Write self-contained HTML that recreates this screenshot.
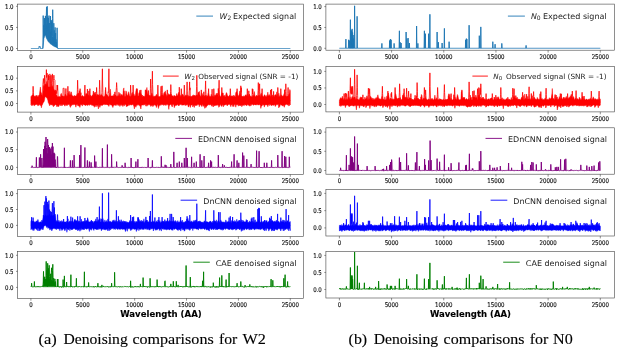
<!DOCTYPE html>
<html><head><meta charset="utf-8"><title>Denoising comparisons</title>
<style>
html,body{margin:0;padding:0;background:#fff;}
body{width:618px;height:348px;overflow:hidden;}
svg{display:block;}
.tk{font-family:"DejaVu Sans","Liberation Sans",sans-serif;font-size:6.4px;fill:#111;stroke:#111;stroke-width:0.15px;}
.lg{font-family:"DejaVu Sans","Liberation Sans",sans-serif;font-size:7.9px;fill:#1a1a1a;}
.xl{font-family:"DejaVu Sans","Liberation Sans",sans-serif;font-size:8.6px;font-weight:bold;fill:#000;stroke:#000;stroke-width:0.12px;}
.cap{font-family:"Liberation Serif","DejaVu Serif",serif;font-size:15px;fill:#000;stroke:#000;stroke-width:0.12px;}
</style></head><body>
<svg width="618" height="348" viewBox="0 0 618 348">
<rect width="618" height="348" fill="#fff"/>
<clipPath id="cL1"><rect x="17.60" y="4.10" width="286.00" height="46.20"/></clipPath>
<polygon clip-path="url(#cL1)" fill="#1f77b4" stroke="#1f77b4" stroke-width="0.5" points="42.8,48.5 43.0,44.0 43.2,39.5 43.5,34.9 43.7,32.0 43.9,29.6 44.1,27.5 44.3,25.8 44.6,24.1 44.8,23.7 45.0,23.6 45.2,23.5 45.4,23.4 45.7,23.4 45.9,23.5 46.1,23.8 46.3,24.3 46.5,24.8 46.8,25.2 47.0,25.6 47.2,26.0 47.4,26.4 47.6,26.8 47.9,27.2 48.1,27.5 48.3,27.9 48.5,28.3 48.7,28.6 49.0,29.0 49.2,29.4 49.4,29.8 49.6,30.1 49.8,30.5 50.1,30.9 50.3,31.3 50.5,31.7 50.7,32.1 50.9,32.6 51.2,33.0 51.4,33.4 51.6,33.8 51.8,34.2 52.0,34.7 52.3,35.3 52.5,35.9 52.7,36.5 52.9,37.1 53.1,37.7 53.4,38.3 53.6,38.9 53.8,39.5 54.0,40.1 54.2,40.7 54.5,41.2 54.7,41.8 54.9,42.3 55.1,42.9 55.3,43.5 55.6,44.0 55.8,44.6 56.0,45.1 56.2,45.5 56.4,45.9 56.7,46.2 56.9,46.6 57.1,47.0 57.3,47.3 57.5,47.7 57.8,48.2 57.8,48.4 57.5,48.1 57.3,48.0 57.1,47.9 56.9,47.7 56.7,47.6 56.4,47.5 56.2,47.4 56.0,47.2 55.8,47.1 55.6,47.0 55.3,47.0 55.1,46.9 54.9,46.8 54.7,46.7 54.5,46.6 54.2,46.5 54.0,46.4 53.8,46.3 53.6,46.1 53.4,46.0 53.1,45.8 52.9,45.7 52.7,45.6 52.5,45.4 52.3,45.3 52.0,45.1 51.8,45.0 51.6,44.8 51.4,44.6 51.2,44.4 50.9,44.2 50.7,44.0 50.5,43.9 50.3,43.7 50.1,43.5 49.8,43.3 49.6,43.0 49.4,42.8 49.2,42.6 49.0,42.3 48.7,42.1 48.5,41.9 48.3,41.6 48.1,41.4 47.9,41.1 47.6,40.6 47.4,40.2 47.2,39.8 47.0,39.3 46.8,38.9 46.5,38.5 46.3,37.9 46.1,37.4 45.9,36.8 45.7,36.2 45.4,35.8 45.2,35.4 45.0,35.1 44.8,34.8 44.6,34.8 44.3,36.0 44.1,37.3 43.9,38.9 43.7,40.8 43.5,42.8 43.2,44.8 43.0,46.6 42.8,48.5"/>
<polyline clip-path="url(#cL1)" fill="none" stroke="#1f77b4" stroke-width="0.95" stroke-linejoin="round" points="30.9,48.5 31.1,48.5 31.4,48.5 31.6,48.5 31.9,48.5 32.1,48.5 32.4,48.5 32.6,48.5 32.9,48.5 33.1,48.5 33.4,48.5 33.6,48.5 33.9,48.5 34.1,48.5 34.4,48.5 34.6,48.5 34.9,48.5 35.1,48.5 35.4,48.5 35.6,48.5 35.9,48.5 36.1,48.5 36.4,48.5 36.6,48.5 36.9,48.5 37.1,48.5 37.4,48.5 37.6,48.5 37.9,48.5 38.1,48.5 38.4,48.5 38.6,48.5 38.9,48.5 39.1,46.3 39.4,46.7 39.6,46.7 39.9,46.2 40.1,46.7 40.4,48.5 40.6,48.5 40.9,48.5 41.1,48.5 41.4,48.5 41.6,48.5 41.9,48.5 42.1,48.5 42.4,48.5 42.6,48.5 42.8,48.5 43.0,45.8 43.2,15.6 43.5,38.7 43.7,25.3 43.9,37.6 44.1,26.3 44.3,36.0 44.6,18.1 44.8,32.2 45.0,19.8 45.2,34.0 45.4,15.9 45.7,31.8 45.9,17.7 46.1,34.0 46.3,16.3 46.5,7.1 46.8,12.3 47.0,28.0 47.2,6.3 47.4,34.5 47.6,16.7 47.9,32.7 48.1,18.9 48.3,30.4 48.5,18.0 48.7,28.9 49.0,15.6 49.2,39.8 49.4,23.0 49.6,31.7 49.8,29.6 50.1,39.6 50.3,28.4 50.5,16.0 50.7,25.5 50.9,39.4 51.2,20.1 51.4,42.4 51.6,21.8 51.8,40.0 52.0,21.7 52.3,35.7 52.5,18.6 52.7,9.7 52.9,17.8 53.1,43.2 53.4,37.8 53.6,41.2 53.8,23.2 54.0,40.5 54.2,30.3 54.5,44.2 54.7,33.7 54.9,42.4 55.1,27.4 55.3,43.7 55.6,33.1 55.8,45.0 56.0,39.4 56.2,46.9 56.4,42.3 56.7,47.0 56.9,45.4 57.1,27.8 57.3,46.8 57.5,47.8 57.8,48.1 57.9,48.5 58.1,48.5 58.4,48.5 58.6,48.5 58.9,48.5 59.1,48.5 59.4,48.5 59.6,48.5 59.9,48.5 60.1,48.5 60.4,48.5 60.6,48.5 60.9,48.5 61.1,48.5 61.4,48.5 61.6,48.5 61.9,48.5 62.1,48.5 62.4,48.5 62.6,48.5 62.9,48.5 63.1,48.5 63.4,48.5 63.6,48.5 63.9,48.5 64.1,48.5 64.4,48.5 64.6,48.5 64.9,48.5 65.1,48.5 65.4,48.5 65.6,48.5 65.9,48.5 66.1,48.5 66.4,48.5 66.6,48.5 66.9,48.5 67.1,48.5 67.4,48.5 67.6,48.5 67.9,48.5 68.1,48.5 68.4,48.5 68.6,48.5 68.9,48.5 69.1,48.5 69.4,48.5 69.6,48.5 69.9,48.5 70.1,48.5 70.4,48.5 70.6,48.5 70.9,48.5 71.1,48.5 71.4,48.5 71.6,48.5 71.9,48.5 72.1,48.5 72.4,48.5 72.6,48.5 72.9,48.5 73.1,48.5 73.4,48.5 73.6,48.5 73.9,48.5 74.1,48.5 74.4,48.5 74.6,48.5 74.9,48.5 75.1,48.5 75.4,48.5 75.6,48.5 75.9,48.5 76.1,48.5 76.4,48.5 76.6,48.5 76.9,48.5 77.1,48.5 77.4,48.5 77.6,48.5 77.9,48.5 78.1,48.5 78.4,48.5 78.6,48.5 78.9,48.5 79.1,48.5 79.4,48.5 79.6,48.5 79.9,48.5 80.1,48.5 80.4,48.5 80.6,48.5 80.9,48.5 81.1,48.5 81.4,48.5 81.6,48.5 81.9,48.5 82.1,48.5 82.4,48.5 82.6,48.5 82.9,48.5 83.1,48.5 83.4,48.5 83.6,48.5 83.9,48.5 84.1,48.5 84.4,48.5 84.6,48.5 84.9,48.5 85.1,48.5 85.4,48.5 85.6,48.5 85.9,48.5 86.1,48.5 86.4,48.5 86.6,48.5 86.9,48.5 87.1,48.5 87.4,48.5 87.6,48.5 87.9,48.5 88.1,48.5 88.4,48.5 88.6,48.5 88.9,48.5 89.1,48.5 89.4,48.5 89.6,48.5 89.9,48.5 90.1,48.5 90.4,48.5 90.6,48.5 90.9,48.5 91.1,48.5 91.4,48.5 91.6,48.5 91.9,48.5 92.1,48.5 92.4,48.5 92.6,48.5 92.9,48.5 93.1,48.5 93.4,48.5 93.6,48.5 93.9,48.5 94.1,48.5 94.4,48.5 94.6,48.5 94.9,48.5 95.1,48.5 95.4,48.5 95.6,48.5 95.9,48.5 96.1,48.5 96.4,48.5 96.6,48.5 96.9,48.5 97.1,48.5 97.4,48.5 97.6,48.5 97.9,48.5 98.1,48.5 98.4,48.5 98.6,48.5 98.9,48.5 99.1,48.5 99.4,48.5 99.6,48.5 99.9,48.5 100.1,48.5 100.4,48.5 100.6,48.5 100.9,48.5 101.1,48.5 101.4,48.5 101.6,48.5 101.9,48.5 102.1,48.5 102.4,48.5 102.6,48.5 102.9,48.5 103.1,48.5 103.4,48.5 103.6,48.5 103.9,48.5 104.1,48.5 104.4,48.5 104.6,48.5 104.9,48.5 105.1,48.5 105.4,48.5 105.6,48.5 105.9,48.5 106.1,48.5 106.4,48.5 106.6,48.5 106.9,48.5 107.1,48.5 107.4,48.5 107.6,48.5 107.9,48.5 108.1,48.5 108.4,48.5 108.6,48.5 108.9,48.5 109.1,48.5 109.4,48.5 109.6,48.5 109.9,48.5 110.1,48.5 110.4,48.5 110.6,48.5 110.9,48.5 111.1,48.5 111.4,48.5 111.6,48.5 111.9,48.5 112.1,48.5 112.4,48.5 112.6,48.5 112.9,48.5 113.1,48.5 113.4,48.5 113.6,48.5 113.9,48.5 114.1,48.5 114.4,48.5 114.6,48.5 114.9,48.5 115.1,48.5 115.4,48.5 115.6,48.5 115.9,48.5 116.1,48.5 116.4,48.5 116.6,48.5 116.9,48.5 117.1,48.5 117.4,48.5 117.6,48.5 117.9,48.5 118.1,48.5 118.4,48.5 118.6,48.5 118.9,48.5 119.1,48.5 119.4,48.5 119.6,48.5 119.9,48.5 120.1,48.5 120.4,48.5 120.6,48.5 120.9,48.5 121.1,48.5 121.4,48.5 121.6,48.5 121.9,48.5 122.1,48.5 122.4,48.5 122.6,48.5 122.9,48.5 123.1,48.5 123.4,48.5 123.6,48.5 123.9,48.5 124.1,48.5 124.4,48.5 124.6,48.5 124.9,48.5 125.1,48.5 125.4,48.5 125.6,48.5 125.9,48.5 126.1,48.5 126.4,48.5 126.6,48.5 126.9,48.5 127.1,48.5 127.4,48.5 127.6,48.5 127.9,48.5 128.1,48.5 128.4,48.5 128.6,48.5 128.9,48.5 129.1,48.5 129.4,48.5 129.6,48.5 129.9,48.5 130.1,48.5 130.4,48.5 130.6,48.5 130.9,48.5 131.1,48.5 131.4,48.5 131.6,48.5 131.9,48.5 132.1,48.5 132.4,48.5 132.6,48.5 132.9,48.5 133.1,48.5 133.4,48.5 133.6,48.5 133.9,48.5 134.1,48.5 134.4,48.5 134.6,48.5 134.9,48.5 135.1,48.5 135.4,48.5 135.6,48.5 135.9,48.5 136.1,48.5 136.4,48.5 136.6,48.5 136.9,48.5 137.1,48.5 137.4,48.5 137.6,48.5 137.9,48.5 138.1,48.5 138.4,48.5 138.6,48.5 138.9,48.5 139.1,48.5 139.4,48.5 139.6,48.5 139.9,48.5 140.1,48.5 140.4,48.5 140.6,48.5 140.9,48.5 141.1,48.5 141.4,48.5 141.6,48.5 141.9,48.5 142.1,48.5 142.4,48.5 142.6,48.5 142.9,48.5 143.1,48.5 143.4,48.5 143.6,48.5 143.9,48.5 144.1,48.5 144.4,48.5 144.6,48.5 144.9,48.5 145.1,48.5 145.4,48.5 145.6,48.5 145.9,48.5 146.1,48.5 146.4,48.5 146.6,48.5 146.9,48.5 147.1,48.5 147.4,48.5 147.6,48.5 147.9,48.5 148.1,48.5 148.4,48.5 148.6,48.5 148.9,48.5 149.1,48.5 149.4,48.5 149.6,48.5 149.9,48.5 150.1,48.5 150.4,48.5 150.6,48.5 150.9,48.5 151.1,48.5 151.4,48.5 151.6,48.5 151.9,48.5 152.1,48.5 152.4,48.5 152.6,48.5 152.9,48.5 153.1,48.5 153.4,48.5 153.6,48.5 153.9,48.5 154.1,48.5 154.4,48.5 154.6,48.5 154.9,48.5 155.1,48.5 155.4,48.5 155.6,48.5 155.9,48.5 156.1,48.5 156.4,48.5 156.6,48.5 156.9,48.5 157.1,48.5 157.4,48.5 157.6,48.5 157.9,48.5 158.1,48.5 158.4,48.5 158.6,48.5 158.9,48.5 159.1,48.5 159.4,48.5 159.6,48.5 159.9,48.5 160.1,48.5 160.4,48.5 160.6,48.5 160.8,48.5 161.1,48.5 161.3,48.5 161.6,48.5 161.8,48.5 162.1,48.5 162.3,48.5 162.6,48.5 162.8,48.5 163.1,48.5 163.3,48.5 163.6,48.5 163.8,48.5 164.1,48.5 164.3,48.5 164.6,48.5 164.8,48.5 165.1,48.5 165.3,48.5 165.6,48.5 165.8,48.5 166.1,48.5 166.3,48.5 166.6,48.5 166.8,48.5 167.1,48.5 167.3,48.5 167.6,48.5 167.8,48.5 168.1,48.5 168.3,48.5 168.6,48.5 168.8,48.5 169.1,48.5 169.3,48.5 169.6,48.5 169.8,48.5 170.1,48.5 170.3,48.5 170.6,48.5 170.8,48.5 171.1,48.5 171.3,48.5 171.6,48.5 171.8,48.5 172.1,48.5 172.3,48.5 172.6,48.5 172.8,48.5 173.1,48.5 173.3,48.5 173.6,48.5 173.8,48.5 174.1,48.5 174.3,48.5 174.6,48.5 174.8,48.5 175.1,48.5 175.3,48.5 175.6,48.5 175.8,48.5 176.1,48.5 176.3,48.5 176.6,48.5 176.8,48.5 177.1,48.5 177.3,48.5 177.6,48.5 177.8,48.5 178.1,48.5 178.3,48.5 178.6,48.5 178.8,48.5 179.1,48.5 179.3,48.5 179.6,48.5 179.8,48.5 180.1,48.5 180.3,48.5 180.6,48.5 180.8,48.5 181.1,48.5 181.3,48.5 181.6,48.5 181.8,48.5 182.1,48.5 182.3,48.5 182.6,48.5 182.8,48.5 183.1,48.5 183.3,48.5 183.6,48.5 183.8,48.5 184.1,48.5 184.3,48.5 184.6,48.5 184.8,48.5 185.1,48.5 185.3,48.5 185.6,48.5 185.8,48.5 186.1,48.5 186.3,48.5 186.6,48.5 186.8,48.5 187.1,48.5 187.3,48.5 187.6,48.5 187.8,48.5 188.1,48.5 188.3,48.5 188.6,48.5 188.8,48.5 189.1,48.5 189.3,48.5 189.6,48.5 189.8,48.5 190.1,48.5 190.3,48.5 190.6,48.5 190.8,48.5 191.1,48.5 191.3,48.5 191.6,48.5 191.8,48.5 192.1,48.5 192.3,48.5 192.6,48.5 192.8,48.5 193.1,48.5 193.3,48.5 193.6,48.5 193.8,48.5 194.1,48.5 194.3,48.5 194.6,48.5 194.8,48.5 195.1,48.5 195.3,48.5 195.6,48.5 195.8,48.5 196.1,48.5 196.3,48.5 196.6,48.5 196.8,48.5 197.1,48.5 197.3,48.5 197.6,48.5 197.8,48.5 198.1,48.5 198.3,48.5 198.6,48.5 198.8,48.5 199.1,48.5 199.3,48.5 199.6,48.5 199.8,48.5 200.1,48.5 200.3,48.5 200.6,48.5 200.8,48.5 201.1,48.5 201.3,48.5 201.6,48.5 201.8,48.5 202.1,48.5 202.3,48.5 202.6,48.5 202.8,48.5 203.1,48.5 203.3,48.5 203.6,48.5 203.8,48.5 204.1,48.5 204.3,48.5 204.6,48.5 204.8,48.5 205.1,48.5 205.3,48.5 205.6,48.5 205.8,48.5 206.1,48.5 206.3,48.5 206.6,48.5 206.8,48.5 207.1,48.5 207.3,48.5 207.6,48.5 207.8,48.5 208.1,48.5 208.3,48.5 208.6,48.5 208.8,48.5 209.1,48.5 209.3,48.5 209.6,48.5 209.8,48.5 210.1,48.5 210.3,48.5 210.6,48.5 210.8,48.5 211.1,48.5 211.3,48.5 211.6,48.5 211.8,48.5 212.1,48.5 212.3,48.5 212.6,48.5 212.8,48.5 213.1,48.5 213.3,48.5 213.6,48.5 213.8,48.5 214.1,48.5 214.3,48.5 214.6,48.5 214.8,48.5 215.1,48.5 215.3,48.5 215.6,48.5 215.8,48.5 216.1,48.5 216.3,48.5 216.6,48.5 216.8,48.5 217.1,48.5 217.3,48.5 217.6,48.5 217.8,48.5 218.1,48.5 218.3,48.5 218.6,48.5 218.8,48.5 219.1,48.5 219.3,48.5 219.6,48.5 219.8,48.5 220.1,48.5 220.3,48.5 220.6,48.5 220.8,48.5 221.1,48.5 221.3,48.5 221.6,48.5 221.8,48.5 222.1,48.5 222.3,48.5 222.6,48.5 222.8,48.5 223.1,48.5 223.3,48.5 223.6,48.5 223.8,48.5 224.1,48.5 224.3,48.5 224.6,48.5 224.8,48.5 225.1,48.5 225.3,48.5 225.6,48.5 225.8,48.5 226.1,48.5 226.3,48.5 226.6,48.5 226.8,48.5 227.1,48.5 227.3,48.5 227.6,48.5 227.8,48.5 228.1,48.5 228.3,48.5 228.6,48.5 228.8,48.5 229.1,48.5 229.3,48.5 229.6,48.5 229.8,48.5 230.1,48.5 230.3,48.5 230.6,48.5 230.8,48.5 231.1,48.5 231.3,48.5 231.6,48.5 231.8,48.5 232.1,48.5 232.3,48.5 232.6,48.5 232.8,48.5 233.1,48.5 233.3,48.5 233.6,48.5 233.8,48.5 234.1,48.5 234.3,48.5 234.6,48.5 234.8,48.5 235.1,48.5 235.3,48.5 235.6,48.5 235.8,48.5 236.1,48.5 236.3,48.5 236.6,48.5 236.8,48.5 237.1,48.5 237.3,48.5 237.6,48.5 237.8,48.5 238.1,48.5 238.3,48.5 238.6,48.5 238.8,48.5 239.1,48.5 239.3,48.5 239.6,48.5 239.8,48.5 240.1,48.5 240.3,48.5 240.6,48.5 240.8,48.5 241.1,48.5 241.3,48.5 241.6,48.5 241.8,48.5 242.1,48.5 242.3,48.5 242.6,48.5 242.8,48.5 243.1,48.5 243.3,48.5 243.6,48.5 243.8,48.5 244.1,48.5 244.3,48.5 244.6,48.5 244.8,48.5 245.1,48.5 245.3,48.5 245.6,48.5 245.8,48.5 246.1,48.5 246.3,48.5 246.6,48.5 246.8,48.5 247.1,48.5 247.3,48.5 247.6,48.5 247.8,48.5 248.1,48.5 248.3,48.5 248.6,48.5 248.8,48.5 249.1,48.5 249.3,48.5 249.6,48.5 249.8,48.5 250.1,48.5 250.3,48.5 250.6,48.5 250.8,48.5 251.1,48.5 251.3,48.5 251.6,48.5 251.8,48.5 252.1,48.5 252.3,48.5 252.6,48.5 252.8,48.5 253.1,48.5 253.3,48.5 253.6,48.5 253.8,48.5 254.1,48.5 254.3,48.5 254.6,48.5 254.8,48.5 255.1,48.5 255.3,48.5 255.6,48.5 255.8,48.5 256.1,48.5 256.3,48.5 256.6,48.5 256.8,48.5 257.1,48.5 257.3,48.5 257.6,48.5 257.8,48.5 258.1,48.5 258.3,48.5 258.6,48.5 258.8,48.5 259.1,48.5 259.3,48.5 259.6,48.5 259.8,48.5 260.1,48.5 260.3,48.5 260.6,48.5 260.8,48.5 261.1,48.5 261.3,48.5 261.6,48.5 261.8,48.5 262.1,48.5 262.3,48.5 262.6,48.5 262.8,48.5 263.1,48.5 263.3,48.5 263.6,48.5 263.8,48.5 264.1,48.5 264.3,48.5 264.6,48.5 264.8,48.5 265.1,48.5 265.3,48.5 265.6,48.5 265.8,48.5 266.1,48.5 266.3,48.5 266.6,48.5 266.8,48.5 267.1,48.5 267.3,48.5 267.6,48.5 267.8,48.5 268.1,48.5 268.3,48.5 268.6,48.5 268.8,48.5 269.1,48.5 269.3,48.5 269.6,48.5 269.8,48.5 270.1,48.5 270.3,48.5 270.6,48.5 270.8,48.5 271.1,48.5 271.3,48.5 271.6,48.5 271.8,48.5 272.1,48.5 272.3,48.5 272.6,48.5 272.8,48.5 273.1,48.5 273.3,48.5 273.6,48.5 273.8,48.5 274.1,48.5 274.3,48.5 274.6,48.5 274.8,48.5 275.1,48.5 275.3,48.5 275.6,48.5 275.8,48.5 276.1,48.5 276.3,48.5 276.6,48.5 276.8,48.5 277.1,48.5 277.3,48.5 277.6,48.5 277.8,48.5 278.1,48.5 278.3,48.5 278.6,48.5 278.8,48.5 279.1,48.5 279.3,48.5 279.6,48.5 279.8,48.5 280.1,48.5 280.3,48.5 280.6,48.5 280.8,48.5 281.1,48.5 281.3,48.5 281.6,48.5 281.8,48.5 282.1,48.5 282.3,48.5 282.6,48.5 282.8,48.5 283.1,48.5 283.3,48.5 283.6,48.5 283.8,48.5 284.1,48.5 284.3,48.5 284.6,48.5 284.8,48.5 285.1,48.5 285.3,48.5 285.6,48.5 285.8,48.5 286.1,48.5 286.3,48.5 286.6,48.5 286.8,48.5 287.1,48.5 287.3,48.5 287.6,48.5 287.8,48.5 288.1,48.5 288.3,48.5 288.6,48.5 288.8,48.5 289.1,48.5 289.3,48.5 289.6,48.5 289.8,48.5 290.1,48.5 290.3,48.5"/>
<rect x="17.60" y="4.10" width="286.00" height="46.20" fill="none" stroke="#444444" stroke-width="0.60"/>
<line x1="16.00" y1="48.50" x2="17.60" y2="48.50" stroke="#444444" stroke-width="0.60"/>
<text x="13.60" y="50.72" text-anchor="end" class="tk" textLength="8.67" lengthAdjust="spacingAndGlyphs">0.0</text>
<line x1="16.00" y1="27.40" x2="17.60" y2="27.40" stroke="#444444" stroke-width="0.60"/>
<text x="13.60" y="29.62" text-anchor="end" class="tk" textLength="8.67" lengthAdjust="spacingAndGlyphs">0.5</text>
<line x1="16.00" y1="6.30" x2="17.60" y2="6.30" stroke="#444444" stroke-width="0.60"/>
<text x="13.60" y="8.52" text-anchor="end" class="tk" textLength="8.67" lengthAdjust="spacingAndGlyphs">1.0</text>
<line x1="30.90" y1="50.30" x2="30.90" y2="52.70" stroke="#444444" stroke-width="0.60"/>
<text x="30.90" y="59.00" text-anchor="middle" class="tk" textLength="3.47" lengthAdjust="spacingAndGlyphs">0</text>
<line x1="82.78" y1="50.30" x2="82.78" y2="52.70" stroke="#444444" stroke-width="0.60"/>
<text x="82.78" y="59.00" text-anchor="middle" class="tk" textLength="13.86" lengthAdjust="spacingAndGlyphs">5000</text>
<line x1="134.66" y1="50.30" x2="134.66" y2="52.70" stroke="#444444" stroke-width="0.60"/>
<text x="134.66" y="59.00" text-anchor="middle" class="tk" textLength="17.33" lengthAdjust="spacingAndGlyphs">10000</text>
<line x1="186.54" y1="50.30" x2="186.54" y2="52.70" stroke="#444444" stroke-width="0.60"/>
<text x="186.54" y="59.00" text-anchor="middle" class="tk" textLength="17.33" lengthAdjust="spacingAndGlyphs">15000</text>
<line x1="238.42" y1="50.30" x2="238.42" y2="52.70" stroke="#444444" stroke-width="0.60"/>
<text x="238.42" y="59.00" text-anchor="middle" class="tk" textLength="17.33" lengthAdjust="spacingAndGlyphs">20000</text>
<line x1="290.30" y1="50.30" x2="290.30" y2="52.70" stroke="#444444" stroke-width="0.60"/>
<text x="290.30" y="59.00" text-anchor="middle" class="tk" textLength="17.33" lengthAdjust="spacingAndGlyphs">25000</text>
<line x1="196.30" y1="16.10" x2="213.00" y2="16.10" stroke="#1f77b4" stroke-width="0.9"/>
<text x="219.60" y="19.10" class="lg" style="font-size:7.90px"><tspan font-style="italic">W</tspan><tspan font-size="6.00" dy="1.2">2</tspan></text>
<text x="233.03" y="19.10" class="lg" style="font-size:7.90px" textLength="63.21" lengthAdjust="spacingAndGlyphs">Expected signal</text>
<clipPath id="cL2"><rect x="17.60" y="66.30" width="286.00" height="45.80"/></clipPath>
<polygon clip-path="url(#cL2)" fill="#ff0000" stroke="#ff0000" stroke-width="0.5" points="30.9,96.5 31.4,96.2 31.9,95.6 32.4,95.0 32.9,95.1 33.4,95.1 33.9,95.8 34.4,96.1 34.9,96.5 35.4,96.3 35.9,95.6 36.4,96.2 36.9,95.0 37.4,96.5 37.9,96.7 38.4,95.9 38.9,95.1 39.4,94.7 39.9,90.8 40.4,87.1 40.9,92.0 41.4,93.0 41.9,95.0 42.4,96.7 42.9,92.9 43.4,86.4 43.9,85.4 44.4,85.7 44.9,86.2 45.4,85.5 45.9,85.6 46.4,83.1 46.9,81.3 47.4,84.2 47.9,86.5 48.4,86.9 48.9,87.1 49.4,87.0 49.9,87.0 50.4,86.7 50.9,87.0 51.4,86.7 51.9,87.8 52.4,86.5 52.9,85.5 53.4,88.4 53.9,89.3 54.4,90.1 54.9,90.7 55.4,90.5 55.9,91.9 56.4,95.1 56.9,95.2 57.4,96.7 57.9,96.7 58.4,96.7 58.9,96.5 59.4,96.4 59.9,96.8 60.4,96.7 60.9,93.7 61.4,93.4 61.9,95.7 62.4,96.1 62.9,95.9 63.4,96.5 63.9,96.3 64.4,96.5 64.9,95.7 65.4,94.0 65.9,94.9 66.4,95.8 66.9,96.5 67.4,95.7 67.9,95.4 68.4,92.8 68.9,91.2 69.4,91.5 69.9,95.1 70.4,94.3 70.9,91.7 71.4,92.1 71.9,95.1 72.4,95.9 72.9,95.8 73.4,96.0 73.9,96.8 74.4,95.3 74.9,96.3 75.4,96.0 75.9,96.0 76.4,96.1 76.9,94.5 77.4,93.9 77.9,92.9 78.4,93.1 78.9,93.6 79.4,96.2 79.9,96.2 80.4,96.1 80.9,96.6 81.4,96.6 81.9,96.0 82.4,95.4 82.9,96.1 83.4,96.6 83.9,96.6 84.4,96.3 84.9,96.5 85.4,96.0 85.9,93.6 86.4,93.7 86.9,93.8 87.4,94.3 87.9,96.1 88.4,94.8 88.9,95.9 89.4,96.4 89.9,95.8 90.4,95.3 90.9,96.6 91.4,95.8 91.9,96.4 92.4,95.2 92.9,94.8 93.4,95.8 93.9,92.9 94.4,93.3 94.9,94.5 95.4,93.7 95.9,94.8 96.4,96.2 96.9,95.4 97.4,94.4 97.9,94.8 98.4,95.2 98.9,94.6 99.4,94.6 99.9,96.2 100.4,95.3 100.9,94.6 101.4,94.9 101.9,94.7 102.4,96.1 102.9,96.1 103.4,96.9 103.9,96.8 104.4,96.2 104.9,96.0 105.4,90.0 105.9,95.0 106.4,94.2 106.9,94.5 107.4,95.8 107.9,95.6 108.4,96.8 108.9,96.9 109.4,95.8 109.9,95.2 110.4,89.2 110.9,95.9 111.4,96.0 111.9,96.0 112.4,95.8 112.9,96.1 113.4,96.0 113.9,94.1 114.4,94.3 114.9,96.3 115.4,95.0 115.9,95.1 116.4,96.8 116.9,96.1 117.4,96.2 117.9,96.2 118.4,94.9 118.9,92.1 119.4,93.7 119.9,96.0 120.4,96.3 120.9,95.6 121.4,94.7 121.9,94.3 122.4,94.9 122.9,96.2 123.4,89.3 123.9,87.9 124.4,95.3 124.9,96.9 125.4,95.8 125.9,90.8 126.4,91.8 126.9,94.4 127.4,95.2 127.9,95.5 128.4,91.7 128.9,92.8 129.4,95.8 129.9,96.2 130.4,96.4 130.9,95.9 131.4,95.2 131.9,93.1 132.4,92.4 132.9,95.4 133.4,95.8 133.9,93.8 134.4,95.5 134.9,96.3 135.4,95.0 135.9,91.0 136.4,88.7 136.9,88.8 137.4,95.4 137.9,96.1 138.4,95.9 138.9,92.7 139.4,92.3 139.9,90.1 140.4,92.6 140.9,93.5 141.4,94.2 141.9,95.8 142.4,95.0 142.9,96.7 143.4,96.1 143.9,96.0 144.4,96.5 144.9,96.7 145.4,94.4 145.9,90.1 146.4,90.8 146.9,87.5 147.4,92.2 147.9,94.4 148.4,95.1 148.9,95.3 149.4,95.5 149.9,95.4 150.4,96.4 150.9,95.0 151.4,95.1 151.9,92.9 152.4,94.4 152.9,96.5 153.4,96.4 153.9,96.5 154.4,95.9 154.9,96.4 155.4,95.7 155.9,96.2 156.4,94.3 156.9,95.0 157.4,95.7 157.9,96.3 158.4,96.5 158.9,96.7 159.4,96.5 159.9,96.6 160.4,96.4 160.8,96.2 161.3,95.1 161.8,96.1 162.3,95.1 162.8,95.3 163.3,95.6 163.8,93.3 164.3,92.1 164.8,93.4 165.3,90.9 165.8,93.6 166.3,94.8 166.8,96.4 167.3,96.1 167.8,95.6 168.3,93.6 168.8,94.7 169.3,95.1 169.8,94.3 170.3,94.1 170.8,94.8 171.3,94.2 171.8,95.8 172.3,95.8 172.8,95.9 173.3,96.7 173.8,95.5 174.3,95.6 174.8,95.7 175.3,96.3 175.8,96.3 176.3,95.4 176.8,93.5 177.3,95.7 177.8,95.4 178.3,93.6 178.8,92.2 179.3,94.3 179.8,96.7 180.3,96.6 180.8,95.2 181.3,95.5 181.8,96.5 182.3,93.9 182.8,94.5 183.3,95.2 183.8,96.4 184.3,96.5 184.8,96.6 185.3,95.4 185.8,95.1 186.3,95.5 186.8,95.5 187.3,96.9 187.8,94.9 188.3,95.8 188.8,96.8 189.3,95.9 189.8,96.3 190.3,96.4 190.8,96.2 191.3,96.3 191.8,96.6 192.3,96.0 192.8,95.2 193.3,94.8 193.8,96.3 194.3,95.0 194.8,95.9 195.3,95.6 195.8,96.2 196.3,95.2 196.8,94.7 197.3,96.1 197.8,94.5 198.3,92.0 198.8,92.8 199.3,91.3 199.8,94.4 200.3,96.5 200.8,96.3 201.3,96.8 201.8,93.1 202.3,94.1 202.8,96.1 203.3,95.0 203.8,96.9 204.3,95.9 204.8,96.2 205.3,95.1 205.8,96.3 206.3,95.3 206.8,96.9 207.3,96.0 207.8,95.5 208.3,93.2 208.8,94.8 209.3,96.3 209.8,96.5 210.3,96.6 210.8,95.9 211.3,94.2 211.8,96.6 212.3,95.8 212.8,96.7 213.3,96.4 213.8,96.6 214.3,96.6 214.8,95.1 215.3,94.8 215.8,96.3 216.3,93.3 216.8,94.5 217.3,93.1 217.8,95.0 218.3,95.2 218.8,96.4 219.3,94.6 219.8,96.1 220.3,96.4 220.8,96.8 221.3,95.3 221.8,92.7 222.3,94.1 222.8,92.8 223.3,96.3 223.8,95.9 224.3,95.2 224.8,96.3 225.3,96.9 225.8,94.6 226.3,92.6 226.8,93.0 227.3,95.1 227.8,95.9 228.3,96.3 228.8,96.6 229.3,95.5 229.8,95.3 230.3,96.5 230.8,96.1 231.3,95.9 231.8,96.3 232.3,95.7 232.8,96.3 233.3,96.6 233.8,95.0 234.3,96.1 234.8,96.3 235.3,96.9 235.8,92.5 236.3,92.3 236.8,91.5 237.3,94.1 237.8,96.1 238.3,95.5 238.8,96.6 239.3,93.6 239.8,90.9 240.3,91.9 240.8,95.0 241.3,96.8 241.8,96.1 242.3,96.6 242.8,96.2 243.3,96.8 243.8,95.7 244.3,96.3 244.8,96.5 245.3,95.1 245.8,94.8 246.3,96.3 246.8,95.2 247.3,94.1 247.8,96.0 248.3,96.9 248.8,95.1 249.3,94.0 249.8,95.1 250.3,96.4 250.8,96.1 251.3,96.8 251.8,96.8 252.3,96.4 252.8,95.4 253.3,96.0 253.8,94.1 254.3,91.5 254.8,94.9 255.3,96.4 255.8,96.4 256.3,95.7 256.8,95.1 257.3,96.3 257.8,96.0 258.3,95.6 258.8,95.4 259.3,95.1 259.8,96.1 260.3,96.8 260.8,94.1 261.3,93.2 261.8,95.1 262.3,96.5 262.8,96.1 263.3,96.7 263.8,96.2 264.3,94.8 264.8,94.9 265.3,95.7 265.8,96.6 266.3,96.7 266.8,95.3 267.3,95.4 267.8,92.1 268.3,95.2 268.8,95.8 269.3,94.6 269.8,95.8 270.3,96.2 270.8,96.8 271.3,96.0 271.8,96.1 272.3,94.8 272.8,96.6 273.3,96.8 273.8,95.9 274.3,96.8 274.8,94.9 275.3,94.7 275.8,94.8 276.3,95.7 276.8,91.8 277.3,94.8 277.8,96.6 278.3,96.8 278.8,93.1 279.3,95.5 279.8,96.4 280.3,96.7 280.8,95.4 281.3,94.8 281.8,96.3 282.3,96.2 282.8,95.8 283.3,96.2 283.8,94.6 284.3,93.4 284.8,96.2 285.3,95.9 285.8,95.7 286.3,96.4 286.8,96.6 287.3,96.0 287.8,96.5 288.3,95.8 288.8,95.5 289.3,92.4 289.8,89.5 290.3,90.8 290.3,104.9 289.8,104.3 289.3,105.7 288.8,106.0 288.3,104.5 287.8,104.9 287.3,104.8 286.8,104.6 286.3,104.3 285.8,104.7 285.3,104.8 284.8,105.4 284.3,107.3 283.8,106.2 283.3,105.3 282.8,105.7 282.3,105.9 281.8,105.0 281.3,105.0 280.8,104.8 280.3,104.5 279.8,106.7 279.3,106.5 278.8,107.9 278.3,104.6 277.8,104.6 277.3,104.7 276.8,104.7 276.3,104.5 275.8,105.7 275.3,106.5 274.8,104.4 274.3,104.9 273.8,105.5 273.3,105.0 272.8,104.9 272.3,105.0 271.8,105.7 271.3,105.5 270.8,104.8 270.3,104.4 269.8,105.7 269.3,104.3 268.8,104.7 268.3,104.9 267.8,106.7 267.3,104.9 266.8,104.9 266.3,104.8 265.8,104.9 265.3,104.7 264.8,105.6 264.3,107.1 263.8,104.4 263.3,105.2 262.8,104.4 262.3,105.4 261.8,105.9 261.3,106.5 260.8,108.4 260.3,105.0 259.8,105.0 259.3,104.3 258.8,105.1 258.3,105.0 257.8,104.5 257.3,104.8 256.8,104.8 256.3,104.8 255.8,104.9 255.3,104.9 254.8,104.4 254.3,104.7 253.8,105.2 253.3,105.0 252.8,104.6 252.3,104.6 251.8,104.6 251.3,104.9 250.8,105.9 250.3,104.3 249.8,106.3 249.3,105.0 248.8,105.5 248.3,105.0 247.8,104.5 247.3,105.1 246.8,105.8 246.3,105.4 245.8,104.7 245.3,105.2 244.8,104.6 244.3,105.6 243.8,105.2 243.3,105.3 242.8,105.3 242.3,105.7 241.8,106.8 241.3,105.1 240.8,105.7 240.3,105.4 239.8,105.3 239.3,105.8 238.8,104.6 238.3,106.2 237.8,104.3 237.3,105.0 236.8,105.0 236.3,104.6 235.8,107.2 235.3,104.7 234.8,104.4 234.3,104.7 233.8,106.7 233.3,104.9 232.8,106.6 232.3,104.5 231.8,105.0 231.3,104.8 230.8,106.7 230.3,105.0 229.8,104.6 229.3,104.6 228.8,104.4 228.3,104.4 227.8,105.1 227.3,105.9 226.8,105.3 226.3,104.5 225.8,104.5 225.3,104.9 224.8,105.3 224.3,105.0 223.8,105.0 223.3,106.9 222.8,105.1 222.3,104.8 221.8,106.3 221.3,106.3 220.8,105.0 220.3,104.6 219.8,105.4 219.3,106.7 218.8,107.3 218.3,105.1 217.8,105.4 217.3,104.8 216.8,105.0 216.3,105.2 215.8,105.8 215.3,104.8 214.8,105.7 214.3,105.8 213.8,105.0 213.3,107.0 212.8,106.2 212.3,104.5 211.8,106.3 211.3,105.0 210.8,104.6 210.3,104.9 209.8,105.1 209.3,104.7 208.8,104.5 208.3,105.1 207.8,105.2 207.3,105.5 206.8,105.9 206.3,107.1 205.8,107.7 205.3,105.8 204.8,108.4 204.3,105.5 203.8,105.8 203.3,106.4 202.8,104.3 202.3,105.4 201.8,106.6 201.3,105.7 200.8,105.1 200.3,104.7 199.8,104.7 199.3,106.8 198.8,104.3 198.3,104.7 197.8,104.3 197.3,105.3 196.8,105.3 196.3,105.4 195.8,105.5 195.3,105.6 194.8,104.7 194.3,107.5 193.8,105.4 193.3,105.8 192.8,107.0 192.3,104.8 191.8,105.0 191.3,105.1 190.8,105.5 190.3,107.5 189.8,105.4 189.3,104.6 188.8,106.9 188.3,106.9 187.8,105.3 187.3,104.5 186.8,104.9 186.3,104.8 185.8,105.7 185.3,104.9 184.8,104.3 184.3,105.2 183.8,105.0 183.3,104.9 182.8,105.1 182.3,105.1 181.8,105.3 181.3,104.5 180.8,104.6 180.3,104.4 179.8,104.8 179.3,105.0 178.8,106.0 178.3,105.0 177.8,105.2 177.3,104.3 176.8,105.0 176.3,105.6 175.8,105.1 175.3,105.8 174.8,106.3 174.3,107.7 173.8,105.1 173.3,104.5 172.8,104.6 172.3,106.9 171.8,106.3 171.3,104.7 170.8,104.5 170.3,104.5 169.8,105.3 169.3,105.2 168.8,109.4 168.3,104.9 167.8,105.1 167.3,104.3 166.8,104.6 166.3,105.0 165.8,105.5 165.3,104.8 164.8,105.0 164.3,104.4 163.8,105.5 163.3,104.7 162.8,104.6 162.3,105.1 161.8,104.4 161.3,104.5 160.8,105.5 160.4,104.4 159.9,105.1 159.4,105.4 158.9,106.7 158.4,108.5 157.9,105.0 157.4,104.5 156.9,106.3 156.4,107.5 155.9,105.6 155.4,105.2 154.9,105.5 154.4,104.4 153.9,105.3 153.4,105.4 152.9,106.7 152.4,105.1 151.9,105.7 151.4,105.3 150.9,106.5 150.4,105.6 149.9,105.3 149.4,104.4 148.9,104.5 148.4,104.7 147.9,105.4 147.4,104.8 146.9,106.3 146.4,104.3 145.9,106.2 145.4,104.6 144.9,104.6 144.4,105.0 143.9,104.5 143.4,105.2 142.9,105.0 142.4,104.9 141.9,105.2 141.4,105.1 140.9,109.0 140.4,107.3 139.9,105.3 139.4,105.7 138.9,104.9 138.4,104.5 137.9,105.5 137.4,104.5 136.9,105.1 136.4,105.8 135.9,107.3 135.4,106.1 134.9,105.7 134.4,108.9 133.9,106.5 133.4,105.3 132.9,104.3 132.4,104.7 131.9,105.1 131.4,105.1 130.9,104.4 130.4,105.0 129.9,104.8 129.4,105.0 128.9,105.6 128.4,104.6 127.9,105.9 127.4,106.1 126.9,106.2 126.4,106.8 125.9,104.7 125.4,104.5 124.9,104.4 124.4,105.7 123.9,105.6 123.4,104.5 122.9,106.6 122.4,104.8 121.9,105.5 121.4,104.5 120.9,105.5 120.4,104.5 119.9,106.5 119.4,105.1 118.9,104.4 118.4,105.6 117.9,104.8 117.4,104.3 116.9,105.6 116.4,104.3 115.9,104.7 115.4,105.4 114.9,105.5 114.4,104.7 113.9,105.2 113.4,105.7 112.9,107.5 112.4,106.6 111.9,105.4 111.4,104.9 110.9,105.1 110.4,104.7 109.9,104.4 109.4,104.6 108.9,106.4 108.4,105.3 107.9,105.0 107.4,105.0 106.9,104.4 106.4,104.4 105.9,104.9 105.4,104.5 104.9,104.3 104.4,104.8 103.9,104.4 103.4,104.5 102.9,104.9 102.4,105.3 101.9,105.8 101.4,104.9 100.9,105.0 100.4,105.7 99.9,107.4 99.4,106.2 98.9,104.5 98.4,109.0 97.9,105.2 97.4,105.5 96.9,106.8 96.4,105.2 95.9,104.7 95.4,106.4 94.9,106.5 94.4,107.3 93.9,104.7 93.4,106.2 92.9,105.1 92.4,105.2 91.9,105.6 91.4,104.7 90.9,104.7 90.4,104.5 89.9,104.6 89.4,105.4 88.9,104.5 88.4,105.1 87.9,104.9 87.4,105.6 86.9,105.2 86.4,104.7 85.9,105.5 85.4,105.4 84.9,104.9 84.4,105.0 83.9,104.8 83.4,104.5 82.9,104.3 82.4,106.1 81.9,104.9 81.4,104.7 80.9,104.5 80.4,105.3 79.9,107.4 79.4,105.7 78.9,106.2 78.4,105.2 77.9,105.9 77.4,104.4 76.9,104.8 76.4,104.4 75.9,107.2 75.4,105.3 74.9,104.6 74.4,104.4 73.9,104.6 73.4,104.7 72.9,104.5 72.4,105.0 71.9,104.7 71.4,105.8 70.9,105.6 70.4,107.4 69.9,106.2 69.4,104.5 68.9,104.4 68.4,104.5 67.9,104.5 67.4,105.3 66.9,105.8 66.4,104.7 65.9,105.3 65.4,104.6 64.9,106.2 64.4,105.0 63.9,104.7 63.4,104.5 62.9,104.6 62.4,105.4 61.9,105.7 61.4,104.3 60.9,106.0 60.4,104.4 59.9,104.7 59.4,104.7 58.9,106.5 58.4,106.5 57.9,105.4 57.4,106.3 56.9,106.9 56.4,105.1 55.9,105.0 55.4,104.6 54.9,105.3 54.4,105.4 53.9,106.1 53.4,106.8 52.9,104.4 52.4,105.4 51.9,104.4 51.4,104.9 50.9,105.1 50.4,103.9 49.9,105.5 49.4,105.5 48.9,103.0 48.4,103.2 47.9,100.6 47.4,98.7 46.9,98.3 46.4,97.4 45.9,96.8 45.4,96.9 44.9,97.4 44.4,100.5 43.9,102.1 43.4,102.3 42.9,103.5 42.4,104.7 41.9,105.4 41.4,107.8 40.9,105.0 40.4,105.6 39.9,104.3 39.4,105.1 38.9,104.7 38.4,105.6 37.9,105.8 37.4,105.0 36.9,104.3 36.4,104.5 35.9,104.5 35.4,105.0 34.9,104.9 34.4,105.7 33.9,105.6 33.4,104.5 32.9,104.7 32.4,105.2 31.9,105.9 31.4,104.6 30.9,104.9"/>
<polyline clip-path="url(#cL2)" fill="none" stroke="#ff0000" stroke-width="0.80" stroke-linejoin="round" points="30.9,100.5 31.1,100.5 31.4,100.5 31.6,100.5 31.9,100.5 32.1,100.5 32.4,100.5 32.6,96.9 32.9,92.7 33.1,86.3 33.4,92.7 33.6,96.9 33.9,100.5 34.1,100.5 34.4,100.5 34.6,100.5 34.9,100.5 35.1,100.5 35.4,100.5 35.6,100.5 35.9,100.5 36.1,100.5 36.4,100.5 36.6,100.5 36.9,100.5 37.1,100.5 37.4,100.5 37.6,100.5 37.9,100.5 38.1,100.5 38.4,100.5 38.6,100.5 38.9,100.5 39.1,100.5 39.4,100.5 39.6,100.5 39.9,100.5 40.1,100.5 40.4,100.5 40.6,100.5 40.9,100.5 41.1,100.5 41.4,100.5 41.6,100.5 41.9,100.5 42.1,100.5 42.4,100.5 42.6,100.5 42.9,84.3 43.1,82.0 43.4,78.5 43.6,82.0 43.9,84.3 44.1,88.8 44.4,83.4 44.6,75.2 44.9,83.4 45.1,88.8 45.4,84.2 45.6,93.4 45.9,82.7 46.1,77.5 46.4,69.6 46.6,77.5 46.9,75.3 47.1,73.1 47.4,82.2 47.6,88.3 47.9,83.6 48.1,80.0 48.4,74.7 48.6,80.0 48.9,75.8 49.1,93.4 49.4,75.4 49.6,74.8 49.9,73.9 50.1,74.8 50.4,75.4 50.6,88.8 50.9,83.4 51.1,75.2 51.4,83.4 51.6,88.8 51.9,82.4 52.1,79.0 52.4,73.9 52.6,79.0 52.9,82.4 53.1,93.4 53.4,80.8 53.6,78.6 53.9,75.2 54.1,78.6 54.4,79.2 54.6,79.9 54.9,80.4 55.1,93.4 55.4,90.3 55.6,90.4 55.9,90.3 56.1,90.4 56.4,90.5 56.6,93.7 56.9,90.2 57.1,85.0 57.4,90.2 57.6,85.1 57.9,92.0 58.1,96.6 58.4,100.5 58.6,100.5 58.9,100.5 59.1,100.5 59.4,100.5 59.6,100.5 59.9,100.5 60.1,100.5 60.4,100.5 60.6,100.5 60.9,100.5 61.1,100.5 61.4,100.5 61.6,100.5 61.9,100.5 62.1,100.5 62.4,100.5 62.6,100.5 62.9,100.5 63.1,88.2 63.4,88.3 63.6,88.2 63.9,88.3 64.1,88.2 64.4,100.5 64.6,100.5 64.9,100.5 65.1,100.5 65.4,100.5 65.6,100.5 65.9,88.5 66.1,100.5 66.4,100.5 66.6,100.5 66.9,100.5 67.1,100.5 67.4,96.9 67.6,92.7 67.9,86.3 68.1,92.7 68.4,96.9 68.6,100.5 68.9,100.5 69.1,100.5 69.4,100.5 69.6,100.5 69.9,100.5 70.1,100.5 70.4,100.5 70.6,100.5 70.9,100.5 71.1,100.5 71.4,100.5 71.6,100.5 71.9,100.5 72.1,100.5 72.4,100.5 72.6,100.5 72.9,100.5 73.1,100.5 73.4,100.5 73.6,100.5 73.9,100.5 74.1,100.5 74.4,100.5 74.6,100.5 74.9,100.5 75.1,100.5 75.4,100.5 75.6,100.5 75.9,100.5 76.1,100.5 76.4,100.5 76.6,100.5 76.9,100.5 77.1,95.4 77.4,89.3 77.6,80.2 77.9,89.3 78.1,95.4 78.4,100.5 78.6,100.5 78.9,100.5 79.1,100.5 79.4,90.7 79.6,97.5 79.9,94.0 80.1,88.7 80.4,94.0 80.6,97.5 80.9,92.7 81.1,100.5 81.4,100.5 81.6,100.5 81.9,100.5 82.1,100.5 82.4,100.5 82.6,100.5 82.9,100.5 83.1,100.5 83.4,100.5 83.6,100.5 83.9,100.5 84.1,100.5 84.4,96.6 84.6,92.0 84.9,85.1 85.1,92.0 85.4,96.6 85.6,100.5 85.9,100.5 86.1,100.5 86.4,100.5 86.6,100.5 86.9,100.5 87.1,100.5 87.4,89.0 87.6,100.5 87.9,100.5 88.1,100.5 88.4,100.5 88.6,100.5 88.9,90.9 89.1,100.5 89.4,97.5 89.6,94.0 89.9,88.7 90.1,94.0 90.4,97.5 90.6,100.5 90.9,100.5 91.1,100.5 91.4,100.5 91.6,100.5 91.9,100.5 92.1,100.5 92.4,100.5 92.6,100.5 92.9,98.1 93.1,95.3 93.4,91.1 93.6,95.3 93.9,98.1 94.1,100.5 94.4,100.5 94.6,100.5 94.9,100.5 95.1,92.0 95.4,100.5 95.6,100.5 95.9,100.5 96.1,97.2 96.4,93.3 96.6,87.5 96.9,93.3 97.1,97.2 97.4,100.5 97.6,100.5 97.9,100.5 98.1,100.5 98.4,100.5 98.6,100.5 98.9,100.5 99.1,95.4 99.4,89.3 99.6,80.2 99.9,89.3 100.1,95.4 100.4,100.5 100.6,100.5 100.9,100.5 101.1,100.5 101.4,100.5 101.6,100.5 101.9,92.5 102.1,83.0 102.4,68.8 102.6,83.0 102.9,92.5 103.1,100.5 103.4,100.5 103.6,100.5 103.9,100.5 104.1,100.5 104.4,100.5 104.6,100.5 104.9,100.5 105.1,97.2 105.4,93.3 105.6,87.5 105.9,93.3 106.1,97.2 106.4,100.5 106.6,100.5 106.9,100.5 107.1,100.5 107.4,100.5 107.6,100.5 107.9,100.5 108.1,91.8 108.4,92.5 108.6,83.0 108.9,68.8 109.1,83.0 109.4,92.5 109.6,100.5 109.9,100.5 110.1,100.5 110.4,100.5 110.6,100.5 110.9,100.5 111.1,100.5 111.4,100.5 111.6,100.5 111.9,100.5 112.1,100.5 112.4,100.5 112.6,100.5 112.9,100.5 113.1,100.5 113.4,100.5 113.6,100.5 113.9,100.5 114.1,100.5 114.4,100.5 114.6,100.5 114.9,91.9 115.1,100.5 115.4,100.5 115.6,100.5 115.9,100.5 116.1,90.9 116.4,87.6 116.6,82.6 116.9,87.6 117.1,90.9 117.4,100.5 117.6,100.5 117.9,100.5 118.1,100.5 118.4,100.5 118.6,100.5 118.9,100.5 119.1,100.5 119.4,100.5 119.6,100.5 119.9,100.5 120.1,93.5 120.4,100.5 120.6,100.5 120.9,100.5 121.1,100.5 121.4,100.5 121.6,100.5 121.9,100.5 122.1,100.5 122.4,100.5 122.6,100.5 122.9,100.5 123.1,100.5 123.4,98.1 123.6,95.3 123.9,91.1 124.1,95.3 124.4,98.1 124.6,100.5 124.9,100.5 125.1,100.5 125.4,100.5 125.6,100.5 125.9,100.5 126.1,100.5 126.4,100.5 126.6,100.5 126.9,100.5 127.1,100.5 127.4,100.5 127.6,100.5 127.9,100.5 128.1,100.5 128.4,100.5 128.6,100.5 128.9,100.5 129.1,100.5 129.4,100.5 129.6,100.5 129.9,100.5 130.1,96.6 130.4,92.0 130.6,85.1 130.9,92.0 131.1,96.6 131.4,100.5 131.6,100.5 131.9,100.5 132.1,100.5 132.4,100.5 132.6,96.6 132.9,92.0 133.1,85.1 133.4,92.0 133.6,96.6 133.9,100.5 134.1,100.5 134.4,100.5 134.6,100.5 134.9,100.5 135.1,100.5 135.4,100.5 135.6,100.5 135.9,100.5 136.1,100.5 136.4,100.5 136.6,97.5 136.9,94.0 137.1,88.7 137.4,94.0 137.6,97.5 137.9,100.5 138.1,100.5 138.4,100.5 138.6,100.5 138.9,100.5 139.1,100.5 139.4,100.5 139.6,100.5 139.9,100.5 140.1,100.5 140.4,97.8 140.6,94.7 140.9,89.9 141.1,94.7 141.4,97.8 141.6,100.5 141.9,100.5 142.1,100.5 142.4,100.5 142.6,100.5 142.9,100.5 143.1,100.5 143.4,100.5 143.6,100.5 143.9,100.5 144.1,100.5 144.4,100.5 144.6,100.5 144.9,100.5 145.1,100.5 145.4,89.8 145.6,100.5 145.9,100.5 146.1,100.5 146.4,100.5 146.6,100.5 146.9,100.5 147.1,100.5 147.4,100.5 147.6,100.5 147.9,100.5 148.1,100.5 148.4,90.5 148.6,100.5 148.9,100.5 149.1,100.5 149.4,100.5 149.6,100.5 149.9,100.5 150.1,95.1 150.4,88.7 150.6,79.0 150.9,88.7 151.1,95.1 151.4,100.5 151.6,100.5 151.9,93.2 152.1,84.4 152.4,71.2 152.6,84.4 152.9,93.2 153.1,100.5 153.4,100.5 153.6,100.5 153.9,100.5 154.1,100.5 154.4,100.5 154.6,100.5 154.9,100.5 155.1,100.5 155.4,100.5 155.6,100.5 155.9,100.5 156.1,100.5 156.4,100.5 156.6,100.5 156.9,100.5 157.1,100.5 157.4,96.6 157.6,92.0 157.9,85.1 158.1,92.0 158.4,96.6 158.6,100.5 158.9,100.5 159.1,100.5 159.4,100.5 159.6,100.5 159.9,100.5 160.1,100.5 160.4,100.5 160.6,96.9 160.8,90.5 161.1,86.3 161.3,92.7 161.6,96.8 161.8,92.4 162.1,85.8 162.3,92.4 162.6,96.8 162.8,100.5 163.1,100.5 163.3,100.5 163.6,100.5 163.8,100.5 164.1,100.5 164.3,100.5 164.6,100.5 164.8,100.5 165.1,100.5 165.3,100.5 165.6,100.5 165.8,100.5 166.1,100.5 166.3,100.5 166.6,100.5 166.8,97.8 167.1,94.7 167.3,89.9 167.6,94.7 167.8,97.8 168.1,100.5 168.3,100.5 168.6,100.5 168.8,100.5 169.1,100.5 169.3,100.5 169.6,100.5 169.8,100.5 170.1,100.5 170.3,96.5 170.6,91.7 170.8,84.6 171.1,91.7 171.3,96.5 171.6,100.5 171.8,100.5 172.1,100.5 172.3,100.5 172.6,100.5 172.8,100.5 173.1,100.5 173.3,100.5 173.6,100.5 173.8,100.5 174.1,100.5 174.3,100.5 174.6,100.5 174.8,100.5 175.1,100.5 175.3,100.5 175.6,100.5 175.8,100.5 176.1,100.5 176.3,100.5 176.6,100.5 176.8,100.5 177.1,100.5 177.3,100.5 177.6,100.5 177.8,100.5 178.1,100.5 178.3,100.5 178.6,100.5 178.8,100.5 179.1,100.5 179.3,87.2 179.6,100.5 179.8,100.5 180.1,100.5 180.3,100.5 180.6,100.5 180.8,97.5 181.1,94.0 181.3,88.7 181.6,94.0 181.8,97.5 182.1,100.5 182.3,100.5 182.6,100.5 182.8,100.5 183.1,100.5 183.3,100.5 183.6,100.5 183.8,96.6 184.1,92.0 184.3,85.1 184.6,92.0 184.8,96.6 185.1,100.5 185.3,100.5 185.6,100.5 185.8,100.5 186.1,100.5 186.3,100.5 186.6,95.8 186.8,90.3 187.1,81.9 187.3,90.3 187.6,91.4 187.8,100.5 188.1,100.5 188.3,100.5 188.6,100.5 188.8,100.5 189.1,95.8 189.3,90.3 189.6,81.9 189.8,90.3 190.1,87.8 190.3,100.5 190.6,100.5 190.8,100.5 191.1,100.5 191.3,100.5 191.6,100.5 191.8,100.5 192.1,100.5 192.3,100.5 192.6,100.5 192.8,100.5 193.1,100.5 193.3,100.5 193.6,100.5 193.8,100.5 194.1,100.5 194.3,100.5 194.6,100.5 194.8,100.5 195.1,100.5 195.3,100.5 195.6,100.5 195.8,100.5 196.1,100.5 196.3,94.2 196.6,86.6 196.8,75.3 197.1,86.6 197.3,94.2 197.6,100.5 197.8,100.5 198.1,100.5 198.3,100.5 198.6,100.5 198.8,100.5 199.1,100.5 199.3,100.5 199.6,100.5 199.8,100.5 200.1,100.5 200.3,100.5 200.6,100.5 200.8,97.8 201.1,94.7 201.3,89.9 201.6,94.7 201.8,97.8 202.1,100.5 202.3,100.5 202.6,100.5 202.8,100.5 203.1,100.5 203.3,100.5 203.6,100.5 203.8,91.8 204.1,100.5 204.3,100.5 204.6,100.5 204.8,100.5 205.1,95.6 205.3,89.7 205.6,80.9 205.8,89.7 206.1,95.6 206.3,100.5 206.6,100.5 206.8,100.5 207.1,100.5 207.3,100.5 207.6,100.5 207.8,100.5 208.1,97.5 208.3,94.0 208.6,88.7 208.8,94.0 209.1,97.5 209.3,100.5 209.6,100.5 209.8,100.5 210.1,100.5 210.3,100.5 210.6,100.5 210.8,100.5 211.1,100.5 211.3,100.5 211.6,100.5 211.8,100.5 212.1,89.2 212.3,100.5 212.6,100.5 212.8,100.5 213.1,100.5 213.3,97.5 213.6,94.0 213.8,88.7 214.1,94.0 214.3,97.5 214.6,100.5 214.8,100.5 215.1,100.5 215.3,100.5 215.6,100.5 215.8,100.5 216.1,100.5 216.3,100.5 216.6,100.5 216.8,100.5 217.1,100.5 217.3,100.5 217.6,100.5 217.8,100.5 218.1,100.5 218.3,88.5 218.6,95.4 218.8,89.3 219.1,80.2 219.3,89.3 219.6,95.4 219.8,100.5 220.1,100.5 220.3,100.5 220.6,100.5 220.8,100.5 221.1,100.5 221.3,97.2 221.6,93.3 221.8,87.5 222.1,93.3 222.3,97.2 222.6,100.5 222.8,93.0 223.1,100.5 223.3,100.5 223.6,100.5 223.8,100.5 224.1,100.5 224.3,100.5 224.6,100.5 224.8,100.5 225.1,100.5 225.3,100.5 225.6,100.5 225.8,100.5 226.1,100.5 226.3,100.5 226.6,100.5 226.8,100.5 227.1,100.5 227.3,100.5 227.6,100.5 227.8,100.5 228.1,100.5 228.3,100.5 228.6,100.5 228.8,100.5 229.1,100.5 229.3,100.5 229.6,100.5 229.8,97.5 230.1,94.0 230.3,88.7 230.6,94.0 230.8,97.5 231.1,100.5 231.3,100.5 231.6,100.5 231.8,100.5 232.1,100.5 232.3,100.5 232.6,100.5 232.8,100.5 233.1,100.5 233.3,100.5 233.6,100.5 233.8,100.5 234.1,100.5 234.3,100.5 234.6,100.5 234.8,100.5 235.1,100.5 235.3,100.5 235.6,100.5 235.8,100.5 236.1,100.5 236.3,100.5 236.6,97.5 236.8,94.0 237.1,88.7 237.3,94.0 237.6,97.5 237.8,100.5 238.1,100.5 238.3,100.5 238.6,100.5 238.8,100.5 239.1,100.5 239.3,100.5 239.6,100.5 239.8,100.5 240.1,100.5 240.3,96.8 240.6,92.4 240.8,85.8 241.1,92.4 241.3,87.7 241.6,100.5 241.8,100.5 242.1,100.5 242.3,100.5 242.6,100.5 242.8,100.5 243.1,100.5 243.3,100.5 243.6,100.5 243.8,100.5 244.1,100.5 244.3,100.5 244.6,100.5 244.8,100.5 245.1,100.5 245.3,100.5 245.6,100.5 245.8,100.5 246.1,100.5 246.3,100.5 246.6,100.5 246.8,97.5 247.1,94.0 247.3,88.7 247.6,94.0 247.8,97.5 248.1,100.5 248.3,100.5 248.6,100.5 248.8,90.8 249.1,100.5 249.3,100.5 249.6,100.5 249.8,100.5 250.1,100.5 250.3,100.5 250.6,100.5 250.8,100.5 251.1,100.5 251.3,100.5 251.6,100.5 251.8,97.5 252.1,94.0 252.3,88.7 252.6,94.0 252.8,89.1 253.1,100.5 253.3,100.5 253.6,100.5 253.8,100.5 254.1,100.5 254.3,100.5 254.6,100.5 254.8,100.5 255.1,100.5 255.3,100.5 255.6,100.5 255.8,100.5 256.1,100.5 256.3,100.5 256.6,100.5 256.8,100.5 257.1,100.5 257.3,100.5 257.6,100.5 257.8,96.0 258.1,90.7 258.3,82.6 258.6,90.7 258.8,96.0 259.1,96.3 259.3,91.3 259.6,83.8 259.8,91.3 260.1,96.3 260.3,100.5 260.6,100.5 260.8,100.5 261.1,100.5 261.3,100.5 261.6,97.5 261.8,94.0 262.1,88.7 262.3,94.0 262.6,97.5 262.8,100.5 263.1,100.5 263.3,100.5 263.6,100.5 263.8,100.5 264.1,100.5 264.3,100.5 264.6,100.5 264.8,100.5 265.1,100.5 265.3,100.5 265.6,100.5 265.8,100.5 266.1,100.5 266.3,100.5 266.6,100.5 266.8,100.5 267.1,100.5 267.3,100.5 267.6,100.5 267.8,100.5 268.1,100.5 268.3,100.5 268.6,100.5 268.8,100.5 269.1,100.5 269.3,100.5 269.6,100.5 269.8,100.5 270.1,97.8 270.3,94.7 270.6,89.9 270.8,94.7 271.1,97.8 271.3,100.5 271.6,89.1 271.8,100.5 272.1,100.5 272.3,100.5 272.6,100.5 272.8,100.5 273.1,100.5 273.3,100.5 273.6,91.4 273.8,100.5 274.1,100.5 274.3,100.5 274.6,100.5 274.8,100.5 275.1,100.5 275.3,100.5 275.6,100.5 275.8,100.5 276.1,100.5 276.3,100.5 276.6,100.5 276.8,100.5 277.1,100.5 277.3,97.2 277.6,93.3 277.8,87.5 278.1,93.3 278.3,97.2 278.6,100.5 278.8,100.5 279.1,100.5 279.3,100.5 279.6,100.5 279.8,100.5 280.1,100.5 280.3,97.5 280.6,94.0 280.8,88.7 281.1,94.0 281.3,97.5 281.6,100.5 281.8,100.5 282.1,100.5 282.3,100.5 282.6,100.5 282.8,100.5 283.1,100.5 283.3,100.5 283.6,100.5 283.8,100.5 284.1,100.5 284.3,100.5 284.6,89.7 284.8,100.5 285.1,100.5 285.3,96.3 285.6,91.3 285.8,83.8 286.1,91.3 286.3,96.3 286.6,100.5 286.8,100.5 287.1,100.5 287.3,100.5 287.6,97.2 287.8,93.3 288.1,87.5 288.3,93.3 288.6,97.2 288.8,100.5 289.1,100.5 289.3,100.5 289.6,100.5 289.8,100.5 290.1,100.5 290.3,100.5"/>
<rect x="17.60" y="66.30" width="286.00" height="45.80" fill="none" stroke="#444444" stroke-width="0.60"/>
<line x1="16.00" y1="103.50" x2="17.60" y2="103.50" stroke="#444444" stroke-width="0.60"/>
<text x="13.60" y="105.72" text-anchor="end" class="tk" textLength="8.67" lengthAdjust="spacingAndGlyphs">0.0</text>
<line x1="16.00" y1="90.85" x2="17.60" y2="90.85" stroke="#444444" stroke-width="0.60"/>
<text x="13.60" y="93.07" text-anchor="end" class="tk" textLength="8.67" lengthAdjust="spacingAndGlyphs">0.5</text>
<line x1="16.00" y1="78.20" x2="17.60" y2="78.20" stroke="#444444" stroke-width="0.60"/>
<text x="13.60" y="80.42" text-anchor="end" class="tk" textLength="8.67" lengthAdjust="spacingAndGlyphs">1.0</text>
<line x1="30.90" y1="112.10" x2="30.90" y2="114.50" stroke="#444444" stroke-width="0.60"/>
<text x="30.90" y="120.80" text-anchor="middle" class="tk" textLength="3.47" lengthAdjust="spacingAndGlyphs">0</text>
<line x1="82.78" y1="112.10" x2="82.78" y2="114.50" stroke="#444444" stroke-width="0.60"/>
<text x="82.78" y="120.80" text-anchor="middle" class="tk" textLength="13.86" lengthAdjust="spacingAndGlyphs">5000</text>
<line x1="134.66" y1="112.10" x2="134.66" y2="114.50" stroke="#444444" stroke-width="0.60"/>
<text x="134.66" y="120.80" text-anchor="middle" class="tk" textLength="17.33" lengthAdjust="spacingAndGlyphs">10000</text>
<line x1="186.54" y1="112.10" x2="186.54" y2="114.50" stroke="#444444" stroke-width="0.60"/>
<text x="186.54" y="120.80" text-anchor="middle" class="tk" textLength="17.33" lengthAdjust="spacingAndGlyphs">15000</text>
<line x1="238.42" y1="112.10" x2="238.42" y2="114.50" stroke="#444444" stroke-width="0.60"/>
<text x="238.42" y="120.80" text-anchor="middle" class="tk" textLength="17.33" lengthAdjust="spacingAndGlyphs">20000</text>
<line x1="290.30" y1="112.10" x2="290.30" y2="114.50" stroke="#444444" stroke-width="0.60"/>
<text x="290.30" y="120.80" text-anchor="middle" class="tk" textLength="17.33" lengthAdjust="spacingAndGlyphs">25000</text>
<line x1="162.90" y1="76.10" x2="178.70" y2="76.10" stroke="#ff0000" stroke-width="0.9"/>
<text x="184.30" y="78.75" class="lg" style="font-size:7.20px"><tspan font-style="italic">W</tspan><tspan font-size="5.47" dy="1.2">2</tspan></text>
<text x="198.16" y="78.75" class="lg" style="font-size:7.20px" textLength="100.27" lengthAdjust="spacingAndGlyphs">Observed signal (SNR = -1)</text>
<clipPath id="cL3"><rect x="17.60" y="127.90" width="286.00" height="46.50"/></clipPath>
<polygon clip-path="url(#cL3)" fill="#800080" stroke="#800080" stroke-width="0.5" points="42.9,167.4 43.2,163.3 43.5,159.1 43.7,157.8 44.0,157.0 44.3,156.1 44.6,155.2 44.9,154.4 45.1,153.9 45.4,153.8 45.7,153.7 46.0,153.6 46.3,153.5 46.5,153.4 46.8,153.3 47.1,153.3 47.4,153.6 47.7,153.8 47.9,154.1 48.2,154.3 48.5,154.6 48.8,154.8 49.1,155.1 49.3,155.4 49.6,155.7 49.9,156.1 50.2,156.4 50.5,156.7 50.7,156.8 51.0,156.8 51.3,156.8 51.6,156.8 51.9,156.8 52.1,157.0 52.4,157.4 52.7,157.8 53.0,158.2 53.3,158.6 53.5,159.0 53.8,159.4 54.1,160.0 54.4,161.3 54.7,162.5 54.9,163.7 55.2,164.9 55.5,166.1 55.8,167.3 55.8,167.4 55.5,167.4 55.2,167.4 54.9,167.4 54.7,167.4 54.4,167.4 54.1,167.4 53.8,167.4 53.5,167.4 53.3,167.4 53.0,167.4 52.7,167.4 52.4,167.4 52.1,167.4 51.9,167.4 51.6,167.4 51.3,167.4 51.0,167.4 50.7,167.4 50.5,167.4 50.2,167.4 49.9,167.4 49.6,167.4 49.3,167.4 49.1,167.4 48.8,167.4 48.5,167.4 48.2,167.4 47.9,167.4 47.7,167.4 47.4,167.4 47.1,167.4 46.8,167.4 46.5,167.4 46.3,167.4 46.0,167.4 45.7,167.4 45.4,167.4 45.1,167.4 44.9,167.4 44.6,167.4 44.3,167.4 44.0,167.4 43.7,167.4 43.5,167.4 43.2,167.4 42.9,167.4"/>
<polyline clip-path="url(#cL3)" fill="none" stroke="#800080" stroke-width="0.95" stroke-linejoin="round" points="30.9,167.5 31.1,167.2 31.4,167.3 31.6,167.4 31.9,167.4 32.1,165.7 32.4,167.3 32.6,167.3 32.9,167.3 33.1,167.3 33.4,167.4 33.6,167.5 33.9,167.7 34.1,167.6 34.4,167.5 34.6,167.3 34.9,167.4 35.1,167.4 35.4,167.0 35.6,167.4 35.9,167.7 36.1,167.2 36.4,157.3 36.6,167.4 36.9,167.2 37.1,167.4 37.4,167.4 37.6,167.7 37.9,167.6 38.1,167.2 38.4,167.3 38.6,167.5 38.9,167.4 39.1,167.3 39.4,157.5 39.6,167.4 39.9,167.4 40.1,167.4 40.4,167.2 40.6,154.3 40.9,167.4 41.1,167.5 41.4,167.5 41.6,167.4 41.9,158.0 42.1,167.4 42.4,167.3 42.6,167.5 42.9,167.4 42.9,167.4 43.2,164.4 43.5,149.0 43.7,159.6 44.0,149.9 44.3,160.7 44.6,145.9 44.9,162.3 45.1,141.8 45.4,156.2 45.7,144.9 46.0,137.0 46.3,147.3 46.5,158.7 46.8,148.0 47.1,155.5 47.4,140.0 47.7,139.1 47.9,145.0 48.2,157.5 48.5,145.0 48.8,161.7 49.1,148.3 49.3,166.1 49.6,147.1 49.9,166.7 50.2,151.1 50.5,159.4 50.7,148.6 51.0,167.2 51.3,154.4 51.6,159.3 51.9,146.7 52.1,163.0 52.4,143.0 52.7,166.9 53.0,146.6 53.3,164.3 53.5,153.1 53.8,164.0 54.1,152.8 54.4,165.4 54.7,153.8 54.9,165.6 55.2,159.6 55.5,166.5 55.8,167.3 55.9,167.3 56.1,167.5 56.4,167.0 56.6,167.6 56.9,167.1 57.1,167.4 57.4,156.4 57.6,156.8 57.9,167.5 58.1,167.4 58.4,167.2 58.6,167.6 58.9,167.4 59.1,167.4 59.4,167.4 59.6,167.4 59.9,167.3 60.1,167.2 60.4,167.4 60.6,167.2 60.9,167.2 61.1,167.6 61.4,167.3 61.6,167.2 61.9,167.4 62.1,167.5 62.4,167.4 62.6,167.4 62.9,167.4 63.1,167.3 63.4,167.5 63.6,167.3 63.9,167.3 64.1,167.7 64.4,147.8 64.6,167.6 64.9,167.1 65.1,167.8 65.4,167.5 65.6,167.2 65.9,167.4 66.1,167.2 66.4,167.5 66.6,167.3 66.9,167.2 67.1,167.5 67.4,167.5 67.6,167.4 67.9,167.0 68.1,167.3 68.4,167.1 68.6,167.5 68.9,167.4 69.1,167.5 69.4,167.5 69.6,167.2 69.9,167.3 70.1,167.3 70.4,160.4 70.6,167.6 70.9,167.4 71.1,167.5 71.4,167.2 71.6,167.5 71.9,167.6 72.1,167.7 72.4,160.4 72.6,167.3 72.9,167.4 73.1,168.0 73.4,167.5 73.6,167.6 73.9,167.6 74.1,155.1 74.4,167.0 74.6,167.4 74.9,167.6 75.1,167.5 75.4,167.1 75.6,167.2 75.9,167.3 76.1,167.6 76.4,167.4 76.6,167.5 76.9,167.4 77.1,167.4 77.4,167.2 77.6,167.6 77.9,167.2 78.1,167.4 78.4,167.3 78.6,167.5 78.9,167.2 79.1,167.3 79.4,167.6 79.6,155.1 79.9,167.7 80.1,167.2 80.4,167.6 80.6,167.1 80.9,145.1 81.1,167.6 81.4,167.3 81.6,167.4 81.9,167.5 82.1,167.4 82.4,167.5 82.6,167.6 82.9,167.5 83.1,167.5 83.4,167.5 83.6,167.2 83.9,167.0 84.1,167.6 84.4,167.4 84.6,167.5 84.9,147.5 85.1,167.2 85.4,167.4 85.6,167.3 85.9,167.7 86.1,167.6 86.4,167.1 86.6,167.5 86.9,167.2 87.1,167.5 87.4,160.4 87.6,167.2 87.9,166.9 88.1,167.8 88.4,167.3 88.6,167.2 88.9,167.4 89.1,167.0 89.4,161.6 89.6,167.4 89.9,167.3 90.1,167.7 90.4,167.3 90.6,167.6 90.9,167.6 91.1,162.4 91.4,167.7 91.6,167.4 91.9,166.9 92.1,167.2 92.4,167.3 92.6,167.3 92.9,167.4 93.1,167.4 93.4,167.1 93.6,167.3 93.9,167.3 94.1,167.2 94.4,167.5 94.6,155.6 94.9,167.3 95.1,167.5 95.4,167.3 95.6,167.6 95.9,161.6 96.1,167.3 96.4,167.3 96.6,167.3 96.9,167.5 97.1,167.2 97.4,167.2 97.6,167.3 97.9,167.2 98.1,167.5 98.4,167.5 98.6,167.2 98.9,167.5 99.1,167.2 99.4,167.1 99.6,167.4 99.9,167.6 100.1,167.6 100.4,167.4 100.6,167.3 100.9,167.4 101.1,167.1 101.4,167.3 101.6,167.6 101.9,167.2 102.1,167.4 102.4,148.3 102.6,167.4 102.9,167.7 103.1,167.3 103.4,167.3 103.6,167.2 103.9,167.3 104.1,167.3 104.4,167.4 104.6,167.3 104.9,167.7 105.1,167.5 105.4,167.4 105.6,167.3 105.9,167.6 106.1,167.6 106.4,167.2 106.6,167.4 106.9,167.4 107.1,167.3 107.4,144.6 107.6,167.5 107.9,167.6 108.1,167.6 108.4,167.5 108.6,167.4 108.9,167.5 109.1,167.6 109.4,167.8 109.6,167.4 109.9,167.3 110.1,167.4 110.4,167.4 110.6,167.4 110.9,167.2 111.1,167.3 111.4,167.5 111.6,154.3 111.9,167.5 112.1,167.5 112.4,167.5 112.6,167.2 112.9,167.4 113.1,167.8 113.4,167.4 113.6,167.3 113.9,167.5 114.1,167.7 114.4,167.2 114.6,167.1 114.9,167.3 115.1,167.5 115.4,167.4 115.6,167.3 115.9,167.2 116.1,167.4 116.4,167.2 116.6,161.6 116.9,167.3 117.1,167.1 117.4,167.2 117.6,167.2 117.9,167.4 118.1,167.6 118.4,167.3 118.6,167.6 118.9,167.4 119.1,167.2 119.4,167.3 119.6,167.6 119.9,167.3 120.1,167.5 120.4,167.5 120.6,167.3 120.9,167.5 121.1,167.4 121.4,167.5 121.6,167.3 121.9,167.5 122.1,165.3 122.4,167.3 122.6,167.2 122.9,167.0 123.1,167.1 123.4,167.7 123.6,167.2 123.9,167.4 124.1,167.2 124.4,167.5 124.6,167.0 124.9,167.4 125.1,162.8 125.4,167.4 125.6,167.5 125.9,167.3 126.1,167.3 126.4,167.4 126.6,167.5 126.9,167.5 127.1,167.7 127.4,167.5 127.6,167.7 127.9,167.4 128.1,167.3 128.4,167.5 128.6,167.2 128.9,167.4 129.1,167.3 129.4,167.8 129.6,167.5 129.9,167.6 130.1,167.3 130.4,167.3 130.6,167.5 130.9,167.5 131.1,158.0 131.4,167.3 131.6,167.6 131.9,167.3 132.1,167.6 132.4,167.0 132.6,167.6 132.9,167.3 133.1,167.4 133.4,167.6 133.6,167.2 133.9,167.7 134.1,167.5 134.4,167.6 134.6,167.4 134.9,167.5 135.1,167.2 135.4,167.8 135.6,167.4 135.9,161.6 136.1,167.4 136.4,167.5 136.6,167.3 136.9,167.7 137.1,167.3 137.4,167.4 137.6,167.3 137.9,159.2 138.1,167.4 138.4,167.4 138.6,167.6 138.9,167.3 139.1,167.4 139.4,167.7 139.6,167.6 139.9,167.1 140.1,167.7 140.4,167.5 140.6,167.5 140.9,167.6 141.1,167.6 141.4,167.4 141.6,167.3 141.9,167.9 142.1,167.2 142.4,167.2 142.6,167.1 142.9,167.4 143.1,167.6 143.4,167.6 143.6,167.4 143.9,167.5 144.1,167.3 144.4,167.4 144.6,167.3 144.9,167.1 145.1,167.4 145.4,167.4 145.6,167.6 145.9,167.2 146.1,167.7 146.4,167.5 146.6,167.6 146.9,167.4 147.1,167.4 147.4,167.4 147.6,167.1 147.9,167.2 148.1,158.0 148.4,167.4 148.6,167.3 148.9,167.4 149.1,167.5 149.4,167.6 149.6,167.5 149.9,167.6 150.1,167.7 150.4,167.9 150.6,167.3 150.9,167.5 151.1,167.9 151.4,167.3 151.6,167.3 151.9,167.2 152.1,167.5 152.4,160.4 152.6,167.2 152.9,167.5 153.1,167.3 153.4,167.4 153.6,167.4 153.9,167.6 154.1,167.6 154.4,167.5 154.6,167.5 154.9,167.3 155.1,167.3 155.4,167.6 155.6,167.1 155.9,167.4 156.1,167.4 156.4,167.4 156.6,167.2 156.9,167.3 157.1,167.4 157.4,167.3 157.6,167.5 157.9,167.2 158.1,167.5 158.4,167.4 158.6,167.4 158.9,167.6 159.1,167.3 159.4,167.0 159.6,167.5 159.9,167.3 160.1,167.5 160.4,167.6 160.6,167.4 160.8,167.3 161.1,167.3 161.3,156.3 161.6,167.4 161.8,167.4 162.1,167.3 162.3,167.5 162.6,167.4 162.8,166.8 163.1,166.9 163.3,167.4 163.6,167.7 163.8,167.2 164.1,167.4 164.3,167.4 164.6,167.7 164.8,167.2 165.1,164.8 165.3,166.9 165.6,167.5 165.8,167.1 166.1,165.3 166.3,167.7 166.6,167.5 166.8,167.1 167.1,167.4 167.3,167.4 167.6,167.3 167.8,167.2 168.1,167.4 168.3,167.5 168.6,167.2 168.8,167.3 169.1,167.8 169.3,167.5 169.6,167.3 169.8,167.7 170.1,167.4 170.3,167.6 170.6,167.2 170.8,164.1 171.1,167.7 171.3,167.2 171.6,167.3 171.8,167.5 172.1,167.4 172.3,167.2 172.6,167.5 172.8,167.4 173.1,167.4 173.3,167.5 173.6,167.2 173.8,151.9 174.1,167.3 174.3,167.3 174.6,167.9 174.8,167.6 175.1,167.5 175.3,167.5 175.6,167.2 175.8,167.5 176.1,167.5 176.3,167.3 176.6,167.5 176.8,167.2 177.1,162.8 177.3,167.2 177.6,167.6 177.8,167.4 178.1,167.5 178.3,167.4 178.6,167.5 178.8,167.3 179.1,167.1 179.3,161.6 179.6,167.4 179.8,167.6 180.1,167.5 180.3,167.5 180.6,167.4 180.8,167.7 181.1,167.5 181.3,167.4 181.6,167.2 181.8,162.8 182.1,167.4 182.3,167.4 182.6,167.3 182.8,167.2 183.1,167.0 183.3,167.1 183.6,167.3 183.8,167.4 184.1,167.5 184.3,158.0 184.6,167.4 184.8,167.3 185.1,167.5 185.3,167.2 185.6,167.3 185.8,167.4 186.1,147.8 186.3,167.2 186.6,167.4 186.8,167.3 187.1,167.5 187.3,158.0 187.6,167.1 187.8,167.6 188.1,167.4 188.3,167.5 188.6,167.3 188.8,167.2 189.1,167.2 189.3,167.3 189.6,167.4 189.8,167.4 190.1,167.5 190.3,167.5 190.6,167.6 190.8,167.6 191.1,167.6 191.3,167.3 191.6,156.8 191.8,167.8 192.1,167.6 192.3,167.6 192.6,167.5 192.8,167.6 193.1,167.5 193.3,167.4 193.6,167.4 193.8,167.0 194.1,162.8 194.3,167.2 194.6,167.6 194.8,167.7 195.1,167.4 195.3,167.5 195.6,167.3 195.8,167.6 196.1,167.2 196.3,161.6 196.6,167.4 196.8,167.6 197.1,167.3 197.3,167.1 197.6,167.2 197.8,167.6 198.1,167.3 198.3,167.7 198.6,167.3 198.8,167.2 199.1,167.7 199.3,167.6 199.6,167.4 199.8,167.3 200.1,154.3 200.3,167.8 200.6,167.4 200.8,167.4 201.1,167.6 201.3,167.3 201.6,167.5 201.8,160.4 202.1,167.6 202.3,167.1 202.6,167.5 202.8,167.2 203.1,167.1 203.3,167.5 203.6,167.4 203.8,167.2 204.1,156.0 204.3,167.4 204.6,167.4 204.8,167.4 205.1,167.5 205.3,167.6 205.6,167.2 205.8,167.6 206.1,167.1 206.3,167.2 206.6,167.4 206.8,167.2 207.1,167.6 207.3,167.3 207.6,167.1 207.8,167.2 208.1,167.5 208.3,167.3 208.6,162.8 208.8,167.6 209.1,167.2 209.3,167.5 209.6,167.2 209.8,167.6 210.1,167.4 210.3,167.7 210.6,160.4 210.8,167.4 211.1,167.5 211.3,167.3 211.6,161.6 211.8,167.3 212.1,167.5 212.3,167.4 212.6,167.8 212.8,167.5 213.1,167.3 213.3,167.4 213.6,167.4 213.8,167.1 214.1,167.2 214.3,167.5 214.6,167.5 214.8,167.4 215.1,167.6 215.3,167.2 215.6,167.2 215.8,167.3 216.1,167.3 216.3,167.5 216.6,167.6 216.8,167.7 217.1,167.3 217.3,167.4 217.6,167.7 217.8,167.3 218.1,167.3 218.3,155.1 218.6,167.2 218.8,167.4 219.1,167.1 219.3,167.5 219.6,167.4 219.8,167.1 220.1,167.3 220.3,167.2 220.6,167.7 220.8,167.6 221.1,167.6 221.3,167.6 221.6,167.2 221.8,167.2 222.1,167.3 222.3,167.4 222.6,164.1 222.8,167.5 223.1,167.4 223.3,167.6 223.6,167.4 223.8,167.1 224.1,167.4 224.3,165.3 224.6,166.9 224.8,167.3 225.1,167.3 225.3,167.2 225.6,167.6 225.8,167.4 226.1,167.8 226.3,167.5 226.6,167.2 226.8,167.1 227.1,167.3 227.3,167.8 227.6,167.4 227.8,167.0 228.1,167.5 228.3,167.5 228.6,167.5 228.8,167.4 229.1,167.1 229.3,167.5 229.6,167.6 229.8,167.1 230.1,167.2 230.3,167.5 230.6,167.3 230.8,167.3 231.1,167.5 231.3,167.5 231.6,161.6 231.8,167.2 232.1,167.4 232.3,167.2 232.6,167.3 232.8,167.4 233.1,167.2 233.3,167.4 233.6,167.5 233.8,167.4 234.1,154.3 234.3,167.5 234.6,167.3 234.8,167.4 235.1,167.3 235.3,167.5 235.6,167.3 235.8,167.3 236.1,167.4 236.3,167.3 236.6,167.2 236.8,167.3 237.1,160.4 237.3,167.8 237.6,167.6 237.8,167.3 238.1,167.5 238.3,167.6 238.6,167.5 238.8,162.8 239.1,167.5 239.3,167.5 239.6,167.5 239.8,167.5 240.1,167.4 240.3,167.4 240.6,167.5 240.8,167.5 241.1,167.5 241.3,167.2 241.6,167.2 241.8,167.4 242.1,167.2 242.3,167.6 242.6,152.6 242.8,167.2 243.1,167.4 243.3,167.4 243.6,167.5 243.8,155.6 244.1,167.3 244.3,167.7 244.6,167.4 244.8,167.5 245.1,167.2 245.3,167.3 245.6,167.4 245.8,167.3 246.1,167.5 246.3,167.5 246.6,167.0 246.8,159.2 247.1,167.5 247.3,167.2 247.6,167.4 247.8,167.2 248.1,167.6 248.3,167.2 248.6,167.3 248.8,167.3 249.1,167.1 249.3,167.7 249.6,167.6 249.8,167.6 250.1,167.5 250.3,167.5 250.6,167.3 250.8,167.1 251.1,164.1 251.3,167.4 251.6,167.1 251.8,167.4 252.1,167.4 252.3,167.3 252.6,167.2 252.8,167.3 253.1,167.6 253.3,167.5 253.6,167.3 253.8,167.2 254.1,167.6 254.3,167.1 254.6,167.4 254.8,167.5 255.1,167.6 255.3,167.2 255.6,167.5 255.8,167.3 256.1,167.3 256.3,167.2 256.6,150.7 256.8,167.7 257.1,167.4 257.3,167.6 257.6,167.6 257.8,167.7 258.1,167.2 258.3,167.5 258.6,167.3 258.8,167.2 259.1,151.2 259.3,167.1 259.6,167.2 259.8,167.5 260.1,167.8 260.3,167.4 260.6,167.5 260.8,167.1 261.1,167.7 261.3,167.2 261.6,167.5 261.8,167.5 262.1,167.1 262.3,167.7 262.6,167.6 262.8,167.5 263.1,167.5 263.3,167.4 263.6,167.4 263.8,167.5 264.1,167.4 264.3,162.8 264.6,167.6 264.8,167.4 265.1,167.6 265.3,167.5 265.6,167.5 265.8,167.6 266.1,167.3 266.3,167.7 266.6,167.3 266.8,162.8 267.1,167.5 267.3,167.3 267.6,167.5 267.8,167.2 268.1,167.3 268.3,167.5 268.6,167.5 268.8,167.4 269.1,167.4 269.3,167.4 269.6,167.9 269.8,167.4 270.1,167.3 270.3,167.3 270.6,167.7 270.8,167.4 271.1,167.2 271.3,167.4 271.6,160.4 271.8,167.3 272.1,167.5 272.3,167.3 272.6,167.7 272.8,167.4 273.1,167.0 273.3,167.5 273.6,167.3 273.8,167.6 274.1,167.5 274.3,167.5 274.6,167.7 274.8,167.4 275.1,167.2 275.3,167.4 275.6,167.4 275.8,167.3 276.1,167.5 276.3,167.5 276.6,167.5 276.8,167.6 277.1,167.8 277.3,167.3 277.6,167.1 277.8,155.1 278.1,167.3 278.3,167.3 278.6,167.2 278.8,167.6 279.1,167.7 279.3,167.5 279.6,167.7 279.8,167.3 280.1,167.5 280.3,167.5 280.6,167.5 280.8,167.5 281.1,167.4 281.3,167.5 281.6,167.3 281.8,167.3 282.1,151.2 282.3,167.6 282.6,167.8 282.8,167.3 283.1,167.1 283.3,167.6 283.6,167.4 283.8,167.6 284.1,167.3 284.3,167.5 284.6,156.0 284.8,167.4 285.1,167.3 285.3,167.5 285.6,167.6 285.8,156.8 286.1,167.7 286.3,167.6 286.6,167.4 286.8,167.5 287.1,167.7 287.3,167.5 287.6,167.3 287.8,167.7 288.1,167.3 288.3,167.4 288.6,167.6 288.8,167.5 289.1,167.3 289.3,156.8 289.6,167.3 289.8,167.5 290.1,167.3 290.3,167.2"/>
<rect x="17.60" y="127.90" width="286.00" height="46.50" fill="none" stroke="#444444" stroke-width="0.60"/>
<line x1="16.00" y1="167.40" x2="17.60" y2="167.40" stroke="#444444" stroke-width="0.60"/>
<text x="13.60" y="169.62" text-anchor="end" class="tk" textLength="8.67" lengthAdjust="spacingAndGlyphs">0.0</text>
<line x1="16.00" y1="149.70" x2="17.60" y2="149.70" stroke="#444444" stroke-width="0.60"/>
<text x="13.60" y="151.92" text-anchor="end" class="tk" textLength="8.67" lengthAdjust="spacingAndGlyphs">0.5</text>
<line x1="16.00" y1="132.00" x2="17.60" y2="132.00" stroke="#444444" stroke-width="0.60"/>
<text x="13.60" y="134.22" text-anchor="end" class="tk" textLength="8.67" lengthAdjust="spacingAndGlyphs">1.0</text>
<line x1="30.90" y1="174.40" x2="30.90" y2="176.80" stroke="#444444" stroke-width="0.60"/>
<text x="30.90" y="183.10" text-anchor="middle" class="tk" textLength="3.47" lengthAdjust="spacingAndGlyphs">0</text>
<line x1="82.78" y1="174.40" x2="82.78" y2="176.80" stroke="#444444" stroke-width="0.60"/>
<text x="82.78" y="183.10" text-anchor="middle" class="tk" textLength="13.86" lengthAdjust="spacingAndGlyphs">5000</text>
<line x1="134.66" y1="174.40" x2="134.66" y2="176.80" stroke="#444444" stroke-width="0.60"/>
<text x="134.66" y="183.10" text-anchor="middle" class="tk" textLength="17.33" lengthAdjust="spacingAndGlyphs">10000</text>
<line x1="186.54" y1="174.40" x2="186.54" y2="176.80" stroke="#444444" stroke-width="0.60"/>
<text x="186.54" y="183.10" text-anchor="middle" class="tk" textLength="17.33" lengthAdjust="spacingAndGlyphs">15000</text>
<line x1="238.42" y1="174.40" x2="238.42" y2="176.80" stroke="#444444" stroke-width="0.60"/>
<text x="238.42" y="183.10" text-anchor="middle" class="tk" textLength="17.33" lengthAdjust="spacingAndGlyphs">20000</text>
<line x1="290.30" y1="174.40" x2="290.30" y2="176.80" stroke="#444444" stroke-width="0.60"/>
<text x="290.30" y="183.10" text-anchor="middle" class="tk" textLength="17.33" lengthAdjust="spacingAndGlyphs">25000</text>
<line x1="175.30" y1="138.40" x2="192.00" y2="138.40" stroke="#800080" stroke-width="0.9"/>
<text x="197.93" y="141.90" class="lg" style="font-size:7.90px" textLength="98.71" lengthAdjust="spacingAndGlyphs">EDnCNN denoised signal</text>
<clipPath id="cL4"><rect x="17.60" y="189.70" width="286.00" height="46.70"/></clipPath>
<polygon clip-path="url(#cL4)" fill="#0000ff" stroke="#0000ff" stroke-width="0.5" points="30.9,221.5 31.4,220.2 31.9,220.7 32.4,221.5 32.9,221.0 33.4,221.5 33.9,221.2 34.4,222.0 34.9,222.2 35.4,222.1 35.9,221.5 36.4,220.8 36.9,221.6 37.4,221.1 37.9,222.4 38.4,222.5 38.9,221.7 39.4,222.5 39.9,222.2 40.4,221.7 40.9,222.0 41.4,222.2 41.9,220.0 42.4,221.8 42.9,219.2 43.4,217.6 43.9,216.7 44.4,216.3 44.9,216.2 45.4,215.0 45.9,215.0 46.4,216.8 46.9,216.1 47.4,215.7 47.9,215.2 48.4,215.8 48.9,215.6 49.4,214.1 49.9,216.5 50.4,215.8 50.9,216.9 51.4,215.5 51.9,214.9 52.4,216.8 52.9,215.6 53.4,215.0 53.9,215.5 54.4,217.2 54.9,215.8 55.4,219.1 55.9,222.0 56.4,220.5 56.9,221.8 57.4,221.6 57.9,221.6 58.4,221.9 58.9,220.2 59.4,222.4 59.9,221.4 60.4,221.9 60.9,220.8 61.4,222.5 61.9,220.5 62.4,221.5 62.9,222.0 63.4,222.4 63.9,221.7 64.4,222.0 64.9,222.0 65.4,222.0 65.9,222.0 66.4,221.3 66.9,222.4 67.4,222.1 67.9,222.1 68.4,222.0 68.9,222.4 69.4,220.8 69.9,222.1 70.4,221.9 70.9,221.0 71.4,222.5 71.9,220.8 72.4,221.8 72.9,221.3 73.4,222.4 73.9,221.5 74.4,220.1 74.9,221.2 75.4,221.1 75.9,220.3 76.4,221.2 76.9,220.5 77.4,222.5 77.9,222.4 78.4,220.7 78.9,221.7 79.4,221.0 79.9,222.5 80.4,222.5 80.9,222.1 81.4,219.1 81.9,222.2 82.4,221.6 82.9,221.8 83.4,221.0 83.9,221.8 84.4,221.4 84.9,221.5 85.4,222.3 85.9,221.0 86.4,221.5 86.9,220.9 87.4,222.3 87.9,219.3 88.4,222.1 88.9,221.5 89.4,221.9 89.9,221.9 90.4,221.5 90.9,221.4 91.4,222.1 91.9,221.2 92.4,221.7 92.9,221.0 93.4,222.5 93.9,222.4 94.4,221.0 94.9,221.2 95.4,221.0 95.9,218.8 96.4,222.2 96.9,221.2 97.4,222.3 97.9,220.6 98.4,219.6 98.9,221.6 99.4,218.9 99.9,222.2 100.4,221.7 100.9,218.5 101.4,221.5 101.9,222.4 102.4,222.1 102.9,218.6 103.4,221.2 103.9,222.2 104.4,222.2 104.9,219.9 105.4,222.3 105.9,221.6 106.4,220.5 106.9,222.3 107.4,222.1 107.9,218.9 108.4,221.0 108.9,222.5 109.4,221.2 109.9,221.7 110.4,221.3 110.9,221.8 111.4,222.3 111.9,222.0 112.4,220.5 112.9,222.0 113.4,220.4 113.9,219.8 114.4,221.9 114.9,220.3 115.4,220.7 115.9,222.1 116.4,222.1 116.9,221.4 117.4,222.4 117.9,221.1 118.4,222.3 118.9,222.2 119.4,221.0 119.9,219.7 120.4,221.6 120.9,222.1 121.4,219.7 121.9,222.4 122.4,221.5 122.9,221.4 123.4,220.7 123.9,222.4 124.4,221.1 124.9,221.8 125.4,222.3 125.9,221.1 126.4,222.4 126.9,222.0 127.4,222.2 127.9,222.3 128.4,222.5 128.9,222.4 129.4,221.6 129.9,220.4 130.4,222.2 130.9,221.4 131.4,221.1 131.9,222.3 132.4,221.6 132.9,220.3 133.4,222.5 133.9,222.0 134.4,221.3 134.9,222.5 135.4,222.5 135.9,221.1 136.4,221.5 136.9,221.9 137.4,221.8 137.9,222.4 138.4,222.1 138.9,220.8 139.4,222.2 139.9,220.4 140.4,221.4 140.9,221.1 141.4,220.3 141.9,222.2 142.4,221.3 142.9,220.7 143.4,222.4 143.9,218.8 144.4,222.4 144.9,221.9 145.4,221.0 145.9,221.2 146.4,221.4 146.9,220.1 147.4,222.3 147.9,221.6 148.4,221.8 148.9,222.2 149.4,222.3 149.9,221.9 150.4,222.3 150.9,221.8 151.4,222.1 151.9,222.0 152.4,221.5 152.9,220.6 153.4,222.1 153.9,221.4 154.4,221.6 154.9,222.2 155.4,222.2 155.9,222.4 156.4,220.8 156.9,221.9 157.4,221.9 157.9,222.0 158.4,221.8 158.9,222.2 159.4,221.5 159.9,220.5 160.4,221.9 160.8,222.4 161.3,222.0 161.8,221.8 162.3,221.3 162.8,221.1 163.3,222.1 163.8,221.0 164.3,222.5 164.8,221.8 165.3,222.3 165.8,221.0 166.3,221.4 166.8,220.7 167.3,222.3 167.8,220.8 168.3,221.3 168.8,221.7 169.3,220.2 169.8,222.0 170.3,220.9 170.8,221.8 171.3,221.3 171.8,221.6 172.3,221.4 172.8,221.2 173.3,222.3 173.8,220.6 174.3,221.2 174.8,222.1 175.3,220.4 175.8,221.4 176.3,221.4 176.8,222.5 177.3,222.2 177.8,220.6 178.3,221.9 178.8,222.3 179.3,221.9 179.8,222.2 180.3,220.5 180.8,221.6 181.3,221.9 181.8,221.1 182.3,220.0 182.8,222.5 183.3,222.1 183.8,222.4 184.3,222.3 184.8,222.0 185.3,221.3 185.8,221.5 186.3,221.7 186.8,219.0 187.3,220.2 187.8,221.3 188.3,220.9 188.8,220.7 189.3,221.6 189.8,221.9 190.3,221.5 190.8,222.1 191.3,221.7 191.8,220.8 192.3,222.1 192.8,222.3 193.3,221.8 193.8,220.4 194.3,221.8 194.8,220.6 195.3,220.0 195.8,221.4 196.3,219.6 196.8,221.3 197.3,221.6 197.8,222.4 198.3,221.1 198.8,221.6 199.3,221.4 199.8,220.8 200.3,221.8 200.8,221.6 201.3,222.2 201.8,222.1 202.3,222.3 202.8,222.2 203.3,222.4 203.8,221.8 204.3,220.8 204.8,221.6 205.3,222.3 205.8,222.1 206.3,221.4 206.8,222.0 207.3,222.0 207.8,221.8 208.3,222.5 208.8,222.2 209.3,221.6 209.8,221.9 210.3,221.1 210.8,221.3 211.3,222.1 211.8,222.5 212.3,222.4 212.8,221.1 213.3,222.2 213.8,221.6 214.3,220.5 214.8,221.6 215.3,221.0 215.8,222.0 216.3,219.8 216.8,222.2 217.3,222.5 217.8,221.1 218.3,220.4 218.8,221.0 219.3,221.9 219.8,222.2 220.3,222.5 220.8,219.9 221.3,222.0 221.8,221.5 222.3,222.2 222.8,222.1 223.3,222.0 223.8,222.2 224.3,222.2 224.8,222.3 225.3,222.3 225.8,219.9 226.3,221.2 226.8,222.4 227.3,222.0 227.8,221.6 228.3,221.8 228.8,221.4 229.3,221.8 229.8,222.4 230.3,222.3 230.8,222.3 231.3,222.4 231.8,220.4 232.3,222.5 232.8,220.8 233.3,221.2 233.8,222.0 234.3,221.7 234.8,220.4 235.3,221.2 235.8,222.0 236.3,222.4 236.8,219.2 237.3,221.8 237.8,221.6 238.3,221.7 238.8,220.6 239.3,222.4 239.8,221.1 240.3,221.6 240.8,222.4 241.3,219.7 241.8,222.2 242.3,221.9 242.8,220.1 243.3,220.8 243.8,221.6 244.3,221.7 244.8,221.9 245.3,222.1 245.8,221.4 246.3,219.5 246.8,221.0 247.3,220.0 247.8,222.2 248.3,222.4 248.8,222.1 249.3,222.2 249.8,220.8 250.3,222.0 250.8,222.0 251.3,221.5 251.8,221.9 252.3,222.4 252.8,221.1 253.3,222.3 253.8,222.5 254.3,222.5 254.8,220.3 255.3,219.8 255.8,222.4 256.3,222.0 256.8,221.8 257.3,222.3 257.8,221.9 258.3,219.4 258.8,221.2 259.3,221.0 259.8,222.4 260.3,221.8 260.8,222.5 261.3,221.8 261.8,222.2 262.3,221.6 262.8,222.4 263.3,221.5 263.8,221.2 264.3,220.7 264.8,221.7 265.3,222.5 265.8,220.5 266.3,221.1 266.8,220.4 267.3,222.2 267.8,222.3 268.3,221.8 268.8,221.2 269.3,220.9 269.8,222.4 270.3,221.8 270.8,221.7 271.3,221.3 271.8,221.2 272.3,220.4 272.8,220.8 273.3,221.7 273.8,221.9 274.3,220.9 274.8,222.1 275.3,221.4 275.8,222.0 276.3,220.1 276.8,221.6 277.3,222.0 277.8,221.7 278.3,221.9 278.8,221.1 279.3,222.4 279.8,222.5 280.3,222.5 280.8,221.1 281.3,221.4 281.8,221.8 282.3,221.6 282.8,219.9 283.3,220.0 283.8,222.0 284.3,220.3 284.8,222.5 285.3,221.7 285.8,221.5 286.3,222.5 286.8,222.0 287.3,221.1 287.8,222.0 288.3,222.4 288.8,222.4 289.3,222.2 289.8,221.8 290.3,221.6 290.3,230.7 289.8,228.4 289.3,228.5 288.8,230.9 288.3,228.7 287.8,228.6 287.3,229.5 286.8,228.7 286.3,228.7 285.8,228.9 285.3,229.7 284.8,228.5 284.3,230.6 283.8,228.4 283.3,231.0 282.8,229.2 282.3,228.7 281.8,228.7 281.3,228.9 280.8,231.0 280.3,229.5 279.8,228.5 279.3,229.1 278.8,228.8 278.3,228.5 277.8,229.5 277.3,229.9 276.8,229.6 276.3,229.8 275.8,228.7 275.3,229.4 274.8,229.7 274.3,231.0 273.8,228.5 273.3,230.9 272.8,229.9 272.3,230.0 271.8,231.1 271.3,230.0 270.8,228.3 270.3,229.0 269.8,229.2 269.3,229.7 268.8,231.1 268.3,229.5 267.8,228.3 267.3,228.5 266.8,228.6 266.3,230.5 265.8,230.5 265.3,228.3 264.8,229.4 264.3,230.9 263.8,229.4 263.3,229.9 262.8,228.7 262.3,228.3 261.8,229.3 261.3,228.7 260.8,229.6 260.3,229.6 259.8,228.8 259.3,229.4 258.8,229.0 258.3,229.2 257.8,228.7 257.3,229.1 256.8,229.3 256.3,228.6 255.8,229.2 255.3,228.4 254.8,229.9 254.3,229.6 253.8,229.3 253.3,228.8 252.8,228.4 252.3,228.9 251.8,229.8 251.3,229.3 250.8,229.7 250.3,229.1 249.8,228.8 249.3,230.1 248.8,229.4 248.3,228.5 247.8,228.8 247.3,228.9 246.8,229.5 246.3,229.4 245.8,228.4 245.3,228.4 244.8,229.4 244.3,230.1 243.8,229.8 243.3,228.8 242.8,230.7 242.3,228.8 241.8,229.8 241.3,231.4 240.8,229.2 240.3,228.4 239.8,229.9 239.3,229.3 238.8,229.0 238.3,228.7 237.8,228.7 237.3,229.1 236.8,228.7 236.3,230.0 235.8,230.2 235.3,228.6 234.8,229.1 234.3,228.9 233.8,229.1 233.3,229.5 232.8,229.5 232.3,229.8 231.8,229.6 231.3,229.4 230.8,228.4 230.3,229.2 229.8,229.1 229.3,229.9 228.8,229.2 228.3,229.3 227.8,229.2 227.3,228.4 226.8,228.5 226.3,228.6 225.8,228.7 225.3,229.5 224.8,229.0 224.3,228.3 223.8,229.4 223.3,229.7 222.8,230.3 222.3,229.0 221.8,229.4 221.3,229.8 220.8,229.8 220.3,228.9 219.8,228.8 219.3,229.1 218.8,229.0 218.3,228.9 217.8,229.0 217.3,230.0 216.8,229.5 216.3,229.1 215.8,230.0 215.3,228.3 214.8,229.1 214.3,228.3 213.8,229.9 213.3,228.7 212.8,229.3 212.3,228.4 211.8,229.1 211.3,229.9 210.8,228.8 210.3,228.4 209.8,228.7 209.3,231.1 208.8,229.9 208.3,230.3 207.8,229.6 207.3,229.7 206.8,229.7 206.3,230.0 205.8,228.8 205.3,228.6 204.8,229.4 204.3,229.3 203.8,228.7 203.3,228.4 202.8,228.8 202.3,228.8 201.8,228.8 201.3,229.1 200.8,229.2 200.3,228.8 199.8,228.3 199.3,228.4 198.8,228.5 198.3,230.1 197.8,229.0 197.3,229.0 196.8,228.9 196.3,229.2 195.8,229.0 195.3,228.3 194.8,228.5 194.3,228.8 193.8,228.6 193.3,228.4 192.8,230.6 192.3,228.3 191.8,228.4 191.3,228.5 190.8,228.5 190.3,229.7 189.8,230.4 189.3,229.8 188.8,228.5 188.3,229.4 187.8,229.2 187.3,228.4 186.8,229.5 186.3,228.5 185.8,228.7 185.3,228.9 184.8,230.7 184.3,231.2 183.8,229.0 183.3,229.8 182.8,230.1 182.3,228.8 181.8,228.6 181.3,229.0 180.8,231.1 180.3,229.1 179.8,230.1 179.3,229.5 178.8,229.0 178.3,230.4 177.8,230.2 177.3,229.9 176.8,229.2 176.3,229.2 175.8,228.7 175.3,228.4 174.8,229.4 174.3,229.1 173.8,229.3 173.3,228.5 172.8,230.4 172.3,229.4 171.8,230.2 171.3,229.4 170.8,229.1 170.3,229.0 169.8,229.7 169.3,230.0 168.8,229.0 168.3,229.4 167.8,229.0 167.3,229.7 166.8,229.8 166.3,229.7 165.8,229.3 165.3,229.6 164.8,228.9 164.3,229.6 163.8,228.5 163.3,229.5 162.8,229.1 162.3,229.1 161.8,228.3 161.3,231.1 160.8,229.4 160.4,229.3 159.9,229.5 159.4,230.5 158.9,228.4 158.4,228.9 157.9,229.0 157.4,229.5 156.9,230.2 156.4,229.6 155.9,229.4 155.4,230.3 154.9,229.1 154.4,228.3 153.9,229.1 153.4,231.0 152.9,229.0 152.4,228.4 151.9,228.6 151.4,229.2 150.9,228.6 150.4,229.3 149.9,230.1 149.4,229.8 148.9,230.0 148.4,228.7 147.9,228.8 147.4,229.5 146.9,229.7 146.4,228.6 145.9,228.8 145.4,229.3 144.9,228.3 144.4,228.7 143.9,229.7 143.4,229.3 142.9,228.7 142.4,229.6 141.9,229.0 141.4,228.6 140.9,229.7 140.4,229.1 139.9,229.2 139.4,229.1 138.9,230.7 138.4,228.4 137.9,228.4 137.4,229.7 136.9,229.6 136.4,231.5 135.9,229.6 135.4,229.0 134.9,229.1 134.4,229.5 133.9,228.7 133.4,228.9 132.9,228.5 132.4,229.2 131.9,228.9 131.4,230.1 130.9,230.6 130.4,230.2 129.9,228.3 129.4,228.8 128.9,228.7 128.4,228.8 127.9,228.3 127.4,231.3 126.9,228.7 126.4,228.4 125.9,231.1 125.4,231.5 124.9,228.7 124.4,229.4 123.9,229.1 123.4,229.3 122.9,228.8 122.4,229.6 121.9,228.7 121.4,228.9 120.9,228.7 120.4,229.5 119.9,229.1 119.4,229.2 118.9,229.5 118.4,228.6 117.9,229.0 117.4,229.6 116.9,228.9 116.4,228.5 115.9,228.3 115.4,229.6 114.9,228.8 114.4,228.9 113.9,229.4 113.4,228.3 112.9,228.5 112.4,228.6 111.9,228.6 111.4,228.9 110.9,228.6 110.4,230.1 109.9,228.9 109.4,230.7 108.9,228.3 108.4,230.1 107.9,231.0 107.4,229.6 106.9,229.8 106.4,229.1 105.9,229.5 105.4,229.8 104.9,230.0 104.4,228.9 103.9,229.8 103.4,228.7 102.9,229.0 102.4,229.3 101.9,229.4 101.4,230.8 100.9,229.2 100.4,228.5 99.9,229.2 99.4,228.6 98.9,229.4 98.4,228.3 97.9,229.8 97.4,228.9 96.9,229.7 96.4,229.4 95.9,229.3 95.4,228.9 94.9,228.9 94.4,228.4 93.9,230.4 93.4,229.8 92.9,228.6 92.4,228.3 91.9,228.8 91.4,230.3 90.9,228.9 90.4,229.5 89.9,228.6 89.4,231.5 88.9,229.5 88.4,228.6 87.9,228.3 87.4,228.9 86.9,229.2 86.4,229.3 85.9,228.5 85.4,229.0 84.9,228.3 84.4,229.7 83.9,228.9 83.4,229.8 82.9,229.2 82.4,229.4 81.9,228.6 81.4,229.5 80.9,230.4 80.4,228.6 79.9,231.3 79.4,228.4 78.9,230.1 78.4,229.4 77.9,230.9 77.4,229.8 76.9,228.9 76.4,229.7 75.9,229.0 75.4,229.8 74.9,229.0 74.4,228.4 73.9,228.3 73.4,229.0 72.9,229.3 72.4,229.6 71.9,229.9 71.4,229.4 70.9,229.3 70.4,228.8 69.9,230.7 69.4,228.6 68.9,228.7 68.4,230.0 67.9,229.1 67.4,229.0 66.9,232.3 66.4,228.3 65.9,228.6 65.4,229.7 64.9,230.8 64.4,230.0 63.9,228.7 63.4,228.4 62.9,229.6 62.4,229.8 61.9,230.5 61.4,229.6 60.9,228.4 60.4,228.4 59.9,230.8 59.4,228.5 58.9,229.2 58.4,228.7 57.9,228.4 57.4,228.9 56.9,228.6 56.4,229.7 55.9,229.1 55.4,229.1 54.9,228.3 54.4,228.8 53.9,228.5 53.4,228.3 52.9,229.2 52.4,228.8 51.9,230.9 51.4,229.7 50.9,228.8 50.4,229.3 49.9,230.1 49.4,228.2 48.9,228.3 48.4,227.5 47.9,228.4 47.4,226.4 46.9,227.3 46.4,227.3 45.9,224.9 45.4,225.1 44.9,224.1 44.4,225.9 43.9,226.5 43.4,228.5 42.9,230.0 42.4,228.7 41.9,228.8 41.4,228.8 40.9,229.8 40.4,229.3 39.9,230.9 39.4,229.2 38.9,231.0 38.4,228.4 37.9,228.3 37.4,230.7 36.9,229.2 36.4,229.6 35.9,228.8 35.4,228.5 34.9,228.5 34.4,229.0 33.9,230.7 33.4,228.7 32.9,230.4 32.4,228.5 31.9,229.4 31.4,228.6 30.9,229.6"/>
<polyline clip-path="url(#cL4)" fill="none" stroke="#0000ff" stroke-width="0.80" stroke-linejoin="round" points="30.9,225.4 31.1,225.4 31.4,225.4 31.6,217.2 31.9,225.4 32.1,225.4 32.4,225.4 32.6,225.4 32.9,225.4 33.1,217.6 33.4,225.4 33.6,225.4 33.9,225.4 34.1,225.4 34.4,225.4 34.6,225.4 34.9,225.4 35.1,225.4 35.4,225.4 35.6,225.4 35.9,225.4 36.1,225.4 36.4,225.4 36.6,225.4 36.9,225.4 37.1,225.4 37.4,225.4 37.6,225.4 37.9,219.6 38.1,225.4 38.4,225.4 38.6,225.4 38.9,225.4 39.1,225.4 39.4,225.4 39.6,225.4 39.9,225.4 40.1,225.4 40.4,225.4 40.6,225.4 40.9,225.4 41.1,225.4 41.4,225.4 41.6,225.4 41.9,225.4 42.1,225.4 42.4,225.4 42.6,225.4 42.9,225.4 43.1,225.4 43.4,215.2 43.6,225.4 43.9,206.0 44.1,205.1 44.4,225.4 44.6,225.4 44.9,201.6 45.1,225.4 45.4,225.4 45.6,205.5 45.9,196.1 46.1,225.4 46.4,198.4 46.6,203.8 46.9,225.4 47.1,225.4 47.4,202.1 47.6,201.9 47.9,225.4 48.1,204.3 48.4,225.4 48.6,225.4 48.9,200.6 49.1,225.4 49.4,225.4 49.6,209.6 49.9,225.4 50.1,225.4 50.4,211.3 50.6,225.4 50.9,225.4 51.1,225.4 51.4,211.9 51.6,225.4 51.9,225.4 52.1,212.9 52.4,203.1 52.6,225.4 52.9,216.4 53.1,225.4 53.4,217.9 53.6,208.1 53.9,201.2 54.1,225.4 54.4,207.5 54.6,225.4 54.9,225.4 55.1,214.2 55.4,225.4 55.6,225.4 55.9,225.4 56.1,225.4 56.4,225.4 56.6,225.4 56.9,225.4 57.1,225.4 57.4,214.6 57.6,214.6 57.9,225.4 58.1,225.4 58.4,225.4 58.6,225.4 58.9,225.4 59.1,225.4 59.4,225.4 59.6,225.4 59.9,225.4 60.1,225.4 60.4,225.4 60.6,225.4 60.9,225.4 61.1,225.4 61.4,225.4 61.6,225.4 61.9,225.4 62.1,225.4 62.4,225.4 62.6,225.4 62.9,225.4 63.1,225.4 63.4,225.4 63.6,219.0 63.9,225.4 64.1,225.4 64.4,225.4 64.6,225.4 64.9,225.4 65.1,225.4 65.4,225.4 65.6,225.4 65.9,225.4 66.1,225.4 66.4,225.4 66.6,225.4 66.9,225.4 67.1,225.4 67.4,216.1 67.6,225.4 67.9,218.8 68.1,225.4 68.4,225.4 68.6,225.4 68.9,225.4 69.1,225.4 69.4,225.4 69.6,225.4 69.9,225.4 70.1,225.4 70.4,225.4 70.6,225.4 70.9,216.7 71.1,225.4 71.4,225.4 71.6,225.4 71.9,225.4 72.1,225.4 72.4,225.4 72.6,217.6 72.9,225.4 73.1,225.4 73.4,225.4 73.6,225.4 73.9,225.4 74.1,225.4 74.4,225.4 74.6,225.4 74.9,219.2 75.1,225.4 75.4,225.4 75.6,225.4 75.9,225.4 76.1,225.4 76.4,225.4 76.6,225.4 76.9,225.4 77.1,225.4 77.4,225.4 77.6,216.3 77.9,225.4 78.1,225.4 78.4,225.4 78.6,225.4 78.9,225.4 79.1,225.4 79.4,225.4 79.6,225.4 79.9,225.4 80.1,216.3 80.4,225.4 80.6,225.4 80.9,225.4 81.1,225.4 81.4,225.4 81.6,225.4 81.9,225.4 82.1,225.4 82.4,225.4 82.6,225.4 82.9,225.4 83.1,225.4 83.4,225.4 83.6,225.4 83.9,225.4 84.1,225.4 84.4,225.4 84.6,225.4 84.9,218.0 85.1,225.4 85.4,225.4 85.6,225.4 85.9,225.4 86.1,220.2 86.4,225.4 86.6,225.4 86.9,225.4 87.1,225.4 87.4,225.4 87.6,217.8 87.9,225.4 88.1,225.4 88.4,225.4 88.6,225.4 88.9,225.4 89.1,225.4 89.4,225.4 89.6,225.4 89.9,225.4 90.1,225.4 90.4,225.4 90.6,225.4 90.9,225.4 91.1,225.4 91.4,220.1 91.6,225.4 91.9,225.4 92.1,225.4 92.4,225.4 92.6,225.4 92.9,225.4 93.1,225.4 93.4,225.4 93.6,225.4 93.9,225.4 94.1,225.4 94.4,225.4 94.6,225.4 94.9,225.4 95.1,225.4 95.4,225.4 95.6,225.4 95.9,225.4 96.1,225.4 96.4,225.4 96.6,225.4 96.9,225.4 97.1,217.1 97.4,225.4 97.6,225.4 97.9,225.4 98.1,225.4 98.4,225.4 98.6,225.4 98.9,225.4 99.1,225.4 99.4,206.6 99.6,225.4 99.9,225.4 100.1,225.4 100.4,225.4 100.6,225.4 100.9,225.4 101.1,225.4 101.4,225.4 101.6,225.4 101.9,219.0 102.1,225.4 102.4,193.3 102.6,225.4 102.9,225.4 103.1,225.4 103.4,225.4 103.6,225.4 103.9,225.4 104.1,225.4 104.4,225.4 104.6,225.4 104.9,225.4 105.1,225.4 105.4,225.4 105.6,225.4 105.9,225.4 106.1,225.4 106.4,225.4 106.6,225.4 106.9,225.4 107.1,225.4 107.4,225.4 107.6,225.4 107.9,225.4 108.1,225.4 108.4,225.4 108.6,192.6 108.9,225.4 109.1,225.4 109.4,225.4 109.6,225.4 109.9,225.4 110.1,225.4 110.4,225.4 110.6,225.4 110.9,225.4 111.1,225.4 111.4,225.4 111.6,225.4 111.9,225.4 112.1,225.4 112.4,225.4 112.6,225.4 112.9,225.4 113.1,225.4 113.4,225.4 113.6,225.4 113.9,225.4 114.1,225.4 114.4,225.4 114.6,225.4 114.9,225.4 115.1,225.4 115.4,225.4 115.6,225.4 115.9,225.4 116.1,225.4 116.4,210.3 116.6,225.4 116.9,225.4 117.1,225.4 117.4,225.4 117.6,225.4 117.9,225.4 118.1,225.4 118.4,216.3 118.6,225.4 118.9,225.4 119.1,225.4 119.4,225.4 119.6,225.4 119.9,225.4 120.1,225.4 120.4,225.4 120.6,225.4 120.9,225.4 121.1,225.4 121.4,225.4 121.6,225.4 121.9,225.4 122.1,225.4 122.4,225.4 122.6,225.4 122.9,225.4 123.1,225.4 123.4,225.4 123.6,225.4 123.9,225.4 124.1,225.4 124.4,225.4 124.6,225.4 124.9,225.4 125.1,225.4 125.4,225.4 125.6,225.4 125.9,225.4 126.1,225.4 126.4,225.4 126.6,225.4 126.9,225.4 127.1,225.4 127.4,225.4 127.6,225.4 127.9,225.4 128.1,225.4 128.4,225.4 128.6,225.4 128.9,225.4 129.1,225.4 129.4,225.4 129.6,225.4 129.9,225.4 130.1,225.4 130.4,225.4 130.6,215.1 130.9,225.4 131.1,225.4 131.4,225.4 131.6,225.4 131.9,225.4 132.1,225.4 132.4,217.1 132.6,225.4 132.9,225.4 133.1,225.4 133.4,225.4 133.6,216.7 133.9,225.4 134.1,225.4 134.4,225.4 134.6,225.4 134.9,225.4 135.1,225.4 135.4,225.4 135.6,225.4 135.9,225.4 136.1,225.4 136.4,225.4 136.6,225.4 136.9,225.4 137.1,225.4 137.4,225.4 137.6,225.4 137.9,217.3 138.1,225.4 138.4,217.6 138.6,225.4 138.9,219.3 139.1,225.4 139.4,225.4 139.6,225.4 139.9,225.4 140.1,225.4 140.4,225.4 140.6,225.4 140.9,225.4 141.1,225.4 141.4,225.4 141.6,225.4 141.9,225.4 142.1,225.4 142.4,225.4 142.6,225.4 142.9,225.4 143.1,225.4 143.4,225.4 143.6,225.4 143.9,225.4 144.1,225.4 144.4,225.4 144.6,225.4 144.9,225.4 145.1,225.4 145.4,225.4 145.6,225.4 145.9,216.9 146.1,225.4 146.4,225.4 146.6,225.4 146.9,220.0 147.1,225.4 147.4,225.4 147.6,225.4 147.9,225.4 148.1,225.4 148.4,225.4 148.6,225.4 148.9,225.4 149.1,225.4 149.4,225.4 149.6,216.0 149.9,225.4 150.1,225.4 150.4,211.0 150.6,225.4 150.9,225.4 151.1,225.4 151.4,225.4 151.6,225.4 151.9,225.4 152.1,225.4 152.4,194.5 152.6,225.4 152.9,225.4 153.1,225.4 153.4,225.4 153.6,225.4 153.9,225.4 154.1,225.4 154.4,225.4 154.6,225.4 154.9,217.5 155.1,225.4 155.4,225.4 155.6,225.4 155.9,225.4 156.1,225.4 156.4,225.4 156.6,225.4 156.9,225.4 157.1,225.4 157.4,225.4 157.6,225.4 157.9,225.4 158.1,219.9 158.4,225.4 158.6,225.4 158.9,217.1 159.1,225.4 159.4,225.4 159.6,225.4 159.9,225.4 160.1,225.4 160.4,225.4 160.6,225.4 160.8,225.4 161.1,225.4 161.3,225.4 161.6,225.4 161.8,225.4 162.1,217.1 162.3,225.4 162.6,225.4 162.8,225.4 163.1,225.4 163.3,225.4 163.6,225.4 163.8,225.4 164.1,225.4 164.3,225.4 164.6,225.4 164.8,219.6 165.1,225.4 165.3,225.4 165.6,225.4 165.8,225.4 166.1,225.4 166.3,225.4 166.6,225.4 166.8,225.4 167.1,225.4 167.3,225.4 167.6,218.1 167.8,225.4 168.1,225.4 168.3,225.4 168.6,225.4 168.8,225.4 169.1,225.4 169.3,225.4 169.6,225.4 169.8,225.4 170.1,213.9 170.3,225.4 170.6,225.4 170.8,225.4 171.1,225.4 171.3,225.4 171.6,213.9 171.8,216.5 172.1,225.4 172.3,225.4 172.6,225.4 172.8,225.4 173.1,217.0 173.3,217.7 173.6,225.4 173.8,225.4 174.1,225.4 174.3,225.4 174.6,225.4 174.8,225.4 175.1,225.4 175.3,225.4 175.6,225.4 175.8,225.4 176.1,225.4 176.3,225.4 176.6,225.4 176.8,225.4 177.1,225.4 177.3,225.4 177.6,225.4 177.8,225.4 178.1,225.4 178.3,225.4 178.6,225.4 178.8,225.4 179.1,225.4 179.3,225.4 179.6,225.4 179.8,225.4 180.1,225.4 180.3,225.4 180.6,217.1 180.8,225.4 181.1,225.4 181.3,225.4 181.6,225.4 181.8,225.4 182.1,225.4 182.3,225.4 182.6,225.4 182.8,225.4 183.1,225.4 183.3,225.4 183.6,225.4 183.8,225.4 184.1,225.4 184.3,225.4 184.6,225.4 184.8,225.4 185.1,225.4 185.3,225.4 185.6,225.4 185.8,225.4 186.1,225.4 186.3,225.4 186.6,225.4 186.8,225.4 187.1,216.3 187.3,225.4 187.6,225.4 187.8,218.5 188.1,225.4 188.3,225.4 188.6,225.4 188.8,225.4 189.1,225.4 189.3,225.4 189.6,225.4 189.8,215.1 190.1,225.4 190.3,225.4 190.6,225.4 190.8,225.4 191.1,225.4 191.3,225.4 191.6,225.4 191.8,225.4 192.1,225.4 192.3,225.4 192.6,225.4 192.8,225.4 193.1,225.4 193.3,225.4 193.6,225.4 193.8,225.4 194.1,225.4 194.3,225.4 194.6,225.4 194.8,225.4 195.1,225.4 195.3,225.4 195.6,225.4 195.8,225.4 196.1,225.4 196.3,225.4 196.6,225.4 196.8,203.7 197.1,225.4 197.3,225.4 197.6,225.4 197.8,225.4 198.1,225.4 198.3,225.4 198.6,225.4 198.8,225.4 199.1,225.4 199.3,225.4 199.6,225.4 199.8,225.4 200.1,225.4 200.3,225.4 200.6,225.4 200.8,225.4 201.1,225.4 201.3,225.4 201.6,225.4 201.8,225.4 202.1,225.4 202.3,225.4 202.6,225.4 202.8,225.4 203.1,225.4 203.3,225.4 203.6,225.4 203.8,225.4 204.1,225.4 204.3,225.4 204.6,225.4 204.8,225.4 205.1,225.4 205.3,220.1 205.6,210.3 205.8,225.4 206.1,225.4 206.3,225.4 206.6,225.4 206.8,225.4 207.1,225.4 207.3,225.4 207.6,225.4 207.8,225.4 208.1,225.4 208.3,225.4 208.6,225.4 208.8,225.4 209.1,225.4 209.3,225.4 209.6,225.4 209.8,225.4 210.1,225.4 210.3,225.4 210.6,225.4 210.8,225.4 211.1,225.4 211.3,225.4 211.6,225.4 211.8,225.4 212.1,225.4 212.3,225.4 212.6,225.4 212.8,225.4 213.1,225.4 213.3,225.4 213.6,225.4 213.8,210.3 214.1,225.4 214.3,225.4 214.6,225.4 214.8,225.4 215.1,225.4 215.3,225.4 215.6,225.4 215.8,225.4 216.1,225.4 216.3,225.4 216.6,225.4 216.8,225.4 217.1,225.4 217.3,225.4 217.6,225.4 217.8,225.4 218.1,225.4 218.3,225.4 218.6,212.2 218.8,225.4 219.1,225.4 219.3,225.4 219.6,225.4 219.8,225.4 220.1,212.2 220.3,225.4 220.6,225.4 220.8,225.4 221.1,225.4 221.3,225.4 221.6,225.4 221.8,225.4 222.1,225.4 222.3,225.4 222.6,225.4 222.8,225.4 223.1,225.4 223.3,225.4 223.6,225.4 223.8,225.4 224.1,225.4 224.3,225.4 224.6,225.4 224.8,225.4 225.1,225.4 225.3,225.4 225.6,225.4 225.8,225.4 226.1,225.4 226.3,225.4 226.6,225.4 226.8,225.4 227.1,225.4 227.3,225.4 227.6,225.4 227.8,225.4 228.1,225.4 228.3,225.4 228.6,225.4 228.8,225.4 229.1,217.6 229.3,225.4 229.6,225.4 229.8,225.4 230.1,225.4 230.3,216.3 230.6,225.4 230.8,225.4 231.1,225.4 231.3,225.4 231.6,225.4 231.8,225.4 232.1,225.4 232.3,225.4 232.6,217.0 232.8,225.4 233.1,225.4 233.3,225.4 233.6,225.4 233.8,225.4 234.1,225.4 234.3,225.4 234.6,225.4 234.8,225.4 235.1,225.4 235.3,225.4 235.6,225.4 235.8,225.4 236.1,225.4 236.3,225.4 236.6,225.4 236.8,225.4 237.1,225.4 237.3,225.4 237.6,225.4 237.8,225.4 238.1,225.4 238.3,225.4 238.6,225.4 238.8,225.4 239.1,225.4 239.3,220.1 239.6,225.4 239.8,225.4 240.1,225.4 240.3,225.4 240.6,225.4 240.8,212.7 241.1,225.4 241.3,225.4 241.6,225.4 241.8,225.4 242.1,225.4 242.3,225.4 242.6,225.4 242.8,225.4 243.1,225.4 243.3,225.4 243.6,225.4 243.8,225.4 244.1,225.4 244.3,225.4 244.6,225.4 244.8,225.4 245.1,225.4 245.3,225.4 245.6,225.4 245.8,225.4 246.1,225.4 246.3,225.4 246.6,225.4 246.8,225.4 247.1,225.4 247.3,225.4 247.6,225.4 247.8,225.4 248.1,225.4 248.3,225.4 248.6,225.4 248.8,225.4 249.1,225.4 249.3,225.4 249.6,225.4 249.8,225.4 250.1,225.4 250.3,225.4 250.6,225.4 250.8,225.4 251.1,225.4 251.3,218.6 251.6,225.4 251.8,225.4 252.1,217.6 252.3,225.4 252.6,225.4 252.8,225.4 253.1,225.4 253.3,225.4 253.6,225.4 253.8,217.2 254.1,225.4 254.3,225.4 254.6,225.4 254.8,225.4 255.1,225.4 255.3,225.4 255.6,225.4 255.8,225.4 256.1,225.4 256.3,225.4 256.6,225.4 256.8,225.4 257.1,225.4 257.3,225.4 257.6,225.4 257.8,209.1 258.1,225.4 258.3,225.4 258.6,225.4 258.8,207.9 259.1,225.4 259.3,208.3 259.6,225.4 259.8,225.4 260.1,225.4 260.3,225.4 260.6,225.4 260.8,225.4 261.1,225.4 261.3,216.3 261.6,225.4 261.8,225.4 262.1,225.4 262.3,225.4 262.6,225.4 262.8,225.4 263.1,225.4 263.3,225.4 263.6,225.4 263.8,225.4 264.1,225.4 264.3,225.4 264.6,220.1 264.8,225.4 265.1,225.4 265.3,225.4 265.6,225.4 265.8,225.4 266.1,225.4 266.3,225.4 266.6,225.4 266.8,225.4 267.1,225.4 267.3,225.4 267.6,225.4 267.8,225.4 268.1,225.4 268.3,225.4 268.6,225.4 268.8,225.4 269.1,225.4 269.3,225.4 269.6,217.8 269.8,225.4 270.1,225.4 270.3,218.8 270.6,225.4 270.8,225.4 271.1,225.4 271.3,216.1 271.6,225.4 271.8,225.4 272.1,225.4 272.3,225.4 272.6,225.4 272.8,225.4 273.1,225.4 273.3,225.4 273.6,225.4 273.8,225.4 274.1,225.4 274.3,225.4 274.6,225.4 274.8,225.4 275.1,225.4 275.3,225.4 275.6,225.4 275.8,225.4 276.1,225.4 276.3,225.4 276.6,225.4 276.8,225.4 277.1,225.4 277.3,225.4 277.6,213.9 277.8,225.4 278.1,225.4 278.3,225.4 278.6,225.4 278.8,225.4 279.1,225.4 279.3,225.4 279.6,225.4 279.8,225.4 280.1,225.4 280.3,225.4 280.6,225.4 280.8,217.6 281.1,225.4 281.3,225.4 281.6,225.4 281.8,225.4 282.1,225.4 282.3,225.4 282.6,225.4 282.8,225.4 283.1,225.4 283.3,225.4 283.6,225.4 283.8,225.4 284.1,225.4 284.3,225.4 284.6,225.4 284.8,225.4 285.1,225.4 285.3,225.4 285.6,225.4 285.8,225.4 286.1,209.1 286.3,225.4 286.6,225.4 286.8,225.4 287.1,225.4 287.3,220.6 287.6,225.4 287.8,225.4 288.1,225.4 288.3,225.4 288.6,215.1 288.8,225.4 289.1,225.4 289.3,225.4 289.6,225.4 289.8,225.4 290.1,225.4 290.3,225.4"/>
<rect x="17.60" y="189.70" width="286.00" height="46.70" fill="none" stroke="#444444" stroke-width="0.60"/>
<line x1="16.00" y1="225.40" x2="17.60" y2="225.40" stroke="#444444" stroke-width="0.60"/>
<text x="13.60" y="227.62" text-anchor="end" class="tk" textLength="8.67" lengthAdjust="spacingAndGlyphs">0.0</text>
<line x1="16.00" y1="209.50" x2="17.60" y2="209.50" stroke="#444444" stroke-width="0.60"/>
<text x="13.60" y="211.72" text-anchor="end" class="tk" textLength="8.67" lengthAdjust="spacingAndGlyphs">0.5</text>
<line x1="16.00" y1="193.60" x2="17.60" y2="193.60" stroke="#444444" stroke-width="0.60"/>
<text x="13.60" y="195.82" text-anchor="end" class="tk" textLength="8.67" lengthAdjust="spacingAndGlyphs">1.0</text>
<line x1="30.90" y1="236.40" x2="30.90" y2="238.80" stroke="#444444" stroke-width="0.60"/>
<text x="30.90" y="245.10" text-anchor="middle" class="tk" textLength="3.47" lengthAdjust="spacingAndGlyphs">0</text>
<line x1="82.78" y1="236.40" x2="82.78" y2="238.80" stroke="#444444" stroke-width="0.60"/>
<text x="82.78" y="245.10" text-anchor="middle" class="tk" textLength="13.86" lengthAdjust="spacingAndGlyphs">5000</text>
<line x1="134.66" y1="236.40" x2="134.66" y2="238.80" stroke="#444444" stroke-width="0.60"/>
<text x="134.66" y="245.10" text-anchor="middle" class="tk" textLength="17.33" lengthAdjust="spacingAndGlyphs">10000</text>
<line x1="186.54" y1="236.40" x2="186.54" y2="238.80" stroke="#444444" stroke-width="0.60"/>
<text x="186.54" y="245.10" text-anchor="middle" class="tk" textLength="17.33" lengthAdjust="spacingAndGlyphs">15000</text>
<line x1="238.42" y1="236.40" x2="238.42" y2="238.80" stroke="#444444" stroke-width="0.60"/>
<text x="238.42" y="245.10" text-anchor="middle" class="tk" textLength="17.33" lengthAdjust="spacingAndGlyphs">20000</text>
<line x1="290.30" y1="236.40" x2="290.30" y2="238.80" stroke="#444444" stroke-width="0.60"/>
<text x="290.30" y="245.10" text-anchor="middle" class="tk" textLength="17.33" lengthAdjust="spacingAndGlyphs">25000</text>
<line x1="180.60" y1="200.20" x2="197.10" y2="200.20" stroke="#0000ff" stroke-width="0.9"/>
<text x="203.33" y="203.60" class="lg" style="font-size:7.90px" textLength="93.31" lengthAdjust="spacingAndGlyphs">DnCNN denoised signal</text>
<clipPath id="cL5"><rect x="17.60" y="251.40" width="286.00" height="46.90"/></clipPath>
<polygon clip-path="url(#cL5)" fill="#008000" stroke="#008000" stroke-width="0.5" points="42.9,286.8 43.2,284.4 43.5,281.9 43.8,281.5 44.1,281.0 44.4,280.6 44.7,280.1 45.0,279.7 45.3,279.6 45.6,279.5 45.9,279.4 46.2,279.3 46.5,279.2 46.8,279.1 47.1,279.0 47.4,278.9 47.7,278.8 48.0,278.7 48.3,278.8 48.6,278.9 48.9,279.0 49.2,279.1 49.5,279.2 49.8,279.3 50.1,279.4 50.4,279.5 50.7,279.6 51.0,279.7 51.3,279.9 51.6,280.1 51.9,280.4 52.2,280.6 52.5,280.8 52.8,281.0 53.1,281.3 53.4,281.5 53.7,281.7 54.0,281.9 54.3,282.7 54.6,283.5 54.9,284.4 55.2,285.2 55.5,286.0 55.5,286.8 55.2,286.8 54.9,286.8 54.6,286.8 54.3,286.8 54.0,286.8 53.7,286.8 53.4,286.8 53.1,286.8 52.8,286.8 52.5,286.8 52.2,286.8 51.9,286.8 51.6,286.8 51.3,286.8 51.0,286.8 50.7,286.8 50.4,286.8 50.1,286.8 49.8,286.8 49.5,286.8 49.2,286.8 48.9,286.8 48.6,286.8 48.3,286.8 48.0,286.8 47.7,286.8 47.4,286.8 47.1,286.8 46.8,286.8 46.5,286.8 46.2,286.8 45.9,286.8 45.6,286.8 45.3,286.8 45.0,286.8 44.7,286.8 44.4,286.8 44.1,286.8 43.8,286.8 43.5,286.8 43.2,286.8 42.9,286.8"/>
<polyline clip-path="url(#cL5)" fill="none" stroke="#008000" stroke-width="0.95" stroke-linejoin="round" points="30.9,287.0 31.1,286.4 31.4,286.5 31.6,283.2 31.9,286.4 32.1,286.5 32.4,286.7 32.6,286.9 32.9,286.8 33.1,287.1 33.4,286.8 33.6,286.7 33.9,287.1 34.1,286.8 34.4,281.5 34.6,286.6 34.9,286.6 35.1,286.9 35.4,286.9 35.6,286.8 35.9,286.6 36.1,286.9 36.4,286.8 36.6,287.1 36.9,286.5 37.1,286.6 37.4,287.0 37.6,286.6 37.9,287.1 38.1,286.5 38.4,286.7 38.6,286.9 38.9,286.3 39.1,286.8 39.4,286.8 39.6,286.8 39.9,287.1 40.1,286.8 40.4,286.6 40.6,286.9 40.9,286.8 41.1,286.8 41.4,286.6 41.6,286.6 41.9,287.0 42.1,286.8 42.4,286.5 42.6,286.6 42.9,286.7 42.9,285.4 43.2,284.4 43.5,271.4 43.8,283.2 44.1,278.3 44.4,282.9 44.7,276.8 45.0,279.7 45.3,279.4 45.6,280.9 45.9,278.5 46.2,261.4 46.5,275.7 46.8,283.8 47.1,270.3 47.4,286.7 47.7,263.3 48.0,285.7 48.3,268.3 48.6,282.2 48.9,273.1 49.2,265.3 49.5,276.7 49.8,280.0 50.1,276.6 50.4,283.5 50.7,273.8 51.0,284.1 51.3,272.4 51.6,267.8 51.9,273.9 52.2,284.9 52.5,270.5 52.8,264.3 53.1,280.6 53.4,284.7 53.7,278.2 54.0,282.4 54.3,282.6 54.6,285.3 54.9,278.9 55.2,286.4 55.5,281.6 55.6,286.5 55.9,286.7 56.1,286.7 56.4,286.6 56.6,286.8 56.9,286.8 57.1,286.8 57.4,279.1 57.6,286.8 57.9,279.1 58.1,286.9 58.4,286.9 58.6,286.7 58.9,286.3 59.1,287.0 59.4,287.3 59.6,286.8 59.9,286.9 60.1,286.6 60.4,286.7 60.6,287.0 60.9,286.5 61.1,287.2 61.4,287.2 61.6,287.3 61.9,286.6 62.1,287.2 62.4,286.6 62.6,286.7 62.9,286.8 63.1,279.6 63.4,286.7 63.6,287.3 63.9,286.9 64.1,286.8 64.4,275.9 64.6,286.7 64.9,286.6 65.1,286.9 65.4,286.6 65.6,286.6 65.9,286.7 66.1,287.2 66.4,286.7 66.6,282.0 66.9,286.6 67.1,287.0 67.4,286.6 67.6,286.3 67.9,286.6 68.1,286.9 68.4,286.9 68.6,286.5 68.9,286.7 69.1,287.1 69.4,286.4 69.6,286.4 69.9,286.7 70.1,286.7 70.4,286.9 70.6,286.8 70.9,274.7 71.1,286.9 71.4,286.5 71.6,286.9 71.9,286.2 72.1,286.7 72.4,286.9 72.6,286.9 72.9,286.8 73.1,286.8 73.4,287.1 73.6,286.7 73.9,286.8 74.1,286.5 74.4,286.5 74.6,287.2 74.9,287.0 75.1,286.3 75.4,286.4 75.6,286.7 75.9,287.0 76.1,286.7 76.4,278.3 76.6,286.6 76.9,286.5 77.1,286.3 77.4,286.8 77.6,286.8 77.9,287.2 78.1,286.9 78.4,286.5 78.6,286.6 78.9,286.6 79.1,286.5 79.4,287.0 79.6,286.6 79.9,286.9 80.1,286.7 80.4,287.0 80.6,286.8 80.9,287.2 81.1,286.8 81.4,286.6 81.6,286.6 81.9,286.6 82.1,286.9 82.4,286.8 82.6,286.6 82.9,286.8 83.1,286.6 83.4,286.4 83.6,287.1 83.9,287.0 84.1,287.0 84.4,271.8 84.6,286.8 84.9,286.8 85.1,286.6 85.4,286.8 85.6,286.8 85.9,286.5 86.1,286.8 86.4,286.6 86.6,286.7 86.9,287.3 87.1,287.1 87.4,286.7 87.6,287.0 87.9,286.5 88.1,286.6 88.4,287.0 88.6,282.5 88.9,286.8 89.1,286.5 89.4,286.8 89.6,286.9 89.9,286.8 90.1,286.7 90.4,286.7 90.6,286.6 90.9,286.5 91.1,286.8 91.4,286.7 91.6,286.6 91.9,287.1 92.1,287.0 92.4,286.7 92.6,286.8 92.9,287.0 93.1,287.1 93.4,286.9 93.6,286.4 93.9,287.1 94.1,286.7 94.4,287.2 94.6,286.9 94.9,286.8 95.1,286.4 95.4,286.8 95.6,286.3 95.9,287.0 96.1,287.0 96.4,286.9 96.6,286.8 96.9,286.7 97.1,286.6 97.4,286.6 97.6,287.1 97.9,283.2 98.1,286.9 98.4,286.6 98.6,286.4 98.9,287.2 99.1,287.1 99.4,286.9 99.6,286.7 99.9,287.1 100.1,286.8 100.4,287.2 100.6,286.5 100.9,286.6 101.1,287.3 101.4,287.1 101.6,287.1 101.9,284.9 102.1,286.6 102.4,286.8 102.6,286.8 102.9,286.6 103.1,286.7 103.4,287.0 103.6,286.2 103.9,286.4 104.1,286.5 104.4,286.8 104.6,287.0 104.9,286.8 105.1,286.5 105.4,287.0 105.6,286.9 105.9,286.8 106.1,287.0 106.4,286.8 106.6,286.9 106.9,286.4 107.1,286.7 107.4,286.7 107.6,286.4 107.9,287.0 108.1,286.8 108.4,286.9 108.6,286.8 108.9,286.8 109.1,287.3 109.4,287.0 109.6,286.6 109.9,286.7 110.1,286.8 110.4,286.6 110.6,287.2 110.9,286.6 111.1,287.0 111.4,286.8 111.6,283.2 111.9,286.5 112.1,286.8 112.4,286.8 112.6,287.0 112.9,286.6 113.1,286.8 113.4,286.8 113.6,286.7 113.9,286.7 114.1,286.4 114.4,286.6 114.6,272.3 114.9,286.6 115.1,286.8 115.4,286.6 115.6,286.7 115.9,287.0 116.1,287.1 116.4,286.6 116.6,286.8 116.9,286.8 117.1,287.0 117.4,287.0 117.6,286.9 117.9,286.9 118.1,286.6 118.4,287.0 118.6,286.7 118.9,286.6 119.1,287.0 119.4,286.7 119.6,287.2 119.9,287.2 120.1,286.7 120.4,286.7 120.6,286.6 120.9,286.7 121.1,287.0 121.4,286.8 121.6,287.2 121.9,286.8 122.1,286.6 122.4,286.9 122.6,286.8 122.9,286.6 123.1,286.5 123.4,286.8 123.6,287.0 123.9,286.9 124.1,286.8 124.4,286.7 124.6,286.4 124.9,286.6 125.1,286.8 125.4,286.6 125.6,286.3 125.9,286.9 126.1,286.9 126.4,286.9 126.6,286.7 126.9,286.4 127.1,286.8 127.4,286.6 127.6,286.7 127.9,286.8 128.1,286.8 128.4,286.8 128.6,286.9 128.9,287.1 129.1,286.9 129.4,286.6 129.6,287.0 129.9,286.6 130.1,287.1 130.4,286.9 130.6,280.8 130.9,287.5 131.1,286.6 131.4,287.1 131.6,286.8 131.9,286.7 132.1,286.8 132.4,286.8 132.6,286.5 132.9,287.3 133.1,286.9 133.4,286.9 133.6,287.2 133.9,286.8 134.1,286.6 134.4,286.6 134.6,286.6 134.9,287.0 135.1,286.9 135.4,286.2 135.6,286.8 135.9,286.7 136.1,287.1 136.4,286.9 136.6,286.9 136.9,286.4 137.1,286.7 137.4,286.7 137.6,286.9 137.9,286.9 138.1,286.2 138.4,286.9 138.6,286.8 138.9,286.7 139.1,286.6 139.4,286.7 139.6,287.1 139.9,287.1 140.1,286.9 140.4,283.9 140.6,286.6 140.9,286.7 141.1,286.8 141.4,286.6 141.6,286.8 141.9,286.5 142.1,287.0 142.4,286.8 142.6,286.9 142.9,286.8 143.1,277.6 143.4,286.9 143.6,287.0 143.9,286.5 144.1,286.8 144.4,286.5 144.6,286.9 144.9,286.1 145.1,286.7 145.4,286.6 145.6,286.7 145.9,286.8 146.1,286.6 146.4,286.6 146.6,286.5 146.9,286.6 147.1,286.8 147.4,287.5 147.6,286.6 147.9,286.9 148.1,287.0 148.4,286.6 148.6,286.9 148.9,286.6 149.1,286.7 149.4,287.3 149.6,286.9 149.9,286.7 150.1,278.3 150.4,287.2 150.6,287.0 150.9,286.3 151.1,286.6 151.4,286.7 151.6,286.7 151.9,286.5 152.1,286.9 152.4,286.7 152.6,286.5 152.9,287.0 153.1,286.9 153.4,286.8 153.6,286.6 153.9,286.6 154.1,286.5 154.4,286.8 154.6,287.2 154.9,286.5 155.1,287.0 155.4,287.0 155.6,286.6 155.9,286.7 156.1,287.0 156.4,286.7 156.6,286.8 156.9,286.9 157.1,279.6 157.4,287.0 157.6,286.2 157.9,286.9 158.1,286.6 158.4,286.8 158.6,286.8 158.9,286.9 159.1,286.1 159.4,286.9 159.6,287.0 159.9,286.5 160.1,286.6 160.4,286.5 160.6,286.8 160.8,286.8 161.1,286.8 161.3,287.1 161.6,286.9 161.8,286.8 162.1,286.7 162.3,286.4 162.6,286.9 162.8,287.1 163.1,286.6 163.3,286.4 163.6,286.5 163.8,286.7 164.1,286.8 164.3,286.9 164.6,286.5 164.8,281.3 165.1,280.8 165.3,286.8 165.6,286.7 165.8,286.7 166.1,286.5 166.3,286.9 166.6,286.9 166.8,286.5 167.1,286.9 167.3,287.0 167.6,286.8 167.8,286.6 168.1,287.2 168.3,287.2 168.6,287.0 168.8,286.8 169.1,286.8 169.3,286.8 169.6,286.4 169.8,286.8 170.1,287.0 170.3,286.7 170.6,286.6 170.8,283.9 171.1,286.6 171.3,286.9 171.6,286.8 171.8,286.3 172.1,286.8 172.3,286.7 172.6,286.6 172.8,287.1 173.1,286.6 173.3,281.3 173.6,286.8 173.8,287.0 174.1,286.7 174.3,286.7 174.6,286.5 174.8,286.8 175.1,286.8 175.3,286.6 175.6,287.2 175.8,286.8 176.1,286.8 176.3,281.3 176.6,286.8 176.8,287.0 177.1,286.6 177.3,286.9 177.6,286.8 177.8,286.8 178.1,284.9 178.3,287.0 178.6,287.0 178.8,286.8 179.1,286.6 179.3,286.5 179.6,286.7 179.8,286.5 180.1,286.8 180.3,287.0 180.6,286.2 180.8,286.8 181.1,286.5 181.3,286.3 181.6,286.9 181.8,286.7 182.1,286.3 182.3,287.0 182.6,286.9 182.8,287.2 183.1,286.6 183.3,286.6 183.6,286.6 183.8,286.9 184.1,287.1 184.3,286.4 184.6,286.7 184.8,286.9 185.1,286.4 185.3,286.9 185.6,286.8 185.8,286.9 186.1,265.5 186.3,286.9 186.6,286.5 186.8,286.8 187.1,286.5 187.3,286.9 187.6,286.4 187.8,286.7 188.1,286.5 188.3,287.0 188.6,287.0 188.8,287.0 189.1,287.1 189.3,286.8 189.6,287.2 189.8,286.5 190.1,286.9 190.3,277.1 190.6,287.1 190.8,287.0 191.1,287.4 191.3,286.8 191.6,286.7 191.8,286.6 192.1,286.8 192.3,286.3 192.6,286.8 192.8,286.5 193.1,286.6 193.3,286.9 193.6,286.2 193.8,286.2 194.1,287.1 194.3,286.4 194.6,287.0 194.8,287.0 195.1,286.9 195.3,287.1 195.6,286.9 195.8,286.4 196.1,286.8 196.3,286.3 196.6,286.3 196.8,286.6 197.1,286.5 197.3,287.0 197.6,286.6 197.8,287.1 198.1,286.7 198.3,287.0 198.6,286.9 198.8,286.7 199.1,287.0 199.3,286.9 199.6,287.0 199.8,286.7 200.1,286.4 200.3,287.0 200.6,286.7 200.8,286.8 201.1,286.1 201.3,287.1 201.6,286.7 201.8,286.6 202.1,286.9 202.3,286.4 202.6,280.8 202.8,286.8 203.1,287.1 203.3,286.8 203.6,271.8 203.8,286.7 204.1,286.7 204.3,286.8 204.6,287.0 204.8,286.3 205.1,286.3 205.3,286.2 205.6,286.7 205.8,286.8 206.1,287.1 206.3,286.7 206.6,286.9 206.8,286.6 207.1,287.2 207.3,287.1 207.6,286.8 207.8,286.6 208.1,286.8 208.3,286.4 208.6,286.6 208.8,286.7 209.1,286.5 209.3,286.8 209.6,286.8 209.8,287.1 210.1,287.4 210.3,286.8 210.6,286.7 210.8,287.3 211.1,286.8 211.3,287.1 211.6,286.8 211.8,286.9 212.1,287.1 212.3,286.6 212.6,287.1 212.8,287.1 213.1,287.0 213.3,282.7 213.6,286.5 213.8,286.8 214.1,286.4 214.3,286.9 214.6,287.1 214.8,287.1 215.1,287.3 215.3,286.7 215.6,286.6 215.8,287.4 216.1,286.9 216.3,286.7 216.6,287.3 216.8,286.2 217.1,287.0 217.3,287.1 217.6,286.9 217.8,287.2 218.1,286.6 218.3,286.8 218.6,287.3 218.8,286.6 219.1,286.6 219.3,286.8 219.6,277.6 219.8,286.7 220.1,286.6 220.3,286.6 220.6,286.5 220.8,287.0 221.1,286.4 221.3,286.9 221.6,286.7 221.8,275.4 222.1,286.8 222.3,286.1 222.6,286.7 222.8,287.0 223.1,287.0 223.3,287.0 223.6,286.3 223.8,286.8 224.1,286.6 224.3,286.9 224.6,286.8 224.8,286.8 225.1,286.7 225.3,286.9 225.6,287.2 225.8,287.3 226.1,279.6 226.3,287.0 226.6,286.4 226.8,287.2 227.1,287.1 227.3,286.5 227.6,287.0 227.8,286.7 228.1,286.9 228.3,286.5 228.6,286.5 228.8,287.0 229.1,273.0 229.3,286.7 229.6,286.9 229.8,286.7 230.1,286.7 230.3,286.9 230.6,286.6 230.8,286.4 231.1,286.9 231.3,286.9 231.6,286.9 231.8,286.6 232.1,286.3 232.3,286.8 232.6,286.7 232.8,287.0 233.1,286.7 233.3,286.8 233.6,286.5 233.8,286.7 234.1,286.5 234.3,286.6 234.6,287.0 234.8,287.0 235.1,286.9 235.3,286.5 235.6,286.8 235.8,286.9 236.1,287.0 236.3,286.4 236.6,286.8 236.8,287.0 237.1,283.2 237.3,286.4 237.6,286.7 237.8,286.9 238.1,286.4 238.3,286.9 238.6,287.2 238.8,286.9 239.1,286.8 239.3,286.6 239.6,286.9 239.8,286.6 240.1,286.4 240.3,286.5 240.6,286.8 240.8,281.5 241.1,286.7 241.3,286.9 241.6,286.7 241.8,286.9 242.1,286.5 242.3,286.4 242.6,286.2 242.8,286.8 243.1,287.1 243.3,286.9 243.6,286.9 243.8,287.2 244.1,286.7 244.3,286.8 244.6,287.3 244.8,286.6 245.1,285.1 245.3,286.5 245.6,286.4 245.8,287.0 246.1,287.0 246.3,286.7 246.6,286.8 246.8,287.0 247.1,286.8 247.3,286.5 247.6,286.3 247.8,286.6 248.1,286.6 248.3,287.0 248.6,286.5 248.8,286.9 249.1,287.0 249.3,286.5 249.6,286.6 249.8,284.4 250.1,286.7 250.3,287.0 250.6,286.9 250.8,286.5 251.1,286.8 251.3,286.8 251.6,287.0 251.8,286.2 252.1,286.8 252.3,286.7 252.6,286.9 252.8,286.8 253.1,287.2 253.3,286.7 253.6,286.6 253.8,286.8 254.1,286.7 254.3,286.8 254.6,287.1 254.8,286.9 255.1,286.7 255.3,287.1 255.6,286.6 255.8,286.4 256.1,286.6 256.3,287.4 256.6,286.6 256.8,286.9 257.1,286.6 257.3,286.4 257.6,286.6 257.8,287.2 258.1,286.8 258.3,286.8 258.6,286.8 258.8,286.6 259.1,286.4 259.3,286.5 259.6,286.8 259.8,286.4 260.1,286.6 260.3,286.9 260.6,286.9 260.8,286.5 261.1,286.5 261.3,286.9 261.6,287.0 261.8,286.3 262.1,286.6 262.3,287.3 262.6,286.8 262.8,286.6 263.1,287.1 263.3,286.6 263.6,287.7 263.8,286.8 264.1,286.7 264.3,286.9 264.6,287.0 264.8,286.4 265.1,287.0 265.3,286.8 265.6,286.4 265.8,286.7 266.1,287.0 266.3,286.5 266.6,286.5 266.8,287.3 267.1,286.6 267.3,287.0 267.6,286.6 267.8,286.6 268.1,286.7 268.3,286.5 268.6,286.8 268.8,287.1 269.1,286.8 269.3,287.0 269.6,286.7 269.8,286.3 270.1,286.9 270.3,286.4 270.6,286.8 270.8,286.7 271.1,279.1 271.3,286.9 271.6,286.8 271.8,286.8 272.1,286.9 272.3,286.6 272.6,286.7 272.8,280.3 273.1,286.9 273.3,286.8 273.6,286.5 273.8,286.7 274.1,286.9 274.3,286.8 274.6,286.4 274.8,286.5 275.1,286.6 275.3,286.8 275.6,287.1 275.8,286.7 276.1,286.7 276.3,286.4 276.6,286.9 276.8,286.7 277.1,286.3 277.3,286.9 277.6,286.3 277.8,286.7 278.1,286.9 278.3,286.4 278.6,286.8 278.8,286.6 279.1,286.7 279.3,286.9 279.6,286.7 279.8,286.2 280.1,287.2 280.3,287.3 280.6,286.7 280.8,286.3 281.1,286.6 281.3,286.2 281.6,286.9 281.8,286.8 282.1,286.4 282.3,286.4 282.6,286.8 282.8,286.6 283.1,286.4 283.3,286.8 283.6,287.0 283.8,278.3 284.1,286.6 284.3,286.6 284.6,286.4 284.8,286.4 285.1,274.7 285.3,286.4 285.6,287.0 285.8,286.7 286.1,287.5 286.3,287.0 286.6,286.7 286.8,286.5 287.1,286.9 287.3,287.0 287.6,281.5 287.8,286.6 288.1,286.7 288.3,287.1 288.6,286.3 288.8,286.4 289.1,286.9 289.3,286.8 289.6,286.9 289.8,286.9 290.1,286.6 290.3,286.6"/>
<rect x="17.60" y="251.40" width="286.00" height="46.90" fill="none" stroke="#444444" stroke-width="0.60"/>
<line x1="16.00" y1="287.40" x2="17.60" y2="287.40" stroke="#444444" stroke-width="0.60"/>
<text x="13.60" y="289.62" text-anchor="end" class="tk" textLength="8.67" lengthAdjust="spacingAndGlyphs">0.0</text>
<line x1="16.00" y1="271.35" x2="17.60" y2="271.35" stroke="#444444" stroke-width="0.60"/>
<text x="13.60" y="273.57" text-anchor="end" class="tk" textLength="8.67" lengthAdjust="spacingAndGlyphs">0.5</text>
<line x1="16.00" y1="255.30" x2="17.60" y2="255.30" stroke="#444444" stroke-width="0.60"/>
<text x="13.60" y="257.52" text-anchor="end" class="tk" textLength="8.67" lengthAdjust="spacingAndGlyphs">1.0</text>
<line x1="30.90" y1="298.30" x2="30.90" y2="300.70" stroke="#444444" stroke-width="0.60"/>
<text x="30.90" y="307.00" text-anchor="middle" class="tk" textLength="3.47" lengthAdjust="spacingAndGlyphs">0</text>
<line x1="82.78" y1="298.30" x2="82.78" y2="300.70" stroke="#444444" stroke-width="0.60"/>
<text x="82.78" y="307.00" text-anchor="middle" class="tk" textLength="13.86" lengthAdjust="spacingAndGlyphs">5000</text>
<line x1="134.66" y1="298.30" x2="134.66" y2="300.70" stroke="#444444" stroke-width="0.60"/>
<text x="134.66" y="307.00" text-anchor="middle" class="tk" textLength="17.33" lengthAdjust="spacingAndGlyphs">10000</text>
<line x1="186.54" y1="298.30" x2="186.54" y2="300.70" stroke="#444444" stroke-width="0.60"/>
<text x="186.54" y="307.00" text-anchor="middle" class="tk" textLength="17.33" lengthAdjust="spacingAndGlyphs">15000</text>
<line x1="238.42" y1="298.30" x2="238.42" y2="300.70" stroke="#444444" stroke-width="0.60"/>
<text x="238.42" y="307.00" text-anchor="middle" class="tk" textLength="17.33" lengthAdjust="spacingAndGlyphs">20000</text>
<line x1="290.30" y1="298.30" x2="290.30" y2="300.70" stroke="#444444" stroke-width="0.60"/>
<text x="290.30" y="307.00" text-anchor="middle" class="tk" textLength="17.33" lengthAdjust="spacingAndGlyphs">25000</text>
<line x1="193.30" y1="262.20" x2="209.80" y2="262.20" stroke="#008000" stroke-width="0.9"/>
<text x="215.76" y="265.90" class="lg" style="font-size:7.90px" textLength="80.88" lengthAdjust="spacingAndGlyphs">CAE denoised signal</text>
<clipPath id="cR1"><rect x="325.90" y="4.10" width="288.60" height="46.10"/></clipPath>
<polyline clip-path="url(#cR1)" fill="none" stroke="#1f77b4" stroke-width="0.95" stroke-linejoin="round" points="339.4,48.3 339.6,48.3 339.9,48.3 340.1,48.3 340.4,48.3 340.6,48.3 340.9,48.3 341.1,48.3 341.4,48.3 341.6,48.3 341.9,48.3 342.1,48.3 342.4,48.3 342.6,48.3 342.9,48.3 343.1,48.3 343.4,48.3 343.6,48.3 343.9,48.3 344.1,48.3 344.4,48.3 344.6,48.3 344.9,48.3 345.1,48.3 345.4,48.3 345.6,48.3 345.9,39.1 346.1,48.3 346.4,48.3 346.6,48.3 346.9,48.3 347.1,48.3 347.4,48.3 347.6,48.3 347.9,48.3 348.1,48.3 348.4,48.3 348.6,39.8 348.9,48.3 349.1,48.3 349.4,48.3 349.6,40.5 349.9,48.3 350.1,48.3 350.4,19.7 350.6,48.3 350.9,48.3 351.1,30.1 351.4,48.3 351.6,31.3 351.9,48.3 352.1,28.9 352.4,48.3 352.6,32.5 352.9,48.3 353.1,35.0 353.4,48.3 353.6,38.6 353.9,48.3 354.1,48.3 354.4,48.3 354.6,5.8 354.9,48.3 355.1,48.3 355.4,48.3 355.6,48.3 355.9,48.3 356.1,48.3 356.4,48.3 356.6,48.3 356.9,48.3 357.1,16.3 357.4,48.3 357.6,48.3 357.9,48.3 358.1,48.3 358.4,48.3 358.6,48.3 358.9,48.3 359.1,48.3 359.4,48.3 359.6,48.3 359.9,48.3 360.1,48.3 360.4,48.3 360.6,48.3 360.9,48.3 361.1,48.3 361.4,48.3 361.6,48.3 361.9,48.3 362.1,48.3 362.4,48.3 362.6,48.3 362.9,48.3 363.1,48.3 363.4,48.3 363.6,48.3 363.9,48.3 364.1,48.3 364.4,48.3 364.6,48.3 364.9,48.3 365.1,48.3 365.4,48.3 365.6,48.3 365.9,48.3 366.1,48.3 366.4,48.3 366.6,48.3 366.9,48.3 367.1,48.3 367.4,48.3 367.6,48.3 367.9,48.3 368.1,48.3 368.4,48.3 368.6,48.3 368.9,48.3 369.1,48.3 369.4,48.3 369.6,48.3 369.9,48.3 370.1,48.3 370.4,48.3 370.6,48.3 370.9,48.3 371.1,48.3 371.4,48.3 371.6,48.3 371.9,48.3 372.1,48.3 372.4,48.3 372.6,48.3 372.9,48.3 373.1,48.3 373.4,48.3 373.6,48.3 373.9,48.3 374.1,48.3 374.4,48.3 374.6,48.3 374.9,48.3 375.1,48.3 375.4,48.3 375.6,48.3 375.9,48.3 376.1,48.3 376.4,48.3 376.6,48.3 376.9,48.3 377.1,48.3 377.4,48.3 377.6,48.3 377.9,48.3 378.1,48.3 378.4,48.3 378.6,48.3 378.9,48.3 379.1,48.3 379.4,48.3 379.6,48.3 379.9,48.3 380.1,48.3 380.4,48.3 380.6,48.3 380.9,48.3 381.1,48.3 381.4,48.3 381.6,48.3 381.9,43.4 382.1,48.3 382.4,48.3 382.6,48.3 382.9,48.3 383.1,48.3 383.4,48.3 383.6,48.3 383.9,48.3 384.1,48.3 384.4,48.3 384.6,48.3 384.9,48.3 385.1,48.3 385.4,48.3 385.6,48.3 385.9,48.3 386.1,48.3 386.4,48.3 386.6,48.3 386.9,48.3 387.1,48.3 387.4,48.3 387.6,48.3 387.9,48.3 388.1,48.3 388.4,48.3 388.6,48.3 388.9,48.3 389.1,48.3 389.4,48.3 389.6,40.5 389.9,48.3 390.1,48.3 390.4,39.1 390.6,48.3 390.9,48.3 391.1,39.8 391.4,48.3 391.6,48.3 391.9,48.3 392.1,48.3 392.4,48.3 392.6,48.3 392.9,48.3 393.1,48.3 393.4,48.3 393.6,48.3 393.9,48.3 394.1,43.4 394.4,48.3 394.6,48.3 394.9,48.3 395.1,48.3 395.4,48.3 395.6,48.3 395.9,48.3 396.1,48.3 396.4,48.3 396.6,48.3 396.9,48.3 397.1,48.3 397.4,48.3 397.6,48.3 397.9,48.3 398.1,48.3 398.4,48.3 398.6,48.3 398.9,48.3 399.1,48.3 399.4,30.8 399.6,48.3 399.9,48.3 400.1,42.2 400.4,48.3 400.6,48.3 400.9,48.3 401.1,43.0 401.4,48.3 401.6,48.3 401.9,48.3 402.1,48.3 402.4,48.3 402.6,48.3 402.9,48.3 403.1,48.3 403.4,48.3 403.6,48.3 403.9,48.3 404.1,48.3 404.4,48.3 404.6,48.3 404.9,48.3 405.1,48.3 405.4,48.3 405.6,48.3 405.9,48.3 406.1,32.0 406.4,48.3 406.6,48.3 406.9,38.6 407.1,48.3 407.4,48.3 407.6,48.3 407.9,48.3 408.1,38.1 408.4,48.3 408.6,48.3 408.9,48.3 409.1,48.3 409.4,43.0 409.6,48.3 409.9,48.3 410.1,48.3 410.4,48.3 410.6,48.3 410.9,48.3 411.1,48.3 411.4,48.3 411.6,48.3 411.9,48.3 412.1,48.3 412.4,48.3 412.6,48.3 412.9,48.3 413.1,48.3 413.4,48.3 413.6,48.3 413.9,48.3 414.1,48.3 414.4,48.3 414.6,48.3 414.9,48.3 415.1,48.3 415.4,48.3 415.6,48.3 415.9,48.3 416.1,48.3 416.4,48.3 416.6,26.0 416.9,48.3 417.1,48.3 417.4,48.3 417.6,48.3 417.9,43.4 418.1,48.3 418.4,48.3 418.6,48.3 418.9,48.3 419.1,48.3 419.4,48.3 419.6,48.3 419.9,48.3 420.1,48.3 420.4,48.3 420.6,48.3 420.9,48.3 421.1,48.3 421.4,48.3 421.6,48.3 421.9,48.3 422.1,48.3 422.4,48.3 422.6,48.3 422.9,48.3 423.1,48.3 423.4,48.3 423.6,48.3 423.9,48.3 424.1,48.3 424.4,30.8 424.6,48.3 424.9,48.3 425.1,48.3 425.4,33.7 425.6,48.3 425.9,48.3 426.1,48.3 426.4,48.3 426.6,48.3 426.9,48.3 427.1,48.3 427.4,48.3 427.6,48.3 427.9,48.3 428.1,48.3 428.4,48.3 428.6,33.7 428.9,48.3 429.1,48.3 429.4,48.3 429.6,48.3 429.9,14.3 430.1,48.3 430.4,48.3 430.6,48.3 430.9,48.3 431.1,48.3 431.4,48.3 431.6,48.3 431.9,48.3 432.1,48.3 432.4,48.3 432.6,48.3 432.9,48.3 433.1,48.3 433.4,48.3 433.6,48.3 433.9,48.3 434.1,48.3 434.4,48.3 434.6,48.3 434.9,48.3 435.1,48.3 435.4,48.3 435.6,48.3 435.9,48.3 436.1,48.3 436.4,48.3 436.6,48.3 436.9,48.3 437.1,32.0 437.4,48.3 437.6,48.3 437.9,48.3 438.1,48.3 438.4,42.2 438.6,48.3 438.9,48.3 439.1,48.3 439.4,48.3 439.6,48.3 439.9,48.3 440.1,48.3 440.4,48.3 440.6,48.3 440.9,48.3 441.1,48.3 441.4,48.3 441.6,48.3 441.9,48.3 442.1,43.0 442.4,48.3 442.6,48.3 442.9,48.3 443.1,48.3 443.4,48.3 443.6,48.3 443.9,48.3 444.1,48.3 444.4,28.4 444.6,48.3 444.9,48.3 445.1,48.3 445.4,48.3 445.6,48.3 445.9,48.3 446.1,48.3 446.4,48.3 446.6,48.3 446.9,48.3 447.1,48.3 447.4,48.3 447.6,48.3 447.9,48.3 448.1,48.3 448.4,48.3 448.6,48.3 448.9,48.3 449.1,41.7 449.4,48.3 449.6,48.3 449.9,48.3 450.1,48.3 450.4,48.3 450.6,48.3 450.9,48.3 451.1,48.3 451.4,48.3 451.6,48.3 451.9,48.3 452.1,48.3 452.4,48.3 452.6,48.3 452.9,48.3 453.1,48.3 453.4,48.3 453.6,48.3 453.9,48.3 454.1,48.3 454.4,48.3 454.6,48.3 454.9,48.3 455.1,48.3 455.4,48.3 455.6,48.3 455.9,48.3 456.1,48.3 456.4,48.3 456.6,48.3 456.9,48.3 457.1,48.3 457.4,48.3 457.6,48.3 457.9,48.3 458.1,48.3 458.4,48.3 458.6,48.3 458.9,48.3 459.1,48.3 459.4,48.3 459.6,48.3 459.9,48.3 460.1,48.3 460.4,48.3 460.6,48.3 460.9,48.3 461.1,48.3 461.4,48.3 461.6,48.3 461.9,48.3 462.1,48.3 462.4,48.3 462.6,48.3 462.9,48.3 463.1,48.3 463.4,48.3 463.6,48.3 463.9,48.3 464.1,48.3 464.4,48.3 464.6,48.3 464.9,48.3 465.1,48.3 465.4,48.3 465.6,39.8 465.9,48.3 466.1,48.3 466.4,38.6 466.6,48.3 466.9,39.1 467.1,48.3 467.4,48.3 467.6,48.3 467.9,48.3 468.1,48.3 468.4,48.3 468.6,48.3 468.9,48.3 469.1,25.2 469.4,48.3 469.6,48.3 469.8,48.3 470.1,48.3 470.3,48.3 470.6,48.3 470.8,48.3 471.1,48.3 471.3,48.3 471.6,48.3 471.8,48.3 472.1,48.3 472.3,48.3 472.6,48.3 472.8,48.3 473.1,48.3 473.3,48.3 473.6,48.3 473.8,48.3 474.1,48.3 474.3,48.3 474.6,48.3 474.8,48.3 475.1,48.3 475.3,48.3 475.6,48.3 475.8,48.3 476.1,48.3 476.3,48.3 476.6,48.3 476.8,48.3 477.1,48.3 477.3,48.3 477.6,48.3 477.8,48.3 478.1,48.3 478.3,48.3 478.6,48.3 478.8,48.3 479.1,48.3 479.3,35.7 479.6,48.3 479.8,48.3 480.1,48.3 480.3,48.3 480.6,48.3 480.8,26.9 481.1,48.3 481.3,48.3 481.6,48.3 481.8,48.3 482.1,48.3 482.3,48.3 482.6,48.3 482.8,48.3 483.1,48.3 483.3,48.3 483.6,48.3 483.8,48.3 484.1,48.3 484.3,48.3 484.6,48.3 484.8,48.3 485.1,48.3 485.3,48.3 485.6,48.3 485.8,48.3 486.1,48.3 486.3,48.3 486.6,48.3 486.8,48.3 487.1,48.3 487.3,48.3 487.6,48.3 487.8,48.3 488.1,48.3 488.3,48.3 488.6,48.3 488.8,48.3 489.1,48.3 489.3,48.3 489.6,48.3 489.8,48.3 490.1,48.3 490.3,48.3 490.6,48.3 490.8,48.3 491.1,48.3 491.3,48.3 491.6,48.3 491.8,48.3 492.1,48.3 492.3,48.3 492.6,48.3 492.8,41.7 493.1,48.3 493.3,48.3 493.6,48.3 493.8,48.3 494.1,48.3 494.3,48.3 494.6,48.3 494.8,48.3 495.1,44.2 495.3,48.3 495.6,48.3 495.8,48.3 496.1,48.3 496.3,48.3 496.6,48.3 496.8,48.3 497.1,48.3 497.3,48.3 497.6,48.3 497.8,48.3 498.1,48.3 498.3,48.3 498.6,48.3 498.8,48.3 499.1,48.3 499.3,48.3 499.6,48.3 499.8,48.3 500.1,48.3 500.3,48.3 500.6,48.3 500.8,48.3 501.1,48.3 501.3,48.3 501.6,48.3 501.8,43.4 502.1,48.3 502.3,48.3 502.6,48.3 502.8,48.3 503.1,48.3 503.3,48.3 503.6,48.3 503.8,48.3 504.1,48.3 504.3,48.3 504.6,48.3 504.8,48.3 505.1,48.3 505.3,48.3 505.6,48.3 505.8,48.3 506.1,48.3 506.3,48.3 506.6,48.3 506.8,48.3 507.1,48.3 507.3,48.3 507.6,48.3 507.8,48.3 508.1,48.3 508.3,48.3 508.6,48.3 508.8,48.3 509.1,48.3 509.3,48.3 509.6,48.3 509.8,48.3 510.1,48.3 510.3,48.3 510.6,48.3 510.8,48.3 511.1,48.3 511.3,48.3 511.6,48.3 511.8,48.3 512.1,48.3 512.3,48.3 512.6,48.3 512.8,48.3 513.1,48.3 513.3,48.3 513.6,48.3 513.8,48.3 514.1,48.3 514.3,48.3 514.6,48.3 514.8,48.3 515.1,48.3 515.3,48.3 515.6,48.3 515.8,48.3 516.1,48.3 516.3,48.3 516.6,48.3 516.8,48.3 517.1,48.3 517.3,48.3 517.6,48.3 517.8,48.3 518.1,48.3 518.3,48.3 518.6,48.3 518.8,48.3 519.1,48.3 519.3,48.3 519.6,48.3 519.8,48.3 520.1,48.3 520.3,48.3 520.6,48.3 520.8,48.3 521.1,48.3 521.3,48.3 521.6,48.3 521.8,48.3 522.1,48.3 522.3,48.3 522.6,48.3 522.8,48.3 523.1,48.3 523.3,48.3 523.6,48.3 523.8,48.3 524.1,48.3 524.3,48.3 524.6,48.3 524.8,48.3 525.1,48.3 525.3,48.3 525.6,48.3 525.8,48.3 526.1,45.4 526.3,48.3 526.6,48.3 526.8,48.3 527.1,48.3 527.3,48.3 527.6,48.3 527.8,48.3 528.1,48.3 528.3,48.3 528.6,48.3 528.8,48.3 529.1,48.3 529.3,48.3 529.6,48.3 529.8,48.3 530.1,48.3 530.3,48.3 530.6,48.3 530.8,48.3 531.1,48.3 531.3,48.3 531.6,48.3 531.8,48.3 532.1,48.3 532.3,48.3 532.6,48.3 532.8,48.3 533.1,48.3 533.3,48.3 533.6,48.3 533.8,48.3 534.1,48.3 534.3,48.3 534.6,48.3 534.8,48.3 535.1,48.3 535.3,48.3 535.6,48.3 535.8,48.3 536.1,48.3 536.3,48.3 536.6,48.3 536.8,48.3 537.1,48.3 537.3,48.3 537.6,48.3 537.8,48.3 538.1,48.3 538.3,48.3 538.6,48.3 538.8,48.3 539.1,48.3 539.3,48.3 539.6,48.3 539.8,48.3 540.1,48.3 540.3,48.3 540.6,48.3 540.8,48.3 541.1,48.3 541.3,48.3 541.6,48.3 541.8,48.3 542.1,48.3 542.3,48.3 542.6,48.3 542.8,48.3 543.1,48.3 543.3,48.3 543.6,48.3 543.8,48.3 544.1,48.3 544.3,48.3 544.6,48.3 544.8,48.3 545.1,48.3 545.3,48.3 545.6,48.3 545.8,48.3 546.1,48.3 546.3,48.3 546.6,48.3 546.8,48.3 547.1,48.3 547.3,48.3 547.6,48.3 547.8,48.3 548.1,48.3 548.3,48.3 548.6,48.3 548.8,48.3 549.1,48.3 549.3,48.3 549.6,48.3 549.8,48.3 550.1,48.3 550.3,48.3 550.6,48.3 550.8,48.3 551.1,48.3 551.3,48.3 551.6,48.3 551.8,48.3 552.1,48.3 552.3,48.3 552.6,48.3 552.8,48.3 553.1,48.3 553.3,48.3 553.6,48.3 553.8,48.3 554.1,48.3 554.3,48.3 554.6,48.3 554.8,48.3 555.1,48.3 555.3,48.3 555.6,48.3 555.8,48.3 556.1,48.3 556.3,48.3 556.6,48.3 556.8,48.3 557.1,48.3 557.3,48.3 557.6,48.3 557.8,48.3 558.1,48.3 558.3,48.3 558.6,48.3 558.8,48.3 559.1,48.3 559.3,48.3 559.6,48.3 559.8,48.3 560.1,48.3 560.3,48.3 560.6,48.3 560.8,48.3 561.1,48.3 561.3,48.3 561.6,48.3 561.8,48.3 562.1,48.3 562.3,48.3 562.6,48.3 562.8,48.3 563.1,48.3 563.3,48.3 563.6,48.3 563.8,48.3 564.1,48.3 564.3,48.3 564.6,48.3 564.8,48.3 565.1,48.3 565.3,48.3 565.6,48.3 565.8,48.3 566.1,48.3 566.3,48.3 566.6,48.3 566.8,48.3 567.1,48.3 567.3,48.3 567.6,48.3 567.8,48.3 568.1,48.3 568.3,48.3 568.6,48.3 568.8,48.3 569.1,48.3 569.3,48.3 569.6,48.3 569.8,48.3 570.1,48.3 570.3,48.3 570.6,48.3 570.8,48.3 571.1,48.3 571.3,48.3 571.6,48.3 571.8,48.3 572.1,48.3 572.3,48.3 572.6,48.3 572.8,48.3 573.1,48.3 573.3,48.3 573.6,48.3 573.8,48.3 574.1,48.3 574.3,48.3 574.6,48.3 574.8,48.3 575.1,48.3 575.3,48.3 575.6,48.3 575.8,48.3 576.1,48.3 576.3,48.3 576.6,48.3 576.8,48.3 577.1,48.3 577.3,48.3 577.6,48.3 577.8,48.3 578.1,48.3 578.3,48.3 578.6,48.3 578.8,48.3 579.1,48.3 579.3,48.3 579.6,48.3 579.8,48.3 580.1,48.3 580.3,48.3 580.6,48.3 580.8,48.3 581.1,48.3 581.3,48.3 581.6,48.3 581.8,48.3 582.1,48.3 582.3,48.3 582.6,48.3 582.8,48.3 583.1,48.3 583.3,48.3 583.6,48.3 583.8,48.3 584.1,48.3 584.3,48.3 584.6,48.3 584.8,48.3 585.1,48.3 585.3,48.3 585.6,48.3 585.8,48.3 586.1,48.3 586.3,48.3 586.6,48.3 586.8,48.3 587.1,48.3 587.3,48.3 587.6,48.3 587.8,48.3 588.1,48.3 588.3,48.3 588.6,48.3 588.8,48.3 589.1,48.3 589.3,48.3 589.6,48.3 589.8,48.3 590.1,48.3 590.3,48.3 590.6,48.3 590.8,48.3 591.1,48.3 591.3,48.3 591.6,48.3 591.8,48.3 592.1,48.3 592.3,48.3 592.6,48.3 592.8,48.3 593.1,48.3 593.3,48.3 593.6,48.3 593.8,48.3 594.1,48.3 594.3,48.3 594.6,48.3 594.8,48.3 595.1,48.3 595.3,48.3 595.6,48.3 595.8,48.3 596.1,48.3 596.3,48.3 596.6,48.3 596.8,48.3 597.1,48.3 597.3,48.3 597.6,48.3 597.8,48.3 598.1,48.3 598.3,48.3 598.6,48.3 598.8,48.3 599.1,48.3 599.3,48.3 599.6,48.3 599.8,48.3 600.1,48.3 600.3,48.3"/>
<rect x="325.90" y="4.10" width="288.60" height="46.10" fill="none" stroke="#444444" stroke-width="0.60"/>
<line x1="324.30" y1="48.30" x2="325.90" y2="48.30" stroke="#444444" stroke-width="0.60"/>
<text x="321.80" y="50.52" text-anchor="end" class="tk" textLength="8.67" lengthAdjust="spacingAndGlyphs">0.0</text>
<line x1="324.30" y1="27.45" x2="325.90" y2="27.45" stroke="#444444" stroke-width="0.60"/>
<text x="321.80" y="29.67" text-anchor="end" class="tk" textLength="8.67" lengthAdjust="spacingAndGlyphs">0.5</text>
<line x1="324.30" y1="6.60" x2="325.90" y2="6.60" stroke="#444444" stroke-width="0.60"/>
<text x="321.80" y="8.82" text-anchor="end" class="tk" textLength="8.67" lengthAdjust="spacingAndGlyphs">1.0</text>
<line x1="339.40" y1="50.20" x2="339.40" y2="52.60" stroke="#444444" stroke-width="0.60"/>
<text x="339.40" y="58.90" text-anchor="middle" class="tk" textLength="3.47" lengthAdjust="spacingAndGlyphs">0</text>
<line x1="391.58" y1="50.20" x2="391.58" y2="52.60" stroke="#444444" stroke-width="0.60"/>
<text x="391.58" y="58.90" text-anchor="middle" class="tk" textLength="13.86" lengthAdjust="spacingAndGlyphs">5000</text>
<line x1="443.76" y1="50.20" x2="443.76" y2="52.60" stroke="#444444" stroke-width="0.60"/>
<text x="443.76" y="58.90" text-anchor="middle" class="tk" textLength="17.33" lengthAdjust="spacingAndGlyphs">10000</text>
<line x1="495.94" y1="50.20" x2="495.94" y2="52.60" stroke="#444444" stroke-width="0.60"/>
<text x="495.94" y="58.90" text-anchor="middle" class="tk" textLength="17.33" lengthAdjust="spacingAndGlyphs">15000</text>
<line x1="548.12" y1="50.20" x2="548.12" y2="52.60" stroke="#444444" stroke-width="0.60"/>
<text x="548.12" y="58.90" text-anchor="middle" class="tk" textLength="17.33" lengthAdjust="spacingAndGlyphs">20000</text>
<line x1="600.30" y1="50.20" x2="600.30" y2="52.60" stroke="#444444" stroke-width="0.60"/>
<text x="600.30" y="58.90" text-anchor="middle" class="tk" textLength="17.33" lengthAdjust="spacingAndGlyphs">25000</text>
<line x1="507.90" y1="16.10" x2="524.90" y2="16.10" stroke="#1f77b4" stroke-width="0.9"/>
<text x="530.90" y="19.10" class="lg" style="font-size:7.90px"><tspan font-style="italic">N</tspan><tspan font-size="6.00" dy="1.2">0</tspan></text>
<text x="543.03" y="19.10" class="lg" style="font-size:7.90px" textLength="63.61" lengthAdjust="spacingAndGlyphs">Expected signal</text>
<clipPath id="cR2"><rect x="325.90" y="66.40" width="288.60" height="45.50"/></clipPath>
<polygon clip-path="url(#cR2)" fill="#ff0000" stroke="#ff0000" stroke-width="0.5" points="339.4,99.8 339.9,99.4 340.4,97.7 340.9,98.0 341.4,99.0 341.9,97.5 342.4,96.2 342.9,98.0 343.4,99.9 343.9,99.6 344.4,99.4 344.9,99.5 345.4,99.7 345.9,99.8 346.4,99.5 346.9,99.2 347.4,99.7 347.9,98.9 348.4,97.2 348.9,96.5 349.4,98.7 349.9,98.8 350.4,99.8 350.9,96.7 351.4,99.1 351.9,98.4 352.4,96.7 352.9,96.6 353.4,98.4 353.9,97.7 354.4,97.0 354.9,97.0 355.4,99.1 355.9,99.7 356.4,98.9 356.9,98.8 357.4,99.3 357.9,99.0 358.4,100.0 358.9,99.8 359.4,99.5 359.9,97.9 360.4,96.8 360.9,98.2 361.4,97.6 361.9,97.0 362.4,99.8 362.9,99.8 363.4,99.2 363.9,99.6 364.4,99.5 364.9,97.1 365.4,99.0 365.9,99.1 366.4,97.6 366.9,95.8 367.4,97.1 367.9,99.9 368.4,99.0 368.9,98.6 369.4,99.3 369.9,98.3 370.4,96.6 370.9,96.6 371.4,98.1 371.9,98.5 372.4,97.9 372.9,99.8 373.4,99.3 373.9,98.3 374.4,99.3 374.9,99.4 375.4,98.7 375.9,97.7 376.4,97.7 376.9,98.4 377.4,96.4 377.9,94.8 378.4,97.4 378.9,98.5 379.4,98.9 379.9,98.8 380.4,99.0 380.9,99.4 381.4,98.9 381.9,96.5 382.4,96.2 382.9,99.4 383.4,98.9 383.9,99.5 384.4,99.9 384.9,96.8 385.4,99.8 385.9,100.0 386.4,98.8 386.9,95.9 387.4,98.5 387.9,95.7 388.4,93.0 388.9,96.1 389.4,99.0 389.9,99.6 390.4,98.1 390.9,98.6 391.4,99.4 391.9,98.8 392.4,99.7 392.9,98.8 393.4,98.9 393.9,100.0 394.4,99.1 394.9,98.6 395.4,93.7 395.9,94.4 396.4,96.9 396.9,99.0 397.4,98.7 397.9,98.8 398.4,98.8 398.9,99.9 399.4,97.8 399.9,98.0 400.4,97.6 400.9,99.9 401.4,99.6 401.9,99.8 402.4,99.2 402.9,96.0 403.4,93.4 403.9,96.4 404.4,97.5 404.9,97.2 405.4,97.1 405.9,98.3 406.4,98.2 406.9,97.0 407.4,98.4 407.9,98.7 408.4,99.2 408.9,99.0 409.4,97.8 409.9,97.8 410.4,98.8 410.9,98.0 411.4,99.4 411.9,99.7 412.4,99.1 412.9,99.6 413.4,99.7 413.9,99.9 414.4,98.9 414.9,98.0 415.4,99.3 415.9,99.9 416.4,95.9 416.9,98.4 417.4,98.5 417.9,98.0 418.4,98.4 418.9,99.2 419.4,100.0 419.9,99.1 420.4,99.9 420.9,99.2 421.4,94.5 421.9,95.1 422.4,99.4 422.9,99.6 423.4,98.4 423.9,98.1 424.4,98.7 424.9,98.6 425.4,97.4 425.9,98.6 426.4,99.1 426.9,99.8 427.4,99.9 427.9,99.5 428.4,99.2 428.9,99.1 429.4,99.4 429.9,99.7 430.4,99.7 430.9,99.6 431.4,99.5 431.9,99.6 432.4,98.7 432.9,99.9 433.4,99.8 433.9,99.6 434.4,98.1 434.9,95.1 435.4,98.8 435.9,99.5 436.4,98.6 436.9,97.7 437.4,98.9 437.9,99.7 438.4,99.7 438.9,100.0 439.4,98.6 439.9,99.5 440.4,99.0 440.9,99.1 441.4,99.8 441.9,99.6 442.4,99.8 442.9,99.9 443.4,99.5 443.9,99.6 444.4,99.9 444.9,99.9 445.4,99.2 445.9,100.0 446.4,99.3 446.9,99.8 447.4,99.1 447.9,99.1 448.4,98.8 448.9,97.2 449.4,97.6 449.9,94.5 450.4,98.3 450.9,99.8 451.4,99.6 451.9,99.8 452.4,100.0 452.9,99.8 453.4,98.7 453.9,99.6 454.4,99.2 454.9,96.9 455.4,98.6 455.9,99.0 456.4,99.7 456.9,97.0 457.4,94.5 457.9,95.7 458.4,98.4 458.9,99.6 459.4,99.9 459.9,99.6 460.4,99.6 460.9,99.6 461.4,92.3 461.9,91.4 462.4,98.1 462.9,98.8 463.4,97.5 463.9,98.5 464.4,99.9 464.9,99.3 465.4,99.9 465.9,98.9 466.4,98.7 466.9,98.8 467.4,99.5 467.9,99.7 468.4,99.1 468.9,99.5 469.4,100.0 469.8,99.2 470.3,95.0 470.8,97.9 471.3,97.3 471.8,99.9 472.3,99.5 472.8,99.7 473.3,97.0 473.8,97.0 474.3,98.3 474.8,97.1 475.3,98.1 475.8,95.0 476.3,96.8 476.8,97.4 477.3,99.9 477.8,98.8 478.3,96.3 478.8,95.4 479.3,94.5 479.8,98.6 480.3,97.1 480.8,98.9 481.3,98.7 481.8,98.8 482.3,97.2 482.8,99.0 483.3,97.0 483.8,98.9 484.3,98.7 484.8,99.2 485.3,99.9 485.8,99.5 486.3,99.8 486.8,99.5 487.3,99.9 487.8,99.0 488.3,99.0 488.8,98.8 489.3,99.9 489.8,98.7 490.3,98.6 490.8,98.6 491.3,97.9 491.8,97.8 492.3,99.0 492.8,99.5 493.3,99.9 493.8,99.7 494.3,99.1 494.8,98.5 495.3,99.7 495.8,99.5 496.3,99.6 496.8,97.2 497.3,97.1 497.8,99.3 498.3,96.7 498.8,98.1 499.3,99.6 499.8,99.4 500.3,98.9 500.8,98.9 501.3,99.5 501.8,98.0 502.3,97.8 502.8,99.7 503.3,99.5 503.8,98.7 504.3,99.4 504.8,99.9 505.3,99.8 505.8,99.4 506.3,98.5 506.8,98.9 507.3,99.2 507.8,99.4 508.3,99.9 508.8,98.9 509.3,99.5 509.8,99.3 510.3,100.0 510.8,99.8 511.3,97.5 511.8,99.7 512.3,99.8 512.8,99.2 513.3,98.4 513.8,96.5 514.3,96.5 514.8,97.7 515.3,98.5 515.8,98.5 516.3,99.2 516.8,98.3 517.3,99.6 517.8,99.6 518.3,99.3 518.8,99.1 519.3,99.1 519.8,99.6 520.3,99.8 520.8,99.4 521.3,98.0 521.8,97.2 522.3,99.0 522.8,96.1 523.3,95.6 523.8,99.7 524.3,98.9 524.8,94.0 525.3,97.9 525.8,98.6 526.3,99.1 526.8,99.6 527.3,99.0 527.8,96.2 528.3,99.3 528.8,99.0 529.3,99.6 529.8,98.2 530.3,99.2 530.8,99.5 531.3,99.7 531.8,99.9 532.3,99.7 532.8,98.5 533.3,98.6 533.8,99.6 534.3,99.9 534.8,98.4 535.3,98.9 535.8,99.3 536.3,99.2 536.8,99.8 537.3,97.4 537.8,99.0 538.3,99.0 538.8,99.4 539.3,99.4 539.8,99.4 540.3,99.1 540.8,98.5 541.3,99.0 541.8,98.9 542.3,98.5 542.8,99.7 543.3,99.4 543.8,99.6 544.3,99.5 544.8,98.5 545.3,97.9 545.8,98.7 546.3,99.9 546.8,99.4 547.3,99.4 547.8,99.3 548.3,99.4 548.8,99.4 549.3,97.7 549.8,99.3 550.3,98.6 550.8,98.9 551.3,97.6 551.8,95.2 552.3,88.5 552.8,99.7 553.3,98.3 553.8,99.1 554.3,99.8 554.8,94.7 555.3,94.6 555.8,98.9 556.3,98.4 556.8,97.1 557.3,96.9 557.8,99.4 558.3,99.2 558.8,98.7 559.3,96.6 559.8,97.4 560.3,99.6 560.8,98.8 561.3,98.7 561.8,98.1 562.3,99.1 562.8,99.2 563.3,97.0 563.8,98.0 564.3,99.2 564.8,97.3 565.3,99.1 565.8,97.5 566.3,96.4 566.8,98.3 567.3,97.6 567.8,99.1 568.3,98.7 568.8,97.6 569.3,97.3 569.8,98.1 570.3,95.7 570.8,97.6 571.3,96.9 571.8,96.9 572.3,97.9 572.8,98.9 573.3,96.5 573.8,97.2 574.3,99.2 574.8,99.5 575.3,98.4 575.8,98.4 576.3,99.3 576.8,99.2 577.3,98.5 577.8,99.0 578.3,99.5 578.8,99.4 579.3,97.2 579.8,98.2 580.3,98.5 580.8,100.0 581.3,99.8 581.8,99.3 582.3,98.1 582.8,96.3 583.3,99.0 583.8,99.9 584.3,99.8 584.8,98.8 585.3,99.9 585.8,99.9 586.3,99.1 586.8,99.0 587.3,100.0 587.8,99.9 588.3,99.2 588.8,99.2 589.3,99.0 589.8,99.4 590.3,98.4 590.8,99.0 591.3,99.3 591.8,99.8 592.3,99.3 592.8,98.2 593.3,96.8 593.8,98.2 594.3,98.7 594.8,99.8 595.3,98.6 595.8,99.2 596.3,99.5 596.8,99.4 597.3,99.7 597.8,98.8 598.3,99.6 598.8,99.8 599.3,99.2 599.8,98.7 600.3,99.3 600.3,105.2 599.8,105.5 599.3,105.9 598.8,105.0 598.3,107.8 597.8,105.9 597.3,105.1 596.8,105.2 596.3,105.0 595.8,106.3 595.3,106.2 594.8,107.5 594.3,105.5 593.8,105.1 593.3,105.1 592.8,105.4 592.3,105.7 591.8,106.1 591.3,106.3 590.8,107.0 590.3,105.6 589.8,105.2 589.3,106.3 588.8,106.2 588.3,105.1 587.8,106.6 587.3,106.7 586.8,106.9 586.3,105.3 585.8,105.2 585.3,105.7 584.8,105.5 584.3,105.8 583.8,106.2 583.3,105.2 582.8,106.1 582.3,105.4 581.8,105.6 581.3,105.9 580.8,105.2 580.3,106.1 579.8,105.6 579.3,106.2 578.8,105.0 578.3,105.8 577.8,105.4 577.3,105.6 576.8,105.9 576.3,105.2 575.8,105.3 575.3,105.1 574.8,105.2 574.3,105.3 573.8,105.7 573.3,105.1 572.8,106.2 572.3,105.5 571.8,105.2 571.3,105.0 570.8,105.6 570.3,105.3 569.8,106.0 569.3,106.3 568.8,107.2 568.3,105.6 567.8,105.6 567.3,106.3 566.8,106.9 566.3,105.6 565.8,106.1 565.3,105.4 564.8,105.4 564.3,106.0 563.8,106.5 563.3,105.9 562.8,106.8 562.3,106.3 561.8,105.0 561.3,105.7 560.8,108.0 560.3,106.2 559.8,105.4 559.3,106.8 558.8,105.7 558.3,105.9 557.8,107.7 557.3,110.0 556.8,105.3 556.3,105.4 555.8,105.1 555.3,105.9 554.8,105.3 554.3,106.8 553.8,105.1 553.3,105.0 552.8,105.2 552.3,105.2 551.8,105.1 551.3,105.7 550.8,107.1 550.3,105.5 549.8,105.3 549.3,105.2 548.8,105.9 548.3,105.3 547.8,105.7 547.3,105.3 546.8,105.1 546.3,106.7 545.8,108.0 545.3,105.2 544.8,105.2 544.3,105.1 543.8,105.9 543.3,106.2 542.8,106.1 542.3,105.3 541.8,105.9 541.3,107.9 540.8,107.3 540.3,105.4 539.8,107.4 539.3,106.6 538.8,107.3 538.3,106.3 537.8,105.6 537.3,105.4 536.8,105.5 536.3,105.9 535.8,106.9 535.3,105.5 534.8,107.3 534.3,107.0 533.8,106.4 533.3,105.0 532.8,105.0 532.3,105.3 531.8,105.8 531.3,106.7 530.8,105.3 530.3,105.4 529.8,105.3 529.3,106.0 528.8,105.3 528.3,105.8 527.8,105.4 527.3,105.8 526.8,106.9 526.3,106.8 525.8,105.3 525.3,105.1 524.8,105.6 524.3,106.3 523.8,106.1 523.3,105.6 522.8,105.1 522.3,105.3 521.8,105.5 521.3,105.5 520.8,105.7 520.3,106.7 519.8,105.9 519.3,106.3 518.8,105.5 518.3,105.4 517.8,105.4 517.3,105.0 516.8,108.1 516.3,105.2 515.8,105.8 515.3,105.0 514.8,105.0 514.3,105.0 513.8,105.3 513.3,105.9 512.8,105.7 512.3,105.0 511.8,105.8 511.3,105.2 510.8,105.5 510.3,106.4 509.8,105.8 509.3,105.6 508.8,106.5 508.3,106.5 507.8,106.1 507.3,106.5 506.8,105.0 506.3,105.4 505.8,105.9 505.3,105.2 504.8,105.3 504.3,105.5 503.8,105.5 503.3,108.8 502.8,106.0 502.3,105.2 501.8,105.3 501.3,105.4 500.8,105.9 500.3,105.1 499.8,105.9 499.3,105.9 498.8,105.6 498.3,105.3 497.8,106.2 497.3,107.0 496.8,105.4 496.3,105.5 495.8,105.5 495.3,105.8 494.8,105.4 494.3,106.9 493.8,105.6 493.3,106.1 492.8,105.1 492.3,105.5 491.8,106.1 491.3,105.3 490.8,105.1 490.3,105.7 489.8,105.1 489.3,105.2 488.8,106.1 488.3,105.9 487.8,106.0 487.3,105.1 486.8,105.9 486.3,106.9 485.8,107.2 485.3,105.1 484.8,105.7 484.3,105.6 483.8,105.1 483.3,105.2 482.8,105.5 482.3,105.1 481.8,105.3 481.3,106.3 480.8,106.4 480.3,105.8 479.8,105.8 479.3,105.6 478.8,106.4 478.3,105.7 477.8,105.4 477.3,105.7 476.8,106.1 476.3,107.0 475.8,106.1 475.3,105.4 474.8,106.1 474.3,105.1 473.8,106.8 473.3,105.2 472.8,105.4 472.3,105.0 471.8,106.3 471.3,106.0 470.8,105.8 470.3,107.0 469.8,106.9 469.4,106.1 468.9,106.8 468.4,106.1 467.9,107.0 467.4,107.3 466.9,106.4 466.4,106.5 465.9,106.3 465.4,105.5 464.9,105.3 464.4,105.7 463.9,105.3 463.4,105.9 462.9,105.6 462.4,105.4 461.9,105.5 461.4,105.6 460.9,105.6 460.4,105.1 459.9,106.2 459.4,106.2 458.9,105.2 458.4,105.9 457.9,105.6 457.4,105.8 456.9,105.1 456.4,105.8 455.9,105.1 455.4,105.8 454.9,108.3 454.4,105.8 453.9,105.3 453.4,105.3 452.9,106.2 452.4,106.0 451.9,105.4 451.4,105.4 450.9,105.4 450.4,105.4 449.9,105.2 449.4,105.7 448.9,105.5 448.4,105.3 447.9,105.4 447.4,105.8 446.9,105.7 446.4,105.9 445.9,105.1 445.4,105.5 444.9,105.9 444.4,106.7 443.9,106.1 443.4,105.4 442.9,106.8 442.4,105.2 441.9,105.8 441.4,105.7 440.9,105.5 440.4,105.8 439.9,105.5 439.4,105.5 438.9,105.1 438.4,106.2 437.9,105.2 437.4,105.6 436.9,107.1 436.4,106.7 435.9,105.5 435.4,105.8 434.9,105.2 434.4,105.2 433.9,105.7 433.4,106.3 432.9,105.4 432.4,105.4 431.9,106.1 431.4,105.4 430.9,105.5 430.4,105.4 429.9,106.3 429.4,105.7 428.9,107.5 428.4,106.0 427.9,105.9 427.4,105.1 426.9,106.0 426.4,105.6 425.9,105.4 425.4,105.5 424.9,106.5 424.4,107.3 423.9,105.4 423.4,106.0 422.9,105.1 422.4,105.0 421.9,105.3 421.4,105.5 420.9,106.6 420.4,106.5 419.9,105.7 419.4,105.8 418.9,106.1 418.4,105.5 417.9,106.0 417.4,105.4 416.9,105.1 416.4,105.7 415.9,105.1 415.4,105.7 414.9,105.6 414.4,105.3 413.9,105.7 413.4,105.4 412.9,105.8 412.4,105.3 411.9,105.9 411.4,105.4 410.9,106.1 410.4,106.7 409.9,105.7 409.4,106.6 408.9,105.1 408.4,106.1 407.9,105.1 407.4,105.1 406.9,105.5 406.4,105.1 405.9,106.2 405.4,105.9 404.9,105.9 404.4,105.8 403.9,105.7 403.4,105.3 402.9,105.0 402.4,105.5 401.9,105.3 401.4,105.2 400.9,105.5 400.4,105.4 399.9,106.5 399.4,105.2 398.9,105.9 398.4,105.8 397.9,105.4 397.4,107.2 396.9,105.6 396.4,105.3 395.9,105.9 395.4,105.7 394.9,105.6 394.4,105.5 393.9,105.7 393.4,105.3 392.9,105.2 392.4,106.1 391.9,106.7 391.4,105.5 390.9,105.5 390.4,106.4 389.9,109.4 389.4,105.8 388.9,105.4 388.4,106.0 387.9,106.4 387.4,107.6 386.9,106.6 386.4,105.9 385.9,105.8 385.4,106.8 384.9,105.3 384.4,105.6 383.9,105.4 383.4,106.6 382.9,107.7 382.4,105.8 381.9,105.5 381.4,105.4 380.9,106.0 380.4,106.0 379.9,105.9 379.4,105.5 378.9,105.3 378.4,105.6 377.9,105.4 377.4,105.0 376.9,106.1 376.4,106.7 375.9,105.8 375.4,105.6 374.9,107.1 374.4,105.7 373.9,106.4 373.4,105.0 372.9,106.0 372.4,105.6 371.9,106.2 371.4,105.1 370.9,105.1 370.4,105.9 369.9,108.6 369.4,105.4 368.9,105.8 368.4,105.3 367.9,106.0 367.4,105.3 366.9,105.8 366.4,106.8 365.9,107.7 365.4,105.1 364.9,105.6 364.4,105.7 363.9,107.0 363.4,106.5 362.9,106.1 362.4,105.7 361.9,105.5 361.4,105.7 360.9,106.1 360.4,105.1 359.9,105.7 359.4,108.2 358.9,105.5 358.4,105.4 357.9,105.5 357.4,105.5 356.9,105.4 356.4,109.9 355.9,106.2 355.4,105.5 354.9,105.1 354.4,106.1 353.9,106.0 353.4,106.0 352.9,105.7 352.4,105.8 351.9,105.2 351.4,105.5 350.9,106.0 350.4,105.7 349.9,105.7 349.4,106.8 348.9,105.6 348.4,106.3 347.9,105.1 347.4,105.0 346.9,105.2 346.4,105.2 345.9,105.8 345.4,107.6 344.9,105.7 344.4,105.1 343.9,105.7 343.4,105.2 342.9,105.6 342.4,105.3 341.9,105.6 341.4,105.5 340.9,106.4 340.4,105.8 339.9,105.4 339.4,105.8"/>
<polyline clip-path="url(#cR2)" fill="none" stroke="#ff0000" stroke-width="0.80" stroke-linejoin="round" points="339.4,102.3 339.6,102.3 339.9,102.3 340.1,102.3 340.4,102.3 340.6,102.3 340.9,102.3 341.1,102.3 341.4,102.3 341.6,102.3 341.9,102.3 342.1,102.3 342.4,102.3 342.6,102.3 342.9,102.3 343.1,102.3 343.4,102.3 343.6,100.1 343.9,97.5 344.1,93.6 344.4,97.5 344.6,100.1 344.9,100.0 345.1,97.2 345.4,93.1 345.6,97.2 345.9,100.0 346.1,100.1 346.4,97.5 346.6,93.6 346.9,97.5 347.1,100.1 347.4,102.3 347.6,102.3 347.9,99.5 348.1,96.2 348.4,91.1 348.6,96.2 348.9,99.5 349.1,102.3 349.4,102.3 349.6,102.3 349.9,96.2 350.1,88.8 350.4,77.8 350.6,88.8 350.9,93.5 351.1,86.3 351.4,93.5 351.6,94.2 351.9,87.5 352.1,94.2 352.4,93.5 352.6,86.3 352.9,93.5 353.1,98.3 353.4,102.3 353.6,102.3 353.9,102.3 354.1,94.1 354.4,84.2 354.6,69.3 354.9,84.2 355.1,94.1 355.4,102.3 355.6,102.3 355.9,102.3 356.1,102.3 356.4,102.3 356.6,95.5 356.9,87.2 357.1,74.9 357.4,87.2 357.6,95.5 357.9,102.3 358.1,102.3 358.4,102.3 358.6,102.3 358.9,102.3 359.1,102.3 359.4,102.3 359.6,102.3 359.9,102.3 360.1,102.3 360.4,102.3 360.6,102.3 360.9,102.3 361.1,102.3 361.4,102.3 361.6,102.3 361.9,102.3 362.1,102.3 362.4,100.5 362.6,98.2 362.9,94.8 363.1,98.2 363.4,100.5 363.6,102.3 363.9,102.3 364.1,102.3 364.4,102.3 364.6,102.3 364.9,102.3 365.1,102.3 365.4,102.3 365.6,102.3 365.9,102.3 366.1,102.3 366.4,102.3 366.6,102.3 366.9,102.3 367.1,102.3 367.4,102.3 367.6,102.3 367.9,98.8 368.1,94.6 368.4,88.2 368.6,94.6 368.9,98.8 369.1,98.9 369.4,94.8 369.6,88.7 369.9,94.8 370.1,98.9 370.4,102.3 370.6,102.3 370.9,102.3 371.1,102.3 371.4,102.3 371.6,102.3 371.9,102.3 372.1,102.3 372.4,102.3 372.6,102.3 372.9,102.3 373.1,102.3 373.4,102.3 373.6,102.3 373.9,102.3 374.1,102.3 374.4,102.3 374.6,102.3 374.9,102.3 375.1,102.3 375.4,102.3 375.6,102.3 375.9,102.3 376.1,102.3 376.4,102.3 376.6,102.3 376.9,102.3 377.1,102.3 377.4,102.3 377.6,102.3 377.9,102.3 378.1,102.3 378.4,102.3 378.6,102.3 378.9,102.3 379.1,102.3 379.4,102.3 379.6,102.3 379.9,102.3 380.1,102.3 380.4,102.3 380.6,102.3 380.9,102.3 381.1,102.3 381.4,102.3 381.6,102.3 381.9,98.3 382.1,93.5 382.4,86.3 382.6,93.5 382.9,98.3 383.1,102.3 383.4,102.3 383.6,102.3 383.9,102.3 384.1,102.3 384.4,102.3 384.6,102.3 384.9,102.3 385.1,102.3 385.4,102.3 385.6,102.3 385.9,102.3 386.1,102.3 386.4,102.3 386.6,102.3 386.9,102.3 387.1,102.3 387.4,99.5 387.6,96.2 387.9,91.1 388.1,96.2 388.4,99.5 388.6,102.3 388.9,102.3 389.1,102.3 389.4,102.3 389.6,102.3 389.9,102.3 390.1,102.3 390.4,102.3 390.6,102.3 390.9,102.3 391.1,93.5 391.4,96.8 391.6,92.3 391.9,96.8 392.1,99.8 392.4,102.3 392.6,102.3 392.9,102.3 393.1,102.3 393.4,102.3 393.6,102.3 393.9,102.3 394.1,102.3 394.4,102.3 394.6,98.6 394.9,94.2 395.1,87.5 395.4,94.2 395.6,98.6 395.9,102.3 396.1,102.3 396.4,98.4 396.6,102.3 396.9,102.3 397.1,102.3 397.4,102.3 397.6,102.3 397.9,102.3 398.1,102.3 398.4,98.2 398.6,102.3 398.9,102.3 399.1,97.7 399.4,92.2 399.6,83.8 399.9,92.2 400.1,97.7 400.4,102.3 400.6,102.3 400.9,102.3 401.1,102.3 401.4,102.3 401.6,102.3 401.9,102.3 402.1,102.3 402.4,102.3 402.6,102.3 402.9,95.2 403.1,102.3 403.4,102.3 403.6,98.9 403.9,94.8 404.1,88.7 404.4,94.8 404.6,98.9 404.9,102.3 405.1,102.3 405.4,102.3 405.6,102.3 405.9,102.3 406.1,98.8 406.4,94.6 406.6,88.2 406.9,94.6 407.1,98.8 407.4,102.3 407.6,102.3 407.9,102.3 408.1,99.5 408.4,96.2 408.6,91.1 408.9,96.2 409.1,99.5 409.4,102.3 409.6,102.3 409.9,102.3 410.1,102.3 410.4,100.1 410.6,97.5 410.9,93.6 411.1,97.5 411.4,100.1 411.6,102.3 411.9,102.3 412.1,102.3 412.4,102.3 412.6,102.3 412.9,102.3 413.1,102.3 413.4,102.3 413.6,102.3 413.9,102.3 414.1,102.3 414.4,102.3 414.6,102.3 414.9,102.3 415.1,95.3 415.4,102.3 415.6,102.3 415.9,102.3 416.1,102.3 416.4,102.3 416.6,97.4 416.9,91.5 417.1,82.6 417.4,91.5 417.6,97.4 417.9,102.3 418.1,102.3 418.4,102.3 418.6,102.3 418.9,102.3 419.1,102.3 419.4,102.3 419.6,102.3 419.9,102.3 420.1,102.3 420.4,102.3 420.6,102.3 420.9,102.3 421.1,96.9 421.4,102.3 421.6,102.3 421.9,102.3 422.1,102.3 422.4,102.3 422.6,102.3 422.9,102.3 423.1,102.3 423.4,102.3 423.6,102.3 423.9,98.6 424.1,94.2 424.4,87.5 424.6,94.2 424.9,98.6 425.1,99.2 425.4,95.5 425.6,89.9 425.9,95.5 426.1,99.2 426.4,102.3 426.6,102.3 426.9,102.3 427.1,102.3 427.4,102.3 427.6,102.3 427.9,102.3 428.1,102.3 428.4,102.3 428.6,102.3 428.9,102.3 429.1,102.3 429.4,95.0 429.6,86.2 429.9,72.9 430.1,86.2 430.4,95.0 430.6,102.3 430.9,102.3 431.1,102.3 431.4,102.3 431.6,102.3 431.9,98.4 432.1,102.3 432.4,102.3 432.6,102.3 432.9,102.3 433.1,102.3 433.4,102.3 433.6,102.3 433.9,102.3 434.1,102.3 434.4,102.3 434.6,102.3 434.9,102.3 435.1,102.3 435.4,102.3 435.6,102.3 435.9,102.3 436.1,102.3 436.4,102.3 436.6,102.3 436.9,102.3 437.1,98.6 437.4,94.2 437.6,87.5 437.9,94.2 438.1,98.6 438.4,102.3 438.6,102.3 438.9,102.3 439.1,102.3 439.4,102.3 439.6,102.3 439.9,102.3 440.1,102.3 440.4,102.3 440.6,102.3 440.9,102.3 441.1,102.3 441.4,102.3 441.6,102.3 441.9,102.3 442.1,102.3 442.4,102.3 442.6,102.3 442.9,102.3 443.1,102.3 443.4,102.3 443.6,102.3 443.9,97.9 444.1,92.6 444.4,84.6 444.6,92.6 444.9,97.9 445.1,102.3 445.4,102.3 445.6,102.3 445.9,102.3 446.1,102.3 446.4,102.3 446.6,102.3 446.9,102.3 447.1,102.3 447.4,102.3 447.6,102.3 447.9,102.3 448.1,102.3 448.4,95.6 448.6,102.3 448.9,93.8 449.1,102.3 449.4,102.3 449.6,102.3 449.9,102.3 450.1,102.3 450.4,102.3 450.6,100.1 450.9,97.5 451.1,93.6 451.4,97.5 451.6,100.1 451.9,102.3 452.1,102.3 452.4,102.3 452.6,102.3 452.9,102.3 453.1,102.3 453.4,102.3 453.6,102.3 453.9,94.7 454.1,98.6 454.4,94.2 454.6,87.5 454.9,94.2 455.1,98.6 455.4,102.3 455.6,102.3 455.9,102.3 456.1,102.3 456.4,102.3 456.6,102.3 456.9,102.3 457.1,102.3 457.4,102.3 457.6,102.3 457.9,102.3 458.1,102.3 458.4,102.3 458.6,102.3 458.9,102.3 459.1,102.3 459.4,102.3 459.6,102.3 459.9,102.3 460.1,102.3 460.4,102.3 460.6,102.3 460.9,102.3 461.1,102.3 461.4,99.2 461.6,95.5 461.9,89.9 462.1,95.5 462.4,99.2 462.6,102.3 462.9,102.3 463.1,102.3 463.4,102.3 463.6,102.3 463.9,97.4 464.1,102.3 464.4,102.3 464.6,97.5 464.9,102.3 465.1,102.3 465.4,102.3 465.6,102.3 465.9,102.3 466.1,102.3 466.4,102.3 466.6,102.3 466.9,102.3 467.1,102.3 467.4,102.3 467.6,102.3 467.9,102.3 468.1,102.3 468.4,102.3 468.6,97.2 468.9,91.1 469.1,81.9 469.4,91.1 469.6,97.2 469.8,102.3 470.1,102.3 470.3,102.3 470.6,102.3 470.8,102.3 471.1,102.3 471.3,102.3 471.6,102.3 471.8,102.3 472.1,102.3 472.3,99.5 472.6,96.2 472.8,91.1 473.1,96.2 473.3,99.5 473.6,99.4 473.8,95.9 474.1,90.6 474.3,95.9 474.6,99.4 474.8,102.3 475.1,102.3 475.3,102.3 475.6,102.3 475.8,102.3 476.1,102.3 476.3,102.3 476.6,102.3 476.8,102.3 477.1,98.9 477.3,94.8 477.6,88.7 477.8,94.8 478.1,98.9 478.3,98.6 478.6,94.2 478.8,87.5 479.1,94.2 479.3,98.6 479.6,98.8 479.8,94.6 480.1,88.2 480.3,94.6 480.6,92.2 480.8,83.8 481.1,92.2 481.3,97.7 481.6,102.3 481.8,102.3 482.1,102.3 482.3,102.3 482.6,102.3 482.8,102.3 483.1,102.3 483.3,102.3 483.6,102.3 483.8,102.3 484.1,102.3 484.3,102.3 484.6,102.3 484.8,102.3 485.1,102.3 485.3,102.3 485.6,100.1 485.8,97.5 486.1,93.6 486.3,97.5 486.6,100.1 486.8,102.3 487.1,102.3 487.3,102.3 487.6,102.3 487.8,102.3 488.1,102.3 488.3,102.3 488.6,102.3 488.8,102.3 489.1,102.3 489.3,102.3 489.6,102.3 489.8,102.3 490.1,102.3 490.3,102.3 490.6,102.3 490.8,102.3 491.1,102.3 491.3,102.3 491.6,102.3 491.8,100.1 492.1,97.5 492.3,93.6 492.6,97.5 492.8,100.1 493.1,102.3 493.3,102.3 493.6,102.3 493.8,102.3 494.1,102.3 494.3,97.1 494.6,102.3 494.8,102.3 495.1,102.3 495.3,102.3 495.6,102.3 495.8,95.2 496.1,102.3 496.3,102.3 496.6,102.3 496.8,102.3 497.1,102.3 497.3,102.3 497.6,102.3 497.8,102.3 498.1,102.3 498.3,102.3 498.6,102.3 498.8,102.3 499.1,102.3 499.3,102.3 499.6,102.3 499.8,102.3 500.1,102.3 500.3,98.6 500.6,94.2 500.8,87.5 501.1,94.2 501.3,98.6 501.6,102.3 501.8,102.3 502.1,102.3 502.3,102.3 502.6,102.3 502.8,102.3 503.1,102.3 503.3,102.3 503.6,102.3 503.8,102.3 504.1,102.3 504.3,102.3 504.6,102.3 504.8,102.3 505.1,102.3 505.3,102.3 505.6,102.3 505.8,102.3 506.1,102.3 506.3,102.3 506.6,102.3 506.8,102.3 507.1,102.3 507.3,102.3 507.6,102.3 507.8,97.3 508.1,102.3 508.3,102.3 508.6,102.3 508.8,102.3 509.1,102.3 509.3,102.3 509.6,102.3 509.8,102.3 510.1,102.3 510.3,102.3 510.6,102.3 510.8,102.3 511.1,102.3 511.3,102.3 511.6,102.3 511.8,102.3 512.1,102.3 512.3,98.8 512.6,94.6 512.8,88.2 513.1,94.6 513.3,98.8 513.6,98.9 513.8,94.8 514.1,88.7 514.3,94.8 514.6,98.9 514.8,102.3 515.1,102.3 515.3,102.3 515.6,102.3 515.8,95.6 516.1,102.3 516.3,102.3 516.6,102.3 516.8,102.3 517.1,97.3 517.3,102.3 517.6,102.3 517.8,102.3 518.1,102.3 518.3,102.3 518.6,102.3 518.8,102.3 519.1,102.3 519.3,102.3 519.6,102.3 519.8,102.3 520.1,102.3 520.3,102.3 520.6,102.3 520.8,102.3 521.1,102.3 521.3,102.3 521.6,102.3 521.8,102.3 522.1,99.8 522.3,96.8 522.6,92.3 522.8,96.8 523.1,99.8 523.3,102.3 523.6,102.3 523.8,102.3 524.1,102.3 524.3,102.3 524.6,102.3 524.8,102.3 525.1,102.3 525.3,102.3 525.6,102.3 525.8,102.3 526.1,102.3 526.3,102.3 526.6,94.2 526.8,102.3 527.1,102.3 527.3,102.3 527.6,102.3 527.8,102.3 528.1,102.3 528.3,102.3 528.6,98.5 528.8,93.8 529.1,86.8 529.3,93.8 529.6,98.5 529.8,102.3 530.1,102.3 530.3,102.3 530.6,102.3 530.8,102.3 531.1,102.3 531.3,93.5 531.6,102.3 531.8,102.3 532.1,95.7 532.3,102.3 532.6,102.3 532.8,102.3 533.1,99.7 533.3,96.4 533.6,91.6 533.8,96.4 534.1,99.7 534.3,97.4 534.6,102.3 534.8,102.3 535.1,102.3 535.3,102.3 535.6,102.3 535.8,102.3 536.1,102.3 536.3,102.3 536.6,102.3 536.8,102.3 537.1,102.3 537.3,102.3 537.6,102.3 537.8,102.3 538.1,102.3 538.3,102.3 538.6,102.3 538.8,102.3 539.1,102.3 539.3,102.3 539.6,102.3 539.8,102.3 540.1,93.8 540.3,99.7 540.6,96.4 540.8,91.6 541.1,96.4 541.3,99.7 541.6,102.3 541.8,102.3 542.1,102.3 542.3,102.3 542.6,102.3 542.8,102.3 543.1,102.3 543.3,102.3 543.6,102.3 543.8,102.3 544.1,102.3 544.3,102.3 544.6,102.3 544.8,102.3 545.1,102.3 545.3,102.3 545.6,98.8 545.8,94.6 546.1,88.2 546.3,94.6 546.6,98.8 546.8,102.3 547.1,102.3 547.3,102.3 547.6,102.3 547.8,102.3 548.1,102.3 548.3,102.3 548.6,102.3 548.8,102.3 549.1,102.3 549.3,102.3 549.6,102.3 549.8,102.3 550.1,102.3 550.3,102.3 550.6,102.3 550.8,102.3 551.1,102.3 551.3,102.3 551.6,102.3 551.8,102.3 552.1,102.3 552.3,94.6 552.6,102.3 552.8,102.3 553.1,102.3 553.3,102.3 553.6,102.3 553.8,102.3 554.1,102.3 554.3,102.3 554.6,102.3 554.8,102.3 555.1,102.3 555.3,102.3 555.6,102.3 555.8,102.3 556.1,95.0 556.3,102.3 556.6,102.3 556.8,102.3 557.1,102.3 557.3,102.3 557.6,102.3 557.8,102.3 558.1,102.3 558.3,102.3 558.6,102.3 558.8,102.3 559.1,102.3 559.3,102.3 559.6,102.3 559.8,100.1 560.1,97.5 560.3,93.6 560.6,97.5 560.8,100.1 561.1,102.3 561.3,93.8 561.6,102.3 561.8,102.3 562.1,102.3 562.3,102.3 562.6,102.3 562.8,102.3 563.1,102.3 563.3,102.3 563.6,102.3 563.8,102.3 564.1,102.3 564.3,102.3 564.6,102.3 564.8,102.3 565.1,102.3 565.3,102.3 565.6,102.3 565.8,102.3 566.1,102.3 566.3,102.3 566.6,102.3 566.8,102.3 567.1,100.1 567.3,97.5 567.6,93.6 567.8,97.5 568.1,100.1 568.3,102.3 568.6,102.3 568.8,102.3 569.1,102.3 569.3,102.3 569.6,102.3 569.8,102.3 570.1,102.3 570.3,102.3 570.6,102.3 570.8,102.3 571.1,102.3 571.3,94.4 571.6,102.3 571.8,99.5 572.1,96.2 572.3,91.1 572.6,96.2 572.8,99.5 573.1,102.3 573.3,102.3 573.6,102.3 573.8,102.3 574.1,102.3 574.3,102.3 574.6,102.3 574.8,102.3 575.1,102.3 575.3,102.3 575.6,99.4 575.8,95.9 576.1,90.6 576.3,95.9 576.6,99.4 576.8,102.3 577.1,102.3 577.3,102.3 577.6,102.3 577.8,102.3 578.1,102.3 578.3,102.3 578.6,102.3 578.8,102.3 579.1,102.3 579.3,102.3 579.6,102.3 579.8,102.3 580.1,102.3 580.3,102.3 580.6,102.3 580.8,102.3 581.1,102.3 581.3,102.3 581.6,99.8 581.8,96.8 582.1,92.3 582.3,96.8 582.6,99.8 582.8,96.6 583.1,102.3 583.3,102.3 583.6,102.3 583.8,102.3 584.1,96.1 584.3,102.3 584.6,102.3 584.8,102.3 585.1,102.3 585.3,102.3 585.6,102.3 585.8,102.3 586.1,102.3 586.3,102.3 586.6,102.3 586.8,102.3 587.1,102.3 587.3,102.3 587.6,102.3 587.8,102.3 588.1,102.3 588.3,102.3 588.6,102.3 588.8,102.3 589.1,102.3 589.3,102.3 589.6,102.3 589.8,102.3 590.1,102.3 590.3,102.3 590.6,102.3 590.8,99.5 591.1,96.2 591.3,91.1 591.6,96.2 591.8,99.5 592.1,102.3 592.3,102.3 592.6,102.3 592.8,102.3 593.1,102.3 593.3,102.3 593.6,102.3 593.8,102.3 594.1,102.3 594.3,102.3 594.6,102.3 594.8,102.3 595.1,102.3 595.3,102.3 595.6,102.3 595.8,102.3 596.1,102.3 596.3,102.3 596.6,102.3 596.8,102.3 597.1,102.3 597.3,102.3 597.6,102.3 597.8,102.3 598.1,102.3 598.3,102.3 598.6,99.5 598.8,96.2 599.1,91.1 599.3,96.2 599.6,99.5 599.8,102.3 600.1,102.3 600.3,102.3"/>
<rect x="325.90" y="66.40" width="288.60" height="45.50" fill="none" stroke="#444444" stroke-width="0.60"/>
<line x1="324.30" y1="104.50" x2="325.90" y2="104.50" stroke="#444444" stroke-width="0.60"/>
<text x="321.80" y="106.72" text-anchor="end" class="tk" textLength="8.67" lengthAdjust="spacingAndGlyphs">0.0</text>
<line x1="324.30" y1="87.95" x2="325.90" y2="87.95" stroke="#444444" stroke-width="0.60"/>
<text x="321.80" y="90.17" text-anchor="end" class="tk" textLength="8.67" lengthAdjust="spacingAndGlyphs">0.5</text>
<line x1="324.30" y1="71.40" x2="325.90" y2="71.40" stroke="#444444" stroke-width="0.60"/>
<text x="321.80" y="73.62" text-anchor="end" class="tk" textLength="8.67" lengthAdjust="spacingAndGlyphs">1.0</text>
<line x1="339.40" y1="111.90" x2="339.40" y2="114.30" stroke="#444444" stroke-width="0.60"/>
<text x="339.40" y="120.60" text-anchor="middle" class="tk" textLength="3.47" lengthAdjust="spacingAndGlyphs">0</text>
<line x1="391.58" y1="111.90" x2="391.58" y2="114.30" stroke="#444444" stroke-width="0.60"/>
<text x="391.58" y="120.60" text-anchor="middle" class="tk" textLength="13.86" lengthAdjust="spacingAndGlyphs">5000</text>
<line x1="443.76" y1="111.90" x2="443.76" y2="114.30" stroke="#444444" stroke-width="0.60"/>
<text x="443.76" y="120.60" text-anchor="middle" class="tk" textLength="17.33" lengthAdjust="spacingAndGlyphs">10000</text>
<line x1="495.94" y1="111.90" x2="495.94" y2="114.30" stroke="#444444" stroke-width="0.60"/>
<text x="495.94" y="120.60" text-anchor="middle" class="tk" textLength="17.33" lengthAdjust="spacingAndGlyphs">15000</text>
<line x1="548.12" y1="111.90" x2="548.12" y2="114.30" stroke="#444444" stroke-width="0.60"/>
<text x="548.12" y="120.60" text-anchor="middle" class="tk" textLength="17.33" lengthAdjust="spacingAndGlyphs">20000</text>
<line x1="600.30" y1="111.90" x2="600.30" y2="114.30" stroke="#444444" stroke-width="0.60"/>
<text x="600.30" y="120.60" text-anchor="middle" class="tk" textLength="17.33" lengthAdjust="spacingAndGlyphs">25000</text>
<line x1="472.40" y1="76.10" x2="487.90" y2="76.10" stroke="#ff0000" stroke-width="0.9"/>
<text x="493.30" y="78.75" class="lg" style="font-size:7.20px"><tspan font-style="italic">N</tspan><tspan font-size="5.47" dy="1.2">0</tspan></text>
<text x="506.06" y="78.75" class="lg" style="font-size:7.20px" textLength="100.47" lengthAdjust="spacingAndGlyphs">Observed signal (SNR = -1)</text>
<clipPath id="cR3"><rect x="325.90" y="127.80" width="288.60" height="46.40"/></clipPath>
<polyline clip-path="url(#cR3)" fill="none" stroke="#800080" stroke-width="0.95" stroke-linejoin="round" points="339.4,170.4 339.6,170.5 339.9,170.5 340.1,170.5 340.4,170.4 340.6,167.8 340.9,170.4 341.1,170.7 341.4,170.5 341.6,170.4 341.9,170.3 342.1,170.7 342.4,170.5 342.6,170.4 342.9,170.7 343.1,170.3 343.4,170.3 343.6,170.7 343.9,170.7 344.1,170.6 344.4,170.6 344.6,170.4 344.9,170.3 345.1,170.5 345.4,170.4 345.6,170.8 345.9,170.1 346.1,170.8 346.4,155.2 346.6,170.7 346.9,170.2 347.1,170.7 347.4,170.3 347.6,170.7 347.9,170.6 348.1,170.4 348.4,170.6 348.6,170.4 348.9,170.4 349.1,164.9 349.4,170.4 349.6,170.2 349.9,170.4 350.1,170.5 350.4,148.4 350.6,170.4 350.9,170.8 351.1,157.6 351.4,170.3 351.6,156.4 351.9,170.4 352.1,158.8 352.4,170.4 352.6,157.2 352.9,170.8 353.1,170.4 353.4,162.5 353.6,170.8 353.9,170.5 354.1,170.5 354.4,170.7 354.6,136.5 354.9,170.5 355.1,170.0 355.4,170.5 355.6,170.5 355.9,170.6 356.1,170.5 356.4,170.6 356.6,169.9 356.9,170.2 357.1,170.5 357.4,143.6 357.6,170.3 357.9,170.2 358.1,170.6 358.4,164.9 358.6,170.6 358.9,170.6 359.1,170.4 359.4,170.3 359.6,170.4 359.9,170.5 360.1,170.3 360.4,170.3 360.6,170.5 360.9,170.9 361.1,170.6 361.4,170.3 361.6,171.0 361.9,170.3 362.1,170.1 362.4,170.4 362.6,170.2 362.9,170.3 363.1,170.4 363.4,170.4 363.6,170.5 363.9,170.5 364.1,170.6 364.4,170.6 364.6,170.4 364.9,170.6 365.1,170.1 365.4,170.5 365.6,170.7 365.9,170.4 366.1,170.2 366.4,170.7 366.6,170.5 366.9,170.6 367.1,166.1 367.4,170.6 367.6,170.5 367.9,170.5 368.1,170.6 368.4,170.4 368.6,170.2 368.9,170.7 369.1,170.7 369.4,170.5 369.6,170.5 369.9,170.5 370.1,170.7 370.4,170.8 370.6,170.4 370.9,170.7 371.1,170.5 371.4,170.6 371.6,170.5 371.9,170.4 372.1,170.4 372.4,170.4 372.6,170.5 372.9,170.5 373.1,170.3 373.4,170.5 373.6,170.4 373.9,170.5 374.1,170.5 374.4,170.6 374.6,170.4 374.9,170.1 375.1,166.1 375.4,170.6 375.6,170.2 375.9,170.7 376.1,170.5 376.4,170.8 376.6,170.3 376.9,170.6 377.1,170.3 377.4,170.6 377.6,170.4 377.9,170.6 378.1,170.9 378.4,170.4 378.6,170.4 378.9,170.5 379.1,170.6 379.4,170.5 379.6,170.7 379.9,170.6 380.1,170.6 380.4,170.5 380.6,170.3 380.9,170.3 381.1,170.7 381.4,170.7 381.6,170.4 381.9,170.4 382.1,170.4 382.4,169.3 382.6,170.6 382.9,170.5 383.1,170.7 383.4,170.9 383.6,168.8 383.9,170.6 384.1,170.7 384.4,170.4 384.6,170.6 384.9,170.5 385.1,170.3 385.4,170.8 385.6,170.3 385.9,170.4 386.1,170.5 386.4,170.3 386.6,166.1 386.9,170.8 387.1,170.5 387.4,170.6 387.6,170.6 387.9,170.5 388.1,170.6 388.4,170.3 388.6,170.4 388.9,170.6 389.1,170.5 389.4,170.5 389.6,164.9 389.9,170.3 390.1,170.5 390.4,170.5 390.6,162.0 390.9,170.5 391.1,170.7 391.4,170.7 391.6,159.6 391.9,162.5 392.1,170.7 392.4,170.6 392.6,170.5 392.9,170.7 393.1,170.5 393.4,170.7 393.6,170.1 393.9,170.3 394.1,170.3 394.4,170.5 394.6,170.3 394.9,170.7 395.1,170.5 395.4,170.8 395.6,170.4 395.9,170.5 396.1,170.8 396.4,170.6 396.6,170.2 396.9,170.9 397.1,170.8 397.4,170.7 397.6,170.6 397.9,170.8 398.1,170.4 398.4,170.7 398.6,170.4 398.9,170.7 399.1,170.8 399.4,157.6 399.6,170.4 399.9,170.5 400.1,170.4 400.4,170.5 400.6,162.0 400.9,170.9 401.1,170.5 401.4,170.3 401.6,170.5 401.9,170.2 402.1,170.5 402.4,170.4 402.6,170.7 402.9,170.4 403.1,170.3 403.4,170.4 403.6,170.8 403.9,170.4 404.1,170.6 404.4,170.6 404.6,170.5 404.9,170.3 405.1,170.4 405.4,169.9 405.6,170.4 405.9,170.6 406.1,170.5 406.4,170.4 406.6,153.3 406.9,170.6 407.1,170.4 407.4,170.5 407.6,170.5 407.9,170.5 408.1,170.4 408.4,165.4 408.6,170.1 408.9,170.8 409.1,170.3 409.4,170.7 409.6,170.6 409.9,170.5 410.1,170.8 410.4,170.4 410.6,170.8 410.9,170.5 411.1,170.3 411.4,170.4 411.6,170.4 411.9,170.8 412.1,170.4 412.4,171.0 412.6,170.7 412.9,170.3 413.1,170.6 413.4,170.3 413.6,170.5 413.9,170.8 414.1,170.7 414.4,170.6 414.6,170.7 414.9,170.7 415.1,170.8 415.4,162.5 415.6,170.3 415.9,170.5 416.1,170.3 416.4,170.2 416.6,170.5 416.9,152.1 417.1,170.5 417.4,170.3 417.6,170.4 417.9,170.4 418.1,170.4 418.4,170.3 418.6,170.4 418.9,170.4 419.1,170.3 419.4,166.1 419.6,170.5 419.9,170.1 420.1,170.6 420.4,170.5 420.6,170.7 420.9,170.5 421.1,170.4 421.4,170.6 421.6,170.5 421.9,170.6 422.1,170.7 422.4,170.5 422.6,170.4 422.9,170.1 423.1,170.2 423.4,170.6 423.6,170.5 423.9,170.6 424.1,170.7 424.4,170.6 424.6,159.1 424.9,170.3 425.1,170.3 425.4,164.9 425.6,170.3 425.9,170.5 426.1,170.4 426.4,170.4 426.6,170.7 426.9,170.3 427.1,170.6 427.4,170.3 427.6,170.6 427.9,170.8 428.1,170.3 428.4,170.6 428.6,160.5 428.9,170.1 429.1,170.3 429.4,170.5 429.6,170.4 429.9,170.6 430.1,140.6 430.4,170.4 430.6,170.3 430.9,170.7 431.1,160.1 431.4,170.4 431.6,170.6 431.9,170.5 432.1,170.4 432.4,170.6 432.6,170.7 432.9,170.4 433.1,170.7 433.4,171.0 433.6,170.5 433.9,170.4 434.1,170.7 434.4,170.3 434.6,170.5 434.9,170.4 435.1,170.5 435.4,170.3 435.6,170.5 435.9,170.5 436.1,170.6 436.4,170.8 436.6,170.7 436.9,170.4 437.1,158.6 437.4,170.3 437.6,170.4 437.9,170.5 438.1,170.5 438.4,170.4 438.6,170.9 438.9,170.4 439.1,170.8 439.4,170.4 439.6,161.8 439.9,170.4 440.1,170.1 440.4,170.3 440.6,170.3 440.9,170.1 441.1,170.6 441.4,170.5 441.6,170.5 441.9,170.4 442.1,170.6 442.4,170.9 442.6,170.4 442.9,170.4 443.1,170.3 443.4,170.4 443.6,170.5 443.9,170.5 444.1,170.7 444.4,154.7 444.6,170.8 444.9,170.8 445.1,170.2 445.4,170.6 445.6,170.6 445.9,170.2 446.1,170.2 446.4,170.7 446.6,170.4 446.9,170.5 447.1,170.4 447.4,170.4 447.6,170.5 447.9,170.2 448.1,170.4 448.4,170.5 448.6,167.3 448.9,170.6 449.1,170.6 449.4,170.6 449.6,170.4 449.9,170.6 450.1,170.5 450.4,170.9 450.6,170.1 450.9,170.7 451.1,163.2 451.4,170.4 451.6,170.4 451.9,170.8 452.1,170.4 452.4,170.8 452.6,170.7 452.9,170.6 453.1,170.4 453.4,170.5 453.6,170.7 453.9,170.1 454.1,170.3 454.4,170.7 454.6,170.5 454.9,170.3 455.1,170.4 455.4,170.5 455.6,170.7 455.9,170.4 456.1,170.3 456.4,170.7 456.6,170.5 456.9,170.7 457.1,170.3 457.4,170.6 457.6,170.2 457.9,170.4 458.1,170.5 458.4,170.4 458.6,170.3 458.9,162.5 459.1,170.3 459.4,170.7 459.6,170.3 459.9,170.5 460.1,170.8 460.4,171.0 460.6,170.5 460.9,170.4 461.1,170.4 461.4,170.5 461.6,170.8 461.9,170.5 462.1,170.9 462.4,170.6 462.6,170.2 462.9,170.4 463.1,170.4 463.4,170.5 463.6,170.7 463.9,170.6 464.1,170.3 464.4,170.7 464.6,170.3 464.9,170.6 465.1,170.2 465.4,170.7 465.6,165.4 465.9,170.1 466.1,171.0 466.4,164.9 466.6,170.6 466.9,170.4 467.1,170.5 467.4,170.6 467.6,170.5 467.9,170.4 468.1,170.8 468.4,170.6 468.6,170.4 468.9,170.4 469.1,170.8 469.4,153.8 469.6,170.2 469.8,170.4 470.1,170.7 470.3,170.3 470.6,170.4 470.8,170.4 471.1,170.5 471.3,170.5 471.6,170.5 471.8,170.5 472.1,170.1 472.3,168.6 472.6,170.2 472.8,168.6 473.1,170.5 473.3,170.7 473.6,170.7 473.8,170.8 474.1,170.5 474.3,170.6 474.6,170.7 474.8,170.4 475.1,170.0 475.3,170.4 475.6,170.8 475.8,170.8 476.1,170.4 476.3,170.6 476.6,170.4 476.8,170.7 477.1,170.4 477.3,170.4 477.6,170.5 477.8,170.4 478.1,170.8 478.3,170.3 478.6,170.6 478.8,170.5 479.1,170.5 479.3,161.3 479.6,170.6 479.8,170.4 480.1,170.6 480.3,170.6 480.6,170.5 480.8,151.1 481.1,170.6 481.3,170.6 481.6,170.1 481.8,170.4 482.1,170.5 482.3,170.4 482.6,170.5 482.8,170.5 483.1,170.0 483.3,170.0 483.6,170.5 483.8,170.5 484.1,170.7 484.3,170.5 484.6,170.1 484.8,170.6 485.1,170.3 485.3,170.2 485.6,170.2 485.8,170.6 486.1,170.3 486.3,170.5 486.6,170.6 486.8,170.8 487.1,170.5 487.3,170.6 487.6,170.6 487.8,170.1 488.1,170.7 488.3,170.3 488.6,170.1 488.8,170.6 489.1,170.2 489.3,170.8 489.6,170.7 489.8,164.9 490.1,170.4 490.3,170.4 490.6,170.6 490.8,170.6 491.1,170.2 491.3,170.5 491.6,170.8 491.8,170.2 492.1,170.1 492.3,170.5 492.6,170.7 492.8,167.8 493.1,170.5 493.3,170.3 493.6,170.6 493.8,170.6 494.1,170.6 494.3,170.3 494.6,167.8 494.8,170.5 495.1,170.3 495.3,171.0 495.6,170.3 495.8,170.7 496.1,170.6 496.3,170.6 496.6,170.6 496.8,170.8 497.1,167.3 497.3,170.3 497.6,170.6 497.8,170.5 498.1,170.7 498.3,170.4 498.6,170.4 498.8,170.8 499.1,170.3 499.3,170.5 499.6,170.6 499.8,170.3 500.1,170.7 500.3,166.1 500.6,170.6 500.8,170.5 501.1,170.6 501.3,170.6 501.6,170.4 501.8,170.5 502.1,170.7 502.3,170.5 502.6,170.5 502.8,170.8 503.1,170.6 503.3,170.6 503.6,170.0 503.8,170.4 504.1,170.3 504.3,170.4 504.6,170.6 504.8,170.5 505.1,170.3 505.3,170.6 505.6,170.3 505.8,170.7 506.1,170.7 506.3,170.4 506.6,170.4 506.8,170.4 507.1,170.2 507.3,170.5 507.6,170.3 507.8,170.5 508.1,170.8 508.3,170.6 508.6,163.0 508.8,170.5 509.1,170.4 509.3,170.3 509.6,170.5 509.8,170.5 510.1,170.4 510.3,170.5 510.6,170.6 510.8,170.4 511.1,170.9 511.3,170.6 511.6,167.8 511.8,170.2 512.1,170.6 512.3,170.4 512.6,170.5 512.8,170.5 513.1,170.7 513.3,170.4 513.6,170.2 513.8,170.7 514.1,170.7 514.3,170.3 514.6,170.3 514.8,170.8 515.1,170.6 515.3,170.6 515.6,170.4 515.8,170.3 516.1,170.7 516.3,170.5 516.6,170.2 516.8,170.6 517.1,170.6 517.3,170.2 517.6,170.8 517.8,170.3 518.1,170.4 518.3,170.6 518.6,170.7 518.8,170.4 519.1,170.7 519.3,170.3 519.6,170.6 519.8,170.2 520.1,170.7 520.3,170.6 520.6,170.4 520.8,170.5 521.1,170.3 521.3,170.3 521.6,170.5 521.8,161.8 522.1,170.4 522.3,170.1 522.6,164.4 522.8,170.4 523.1,170.8 523.3,170.5 523.6,170.5 523.8,170.5 524.1,170.4 524.3,170.3 524.6,170.4 524.8,170.4 525.1,170.7 525.3,170.0 525.6,170.7 525.8,170.5 526.1,170.6 526.3,170.4 526.6,170.5 526.8,170.5 527.1,170.3 527.3,170.1 527.6,170.7 527.8,170.2 528.1,170.3 528.3,170.7 528.6,170.4 528.8,170.7 529.1,170.5 529.3,170.5 529.6,170.5 529.8,170.5 530.1,170.5 530.3,170.6 530.6,164.9 530.8,170.5 531.1,170.1 531.3,170.5 531.6,170.4 531.8,162.0 532.1,170.3 532.3,170.5 532.6,170.5 532.8,170.3 533.1,162.5 533.3,170.8 533.6,170.5 533.8,170.7 534.1,170.7 534.3,170.5 534.6,170.4 534.8,170.3 535.1,170.5 535.3,170.6 535.6,170.3 535.8,170.3 536.1,170.6 536.3,164.4 536.6,170.8 536.8,170.4 537.1,170.3 537.3,170.4 537.6,170.7 537.8,170.7 538.1,170.5 538.3,170.6 538.6,170.2 538.8,170.8 539.1,170.6 539.3,170.7 539.6,170.3 539.8,170.3 540.1,170.9 540.3,170.6 540.6,170.7 540.8,170.2 541.1,170.3 541.3,162.0 541.6,170.5 541.8,170.8 542.1,170.5 542.3,170.3 542.6,170.8 542.8,170.5 543.1,170.6 543.3,170.6 543.6,170.4 543.8,170.7 544.1,170.5 544.3,170.5 544.6,170.5 544.8,170.2 545.1,170.4 545.3,170.5 545.6,169.3 545.8,170.3 546.1,170.8 546.3,170.7 546.6,170.7 546.8,170.3 547.1,170.6 547.3,170.8 547.6,170.5 547.8,170.6 548.1,170.4 548.3,170.3 548.6,170.4 548.8,170.9 549.1,170.8 549.3,170.2 549.6,170.3 549.8,170.5 550.1,170.5 550.3,170.3 550.6,170.6 550.8,164.4 551.1,170.9 551.3,170.4 551.6,170.7 551.8,170.6 552.1,170.7 552.3,170.6 552.6,170.7 552.8,170.6 553.1,170.2 553.3,170.3 553.6,170.8 553.8,170.8 554.1,170.3 554.3,170.4 554.6,170.8 554.8,170.6 555.1,170.9 555.3,167.3 555.6,170.6 555.8,170.3 556.1,170.4 556.3,170.5 556.6,170.7 556.8,166.9 557.1,170.8 557.3,170.2 557.6,170.7 557.8,170.3 558.1,170.6 558.3,166.9 558.6,170.3 558.8,170.7 559.1,170.4 559.3,170.5 559.6,170.7 559.8,170.6 560.1,170.4 560.3,170.4 560.6,159.3 560.8,170.4 561.1,170.3 561.3,170.5 561.6,170.7 561.8,170.3 562.1,170.6 562.3,170.7 562.6,170.4 562.8,170.7 563.1,170.3 563.3,170.4 563.6,170.3 563.8,170.9 564.1,170.7 564.3,170.2 564.6,159.6 564.8,170.4 565.1,170.6 565.3,170.8 565.6,170.1 565.8,158.8 566.1,170.7 566.3,170.7 566.6,170.8 566.8,170.5 567.1,170.5 567.3,170.4 567.6,170.4 567.8,170.5 568.1,170.6 568.3,170.7 568.6,170.6 568.8,170.4 569.1,170.5 569.3,170.7 569.6,170.3 569.8,170.8 570.1,170.2 570.3,170.7 570.6,170.7 570.8,170.3 571.1,169.3 571.3,170.3 571.6,170.7 571.8,170.9 572.1,170.5 572.3,170.5 572.6,170.3 572.8,170.6 573.1,170.8 573.3,170.7 573.6,170.5 573.8,170.5 574.1,170.6 574.3,170.4 574.6,170.6 574.8,170.3 575.1,170.4 575.3,170.4 575.6,170.5 575.8,170.5 576.1,170.5 576.3,170.4 576.6,170.2 576.8,170.4 577.1,170.8 577.3,170.8 577.6,170.5 577.8,170.4 578.1,170.3 578.3,170.7 578.6,170.7 578.8,170.5 579.1,170.3 579.3,170.4 579.6,170.5 579.8,170.4 580.1,170.5 580.3,170.4 580.6,170.2 580.8,164.9 581.1,170.4 581.3,170.2 581.6,170.3 581.8,170.4 582.1,170.4 582.3,170.5 582.6,170.4 582.8,170.4 583.1,170.5 583.3,170.8 583.6,170.3 583.8,170.6 584.1,170.6 584.3,170.5 584.6,170.6 584.8,170.9 585.1,170.7 585.3,170.3 585.6,170.6 585.8,170.6 586.1,170.6 586.3,170.7 586.6,170.2 586.8,165.6 587.1,170.5 587.3,170.5 587.6,170.5 587.8,170.4 588.1,170.4 588.3,170.3 588.6,170.6 588.8,170.9 589.1,170.5 589.3,166.9 589.6,170.5 589.8,170.5 590.1,170.4 590.3,170.4 590.6,170.9 590.8,170.9 591.1,170.5 591.3,170.7 591.6,170.5 591.8,166.1 592.1,170.5 592.3,170.6 592.6,170.4 592.8,170.4 593.1,170.5 593.3,170.4 593.6,170.5 593.8,170.6 594.1,165.6 594.3,170.8 594.6,170.1 594.8,170.4 595.1,170.6 595.3,170.4 595.6,170.5 595.8,170.9 596.1,170.6 596.3,170.6 596.6,170.7 596.8,170.5 597.1,170.4 597.3,170.1 597.6,170.7 597.8,170.3 598.1,170.5 598.3,170.3 598.6,162.5 598.8,170.3 599.1,170.6 599.3,170.5 599.6,170.4 599.8,161.3 600.1,170.1 600.3,170.7"/>
<rect x="325.90" y="127.80" width="288.60" height="46.40" fill="none" stroke="#444444" stroke-width="0.60"/>
<line x1="324.30" y1="170.50" x2="325.90" y2="170.50" stroke="#444444" stroke-width="0.60"/>
<text x="321.80" y="172.72" text-anchor="end" class="tk" textLength="8.67" lengthAdjust="spacingAndGlyphs">0.0</text>
<line x1="324.30" y1="151.30" x2="325.90" y2="151.30" stroke="#444444" stroke-width="0.60"/>
<text x="321.80" y="153.52" text-anchor="end" class="tk" textLength="8.67" lengthAdjust="spacingAndGlyphs">0.5</text>
<line x1="324.30" y1="132.10" x2="325.90" y2="132.10" stroke="#444444" stroke-width="0.60"/>
<text x="321.80" y="134.32" text-anchor="end" class="tk" textLength="8.67" lengthAdjust="spacingAndGlyphs">1.0</text>
<line x1="339.40" y1="174.20" x2="339.40" y2="176.60" stroke="#444444" stroke-width="0.60"/>
<text x="339.40" y="182.90" text-anchor="middle" class="tk" textLength="3.47" lengthAdjust="spacingAndGlyphs">0</text>
<line x1="391.58" y1="174.20" x2="391.58" y2="176.60" stroke="#444444" stroke-width="0.60"/>
<text x="391.58" y="182.90" text-anchor="middle" class="tk" textLength="13.86" lengthAdjust="spacingAndGlyphs">5000</text>
<line x1="443.76" y1="174.20" x2="443.76" y2="176.60" stroke="#444444" stroke-width="0.60"/>
<text x="443.76" y="182.90" text-anchor="middle" class="tk" textLength="17.33" lengthAdjust="spacingAndGlyphs">10000</text>
<line x1="495.94" y1="174.20" x2="495.94" y2="176.60" stroke="#444444" stroke-width="0.60"/>
<text x="495.94" y="182.90" text-anchor="middle" class="tk" textLength="17.33" lengthAdjust="spacingAndGlyphs">15000</text>
<line x1="548.12" y1="174.20" x2="548.12" y2="176.60" stroke="#444444" stroke-width="0.60"/>
<text x="548.12" y="182.90" text-anchor="middle" class="tk" textLength="17.33" lengthAdjust="spacingAndGlyphs">20000</text>
<line x1="600.30" y1="174.20" x2="600.30" y2="176.60" stroke="#444444" stroke-width="0.60"/>
<text x="600.30" y="182.90" text-anchor="middle" class="tk" textLength="17.33" lengthAdjust="spacingAndGlyphs">25000</text>
<line x1="485.50" y1="138.40" x2="502.00" y2="138.40" stroke="#800080" stroke-width="0.9"/>
<text x="507.93" y="141.90" class="lg" style="font-size:7.90px" textLength="99.11" lengthAdjust="spacingAndGlyphs">EDnCNN denoised signal</text>
<clipPath id="cR4"><rect x="325.90" y="189.60" width="288.60" height="46.40"/></clipPath>
<polygon clip-path="url(#cR4)" fill="#0000ff" stroke="#0000ff" stroke-width="0.5" points="339.4,225.4 339.9,225.5 340.4,224.9 340.9,225.6 341.4,226.1 341.9,224.5 342.4,225.4 342.9,226.0 343.4,226.1 343.9,224.4 344.4,226.0 344.9,225.6 345.4,224.8 345.9,225.0 346.4,225.4 346.9,225.9 347.4,225.5 347.9,225.3 348.4,225.7 348.9,225.3 349.4,225.8 349.9,226.1 350.4,226.0 350.9,225.3 351.4,226.1 351.9,226.2 352.4,225.0 352.9,225.2 353.4,225.7 353.9,226.2 354.4,225.8 354.9,224.4 355.4,224.1 355.9,225.2 356.4,225.0 356.9,225.3 357.4,225.8 357.9,226.1 358.4,225.7 358.9,225.5 359.4,226.1 359.9,224.5 360.4,225.2 360.9,225.5 361.4,225.5 361.9,225.1 362.4,225.6 362.9,225.7 363.4,226.0 363.9,226.0 364.4,225.1 364.9,225.8 365.4,226.0 365.9,225.3 366.4,225.7 366.9,224.4 367.4,225.3 367.9,224.9 368.4,226.1 368.9,224.9 369.4,225.8 369.9,226.2 370.4,224.7 370.9,225.1 371.4,226.0 371.9,225.1 372.4,225.5 372.9,225.2 373.4,225.7 373.9,225.4 374.4,225.8 374.9,224.7 375.4,226.0 375.9,225.1 376.4,225.7 376.9,224.9 377.4,226.1 377.9,225.5 378.4,225.5 378.9,224.7 379.4,225.1 379.9,225.8 380.4,224.5 380.9,225.7 381.4,225.4 381.9,225.1 382.4,225.5 382.9,224.9 383.4,224.8 383.9,225.9 384.4,225.8 384.9,225.6 385.4,225.6 385.9,226.0 386.4,226.1 386.9,225.5 387.4,225.6 387.9,225.5 388.4,225.6 388.9,226.0 389.4,225.3 389.9,225.6 390.4,225.2 390.9,225.5 391.4,225.9 391.9,225.1 392.4,225.3 392.9,225.8 393.4,224.6 393.9,225.2 394.4,225.4 394.9,226.1 395.4,225.6 395.9,224.6 396.4,225.4 396.9,225.2 397.4,225.4 397.9,225.7 398.4,225.6 398.9,225.0 399.4,226.0 399.9,226.1 400.4,225.1 400.9,225.9 401.4,225.8 401.9,226.0 402.4,225.5 402.9,225.7 403.4,225.9 403.9,225.2 404.4,225.5 404.9,224.7 405.4,225.7 405.9,225.3 406.4,225.6 406.9,226.1 407.4,225.8 407.9,226.1 408.4,225.5 408.9,226.0 409.4,225.4 409.9,225.7 410.4,225.8 410.9,225.5 411.4,226.0 411.9,225.5 412.4,225.7 412.9,225.3 413.4,224.8 413.9,225.9 414.4,226.2 414.9,224.8 415.4,226.1 415.9,225.0 416.4,225.7 416.9,224.1 417.4,225.3 417.9,225.8 418.4,225.4 418.9,224.4 419.4,225.5 419.9,225.1 420.4,225.5 420.9,225.3 421.4,225.5 421.9,225.4 422.4,224.4 422.9,225.2 423.4,225.7 423.9,226.0 424.4,225.6 424.9,225.4 425.4,225.2 425.9,226.0 426.4,225.6 426.9,225.2 427.4,226.0 427.9,224.7 428.4,225.8 428.9,225.6 429.4,225.6 429.9,226.0 430.4,225.3 430.9,225.6 431.4,225.7 431.9,225.1 432.4,224.7 432.9,224.6 433.4,225.1 433.9,225.3 434.4,226.1 434.9,225.2 435.4,226.0 435.9,226.1 436.4,225.4 436.9,224.7 437.4,225.9 437.9,225.5 438.4,225.5 438.9,224.7 439.4,225.6 439.9,226.1 440.4,226.1 440.9,226.0 441.4,224.7 441.9,226.2 442.4,226.1 442.9,225.3 443.4,225.1 443.9,226.1 444.4,225.6 444.9,225.4 445.4,225.1 445.9,225.1 446.4,225.9 446.9,225.0 447.4,224.9 447.9,225.3 448.4,226.0 448.9,225.8 449.4,225.2 449.9,226.1 450.4,226.1 450.9,225.1 451.4,225.2 451.9,225.2 452.4,226.1 452.9,225.2 453.4,225.5 453.9,225.7 454.4,225.9 454.9,225.8 455.4,225.8 455.9,225.6 456.4,225.9 456.9,225.4 457.4,225.8 457.9,225.3 458.4,225.2 458.9,225.5 459.4,225.7 459.9,225.5 460.4,226.0 460.9,225.7 461.4,226.1 461.9,226.0 462.4,225.0 462.9,226.2 463.4,226.1 463.9,224.9 464.4,225.4 464.9,225.7 465.4,226.0 465.9,225.8 466.4,224.7 466.9,225.8 467.4,225.0 467.9,226.1 468.4,225.8 468.9,225.9 469.4,223.8 469.8,225.9 470.3,225.7 470.8,224.8 471.3,225.7 471.8,224.8 472.3,226.1 472.8,225.2 473.3,225.1 473.8,226.1 474.3,225.1 474.8,226.1 475.3,225.6 475.8,225.9 476.3,225.7 476.8,226.1 477.3,225.8 477.8,224.9 478.3,226.0 478.8,225.1 479.3,225.7 479.8,225.9 480.3,225.4 480.8,225.1 481.3,226.1 481.8,225.0 482.3,225.7 482.8,225.8 483.3,226.1 483.8,225.7 484.3,225.3 484.8,223.9 485.3,224.9 485.8,226.1 486.3,225.4 486.8,226.0 487.3,224.6 487.8,224.7 488.3,225.1 488.8,225.0 489.3,225.8 489.8,225.6 490.3,225.5 490.8,225.1 491.3,226.0 491.8,225.7 492.3,225.0 492.8,225.2 493.3,225.9 493.8,225.8 494.3,225.8 494.8,225.1 495.3,225.9 495.8,225.7 496.3,225.4 496.8,225.9 497.3,225.9 497.8,224.6 498.3,225.7 498.8,225.7 499.3,225.4 499.8,224.3 500.3,224.8 500.8,224.9 501.3,225.3 501.8,226.0 502.3,224.9 502.8,225.5 503.3,226.0 503.8,226.1 504.3,224.9 504.8,225.4 505.3,225.4 505.8,226.1 506.3,225.8 506.8,225.9 507.3,225.3 507.8,226.0 508.3,225.7 508.8,225.1 509.3,225.8 509.8,226.0 510.3,225.2 510.8,224.9 511.3,226.1 511.8,225.6 512.3,225.9 512.8,225.0 513.3,224.9 513.8,225.6 514.3,225.6 514.8,226.0 515.3,225.9 515.8,226.0 516.3,224.6 516.8,225.2 517.3,224.7 517.8,226.1 518.3,225.6 518.8,224.9 519.3,225.7 519.8,224.9 520.3,225.3 520.8,226.0 521.3,225.0 521.8,226.1 522.3,225.9 522.8,225.7 523.3,224.4 523.8,225.5 524.3,225.8 524.8,226.2 525.3,225.9 525.8,225.2 526.3,225.8 526.8,225.6 527.3,226.0 527.8,224.8 528.3,225.8 528.8,225.6 529.3,225.1 529.8,225.4 530.3,225.7 530.8,225.7 531.3,224.6 531.8,225.5 532.3,224.8 532.8,225.3 533.3,224.9 533.8,224.8 534.3,225.5 534.8,225.5 535.3,225.8 535.8,226.1 536.3,226.0 536.8,225.1 537.3,226.1 537.8,225.1 538.3,225.7 538.8,226.0 539.3,225.8 539.8,225.5 540.3,225.1 540.8,225.3 541.3,226.0 541.8,225.7 542.3,225.5 542.8,225.2 543.3,225.2 543.8,224.9 544.3,225.3 544.8,225.1 545.3,224.6 545.8,224.7 546.3,226.1 546.8,225.8 547.3,225.2 547.8,225.8 548.3,225.9 548.8,225.8 549.3,225.6 549.8,225.6 550.3,223.3 550.8,225.5 551.3,225.6 551.8,223.9 552.3,223.9 552.8,225.0 553.3,224.5 553.8,225.0 554.3,226.1 554.8,225.6 555.3,225.8 555.8,225.7 556.3,225.4 556.8,225.1 557.3,225.6 557.8,225.4 558.3,225.3 558.8,226.0 559.3,225.9 559.8,225.1 560.3,225.5 560.8,226.1 561.3,225.8 561.8,225.9 562.3,225.8 562.8,226.0 563.3,226.0 563.8,225.9 564.3,226.0 564.8,225.1 565.3,224.9 565.8,225.9 566.3,225.9 566.8,225.2 567.3,224.6 567.8,225.9 568.3,226.1 568.8,224.9 569.3,226.0 569.8,225.8 570.3,224.6 570.8,225.2 571.3,225.5 571.8,224.6 572.3,226.1 572.8,225.1 573.3,224.4 573.8,225.5 574.3,225.0 574.8,225.4 575.3,225.9 575.8,225.9 576.3,225.6 576.8,226.1 577.3,224.9 577.8,226.1 578.3,225.2 578.8,225.8 579.3,225.3 579.8,226.0 580.3,225.5 580.8,225.0 581.3,225.5 581.8,225.2 582.3,225.1 582.8,225.5 583.3,225.4 583.8,226.0 584.3,225.4 584.8,225.6 585.3,223.9 585.8,225.2 586.3,225.4 586.8,225.7 587.3,223.5 587.8,225.4 588.3,225.1 588.8,225.2 589.3,226.1 589.8,224.6 590.3,224.8 590.8,226.0 591.3,226.0 591.8,225.7 592.3,225.3 592.8,225.2 593.3,225.7 593.8,225.5 594.3,224.8 594.8,225.4 595.3,225.5 595.8,224.3 596.3,225.5 596.8,225.5 597.3,225.6 597.8,225.4 598.3,224.2 598.8,225.7 599.3,225.8 599.8,225.7 600.3,225.9 600.3,230.8 599.8,230.1 599.3,230.7 598.8,229.9 598.3,230.1 597.8,230.4 597.3,231.1 596.8,231.4 596.3,230.1 595.8,231.2 595.3,230.7 594.8,229.7 594.3,229.9 593.8,230.0 593.3,230.8 592.8,230.1 592.3,229.7 591.8,229.7 591.3,229.8 590.8,232.0 590.3,230.1 589.8,230.7 589.3,230.4 588.8,231.4 588.3,230.2 587.8,231.2 587.3,230.1 586.8,230.3 586.3,230.6 585.8,230.0 585.3,231.4 584.8,229.9 584.3,229.8 583.8,229.8 583.3,229.6 582.8,230.9 582.3,230.3 581.8,229.9 581.3,229.8 580.8,230.4 580.3,230.0 579.8,231.8 579.3,230.5 578.8,229.8 578.3,231.0 577.8,229.8 577.3,229.8 576.8,230.1 576.3,229.7 575.8,230.4 575.3,230.8 574.8,230.4 574.3,230.3 573.8,230.0 573.3,230.5 572.8,229.9 572.3,231.2 571.8,230.3 571.3,229.8 570.8,230.3 570.3,231.1 569.8,230.0 569.3,229.9 568.8,231.0 568.3,229.8 567.8,231.1 567.3,230.1 566.8,230.1 566.3,230.3 565.8,230.3 565.3,229.7 564.8,229.7 564.3,229.6 563.8,230.1 563.3,231.2 562.8,229.8 562.3,229.7 561.8,229.8 561.3,229.8 560.8,229.7 560.3,230.9 559.8,230.0 559.3,230.0 558.8,230.2 558.3,230.5 557.8,229.9 557.3,229.9 556.8,230.7 556.3,229.7 555.8,230.3 555.3,230.1 554.8,229.9 554.3,230.0 553.8,230.1 553.3,229.8 552.8,230.5 552.3,230.0 551.8,230.4 551.3,230.6 550.8,230.1 550.3,230.2 549.8,230.2 549.3,230.1 548.8,230.2 548.3,230.2 547.8,230.5 547.3,230.0 546.8,230.0 546.3,230.5 545.8,230.1 545.3,230.3 544.8,229.7 544.3,230.0 543.8,230.0 543.3,229.8 542.8,230.2 542.3,230.4 541.8,230.2 541.3,231.2 540.8,230.0 540.3,230.2 539.8,229.7 539.3,229.6 538.8,230.4 538.3,230.1 537.8,229.6 537.3,230.0 536.8,229.9 536.3,230.3 535.8,229.7 535.3,230.0 534.8,230.2 534.3,230.9 533.8,229.9 533.3,230.9 532.8,230.0 532.3,229.9 531.8,230.6 531.3,229.8 530.8,229.7 530.3,230.6 529.8,230.2 529.3,229.6 528.8,229.7 528.3,229.7 527.8,229.9 527.3,229.9 526.8,229.8 526.3,229.8 525.8,229.9 525.3,230.3 524.8,230.9 524.3,230.2 523.8,231.7 523.3,230.3 522.8,229.7 522.3,230.0 521.8,231.0 521.3,229.7 520.8,229.7 520.3,230.3 519.8,229.8 519.3,230.3 518.8,230.3 518.3,230.7 517.8,230.4 517.3,230.1 516.8,230.6 516.3,230.7 515.8,230.6 515.3,230.5 514.8,229.8 514.3,230.9 513.8,229.8 513.3,231.0 512.8,232.0 512.3,230.0 511.8,230.9 511.3,230.2 510.8,230.0 510.3,230.5 509.8,229.9 509.3,229.6 508.8,230.9 508.3,230.2 507.8,229.7 507.3,230.3 506.8,230.2 506.3,231.4 505.8,229.8 505.3,230.5 504.8,230.1 504.3,229.9 503.8,229.7 503.3,230.0 502.8,230.2 502.3,230.1 501.8,230.9 501.3,230.9 500.8,230.0 500.3,230.7 499.8,230.0 499.3,230.0 498.8,229.9 498.3,230.8 497.8,230.1 497.3,229.7 496.8,230.7 496.3,229.7 495.8,230.5 495.3,230.9 494.8,230.3 494.3,230.9 493.8,230.3 493.3,230.4 492.8,230.3 492.3,231.2 491.8,229.8 491.3,230.5 490.8,230.3 490.3,230.0 489.8,230.8 489.3,230.1 488.8,229.8 488.3,230.1 487.8,231.0 487.3,230.0 486.8,230.0 486.3,231.0 485.8,230.6 485.3,229.9 484.8,229.7 484.3,229.7 483.8,230.5 483.3,230.7 482.8,230.7 482.3,230.5 481.8,229.9 481.3,229.7 480.8,231.0 480.3,230.5 479.8,230.0 479.3,230.1 478.8,230.0 478.3,230.3 477.8,230.9 477.3,230.1 476.8,229.9 476.3,229.9 475.8,230.3 475.3,229.7 474.8,230.1 474.3,230.9 473.8,230.1 473.3,231.1 472.8,230.2 472.3,229.9 471.8,230.2 471.3,230.3 470.8,232.3 470.3,230.1 469.8,229.7 469.4,230.8 468.9,230.2 468.4,230.7 467.9,230.7 467.4,230.4 466.9,230.6 466.4,230.8 465.9,230.2 465.4,229.7 464.9,229.9 464.4,230.0 463.9,230.5 463.4,230.3 462.9,230.5 462.4,230.0 461.9,230.6 461.4,230.7 460.9,230.1 460.4,230.0 459.9,230.5 459.4,230.7 458.9,229.8 458.4,230.2 457.9,229.8 457.4,230.1 456.9,230.5 456.4,230.5 455.9,231.5 455.4,230.2 454.9,230.8 454.4,230.1 453.9,230.8 453.4,230.0 452.9,230.5 452.4,230.8 451.9,229.9 451.4,229.7 450.9,230.0 450.4,230.0 449.9,230.2 449.4,229.8 448.9,230.6 448.4,230.7 447.9,229.7 447.4,230.1 446.9,229.8 446.4,229.8 445.9,230.6 445.4,230.1 444.9,230.8 444.4,230.0 443.9,231.3 443.4,230.5 442.9,230.6 442.4,230.5 441.9,229.7 441.4,230.3 440.9,230.7 440.4,229.7 439.9,230.1 439.4,230.3 438.9,231.6 438.4,230.0 437.9,230.2 437.4,230.3 436.9,230.2 436.4,229.8 435.9,230.4 435.4,230.6 434.9,230.4 434.4,230.2 433.9,230.9 433.4,230.7 432.9,230.7 432.4,230.3 431.9,230.8 431.4,229.7 430.9,229.7 430.4,230.4 429.9,231.2 429.4,229.6 428.9,230.0 428.4,230.7 427.9,229.7 427.4,230.4 426.9,230.4 426.4,229.9 425.9,229.8 425.4,230.5 424.9,230.2 424.4,229.6 423.9,230.0 423.4,230.2 422.9,230.4 422.4,229.8 421.9,230.0 421.4,230.2 420.9,230.0 420.4,230.2 419.9,230.5 419.4,229.6 418.9,229.9 418.4,231.4 417.9,229.8 417.4,230.0 416.9,230.1 416.4,229.7 415.9,231.2 415.4,229.6 414.9,230.6 414.4,230.3 413.9,229.8 413.4,231.1 412.9,229.8 412.4,231.4 411.9,230.3 411.4,229.8 410.9,230.9 410.4,230.2 409.9,230.5 409.4,229.7 408.9,229.6 408.4,230.1 407.9,229.9 407.4,230.5 406.9,229.8 406.4,230.1 405.9,230.9 405.4,229.9 404.9,230.2 404.4,230.0 403.9,229.9 403.4,230.3 402.9,230.6 402.4,230.6 401.9,229.6 401.4,229.9 400.9,230.9 400.4,230.4 399.9,230.0 399.4,230.0 398.9,229.9 398.4,230.5 397.9,229.6 397.4,231.3 396.9,229.8 396.4,229.8 395.9,230.9 395.4,230.2 394.9,230.8 394.4,230.6 393.9,231.4 393.4,230.1 392.9,229.8 392.4,231.2 391.9,230.4 391.4,232.2 390.9,229.9 390.4,229.8 389.9,230.2 389.4,230.8 388.9,230.6 388.4,229.8 387.9,229.9 387.4,229.7 386.9,230.0 386.4,230.5 385.9,230.7 385.4,230.7 384.9,229.8 384.4,229.8 383.9,230.1 383.4,230.1 382.9,230.7 382.4,230.9 381.9,229.8 381.4,229.9 380.9,231.2 380.4,230.3 379.9,230.5 379.4,231.1 378.9,231.1 378.4,230.7 377.9,230.2 377.4,230.4 376.9,229.7 376.4,230.7 375.9,231.5 375.4,230.6 374.9,229.8 374.4,230.7 373.9,230.0 373.4,230.1 372.9,231.3 372.4,230.6 371.9,229.9 371.4,229.8 370.9,229.9 370.4,230.0 369.9,229.7 369.4,229.8 368.9,230.1 368.4,230.5 367.9,229.8 367.4,229.6 366.9,231.1 366.4,229.9 365.9,230.3 365.4,230.5 364.9,230.5 364.4,231.4 363.9,230.1 363.4,231.1 362.9,231.0 362.4,230.1 361.9,231.1 361.4,230.1 360.9,230.7 360.4,230.8 359.9,230.2 359.4,230.2 358.9,230.4 358.4,229.7 357.9,230.3 357.4,230.2 356.9,230.4 356.4,229.8 355.9,229.7 355.4,230.2 354.9,231.0 354.4,230.4 353.9,229.6 353.4,231.4 352.9,230.9 352.4,230.0 351.9,231.1 351.4,230.6 350.9,230.0 350.4,229.8 349.9,230.3 349.4,230.9 348.9,230.2 348.4,230.1 347.9,229.9 347.4,229.8 346.9,229.9 346.4,230.3 345.9,229.8 345.4,229.9 344.9,230.9 344.4,230.6 343.9,229.9 343.4,230.0 342.9,230.3 342.4,230.2 341.9,231.6 341.4,230.0 340.9,230.7 340.4,229.7 339.9,230.9 339.4,230.8"/>
<polyline clip-path="url(#cR4)" fill="none" stroke="#0000ff" stroke-width="0.80" stroke-linejoin="round" points="339.4,227.9 339.6,227.9 339.9,227.9 340.1,227.9 340.4,227.9 340.6,227.9 340.9,227.9 341.1,227.9 341.4,227.9 341.6,227.9 341.9,227.9 342.1,227.9 342.4,227.9 342.6,227.9 342.9,227.9 343.1,227.9 343.4,227.9 343.6,223.1 343.9,227.9 344.1,227.9 344.4,227.9 344.6,227.9 344.9,227.9 345.1,227.9 345.4,227.9 345.6,227.9 345.9,227.9 346.1,227.9 346.4,219.1 346.6,227.9 346.9,227.9 347.1,227.9 347.4,227.9 347.6,227.9 347.9,227.9 348.1,227.9 348.4,227.9 348.6,224.4 348.9,227.9 349.1,227.9 349.4,227.9 349.6,227.9 349.9,227.9 350.1,227.9 350.4,204.5 350.6,227.9 350.9,227.9 351.1,213.5 351.4,223.6 351.6,214.7 351.9,227.9 352.1,213.5 352.4,227.9 352.6,227.9 352.9,227.9 353.1,227.9 353.4,221.7 353.6,227.9 353.9,227.9 354.1,227.9 354.4,227.9 354.6,195.8 354.9,227.9 355.1,227.9 355.4,227.9 355.6,227.9 355.9,227.9 356.1,227.9 356.4,222.6 356.6,227.9 356.9,227.9 357.1,227.9 357.4,202.6 357.6,224.6 357.9,227.9 358.1,227.9 358.4,227.9 358.6,227.9 358.9,227.9 359.1,227.9 359.4,227.9 359.6,227.9 359.9,227.9 360.1,227.9 360.4,227.9 360.6,227.9 360.9,227.9 361.1,227.9 361.4,227.9 361.6,227.9 361.9,227.9 362.1,227.9 362.4,227.9 362.6,227.9 362.9,222.2 363.1,227.9 363.4,223.4 363.6,227.9 363.9,227.9 364.1,227.9 364.4,227.9 364.6,227.9 364.9,227.9 365.1,227.9 365.4,227.9 365.6,227.9 365.9,227.9 366.1,227.9 366.4,227.9 366.6,227.9 366.9,227.9 367.1,227.9 367.4,227.9 367.6,227.9 367.9,227.9 368.1,227.9 368.4,220.8 368.6,227.9 368.9,227.9 369.1,227.9 369.4,227.9 369.6,220.8 369.9,227.9 370.1,227.9 370.4,227.9 370.6,227.9 370.9,227.9 371.1,224.0 371.4,227.9 371.6,227.9 371.9,227.9 372.1,227.9 372.4,227.9 372.6,227.9 372.9,227.9 373.1,227.9 373.4,227.9 373.6,227.9 373.9,227.9 374.1,227.9 374.4,227.9 374.6,227.9 374.9,227.9 375.1,227.9 375.4,227.9 375.6,227.9 375.9,227.9 376.1,227.9 376.4,227.9 376.6,227.9 376.9,227.9 377.1,227.9 377.4,227.9 377.6,227.9 377.9,227.9 378.1,227.9 378.4,227.9 378.6,227.9 378.9,227.9 379.1,227.9 379.4,227.9 379.6,227.9 379.9,227.9 380.1,227.9 380.4,227.9 380.6,223.2 380.9,227.9 381.1,227.9 381.4,227.9 381.6,227.9 381.9,227.9 382.1,227.9 382.4,227.9 382.6,216.6 382.9,227.9 383.1,227.9 383.4,227.9 383.6,227.9 383.9,227.9 384.1,227.9 384.4,227.9 384.6,227.9 384.9,227.9 385.1,227.9 385.4,227.9 385.6,227.9 385.9,227.9 386.1,227.9 386.4,227.9 386.6,227.9 386.9,227.9 387.1,221.5 387.4,227.9 387.6,227.9 387.9,227.9 388.1,227.9 388.4,227.9 388.6,227.9 388.9,227.9 389.1,227.9 389.4,227.9 389.6,227.9 389.9,227.9 390.1,227.9 390.4,223.2 390.6,227.9 390.9,227.9 391.1,227.9 391.4,227.9 391.6,227.9 391.9,223.2 392.1,227.9 392.4,227.9 392.6,227.9 392.9,227.9 393.1,227.9 393.4,227.9 393.6,227.9 393.9,227.9 394.1,227.9 394.4,227.9 394.6,216.2 394.9,227.9 395.1,227.9 395.4,227.9 395.6,227.9 395.9,227.9 396.1,227.9 396.4,227.9 396.6,227.9 396.9,227.9 397.1,227.9 397.4,227.9 397.6,227.9 397.9,227.9 398.1,227.9 398.4,227.9 398.6,227.9 398.9,227.9 399.1,227.9 399.4,216.6 399.6,227.9 399.9,227.9 400.1,227.9 400.4,227.9 400.6,222.0 400.9,227.9 401.1,227.9 401.4,227.9 401.6,227.9 401.9,227.9 402.1,227.9 402.4,227.9 402.6,227.9 402.9,227.9 403.1,227.9 403.4,227.9 403.6,227.9 403.9,227.9 404.1,227.9 404.4,227.9 404.6,227.9 404.9,220.8 405.1,227.9 405.4,227.9 405.6,227.9 405.9,227.9 406.1,227.9 406.4,227.9 406.6,217.1 406.9,227.9 407.1,227.9 407.4,227.9 407.6,227.9 407.9,227.9 408.1,227.9 408.4,222.0 408.6,224.7 408.9,227.9 409.1,227.9 409.4,227.9 409.6,227.9 409.9,227.9 410.1,227.9 410.4,227.9 410.6,227.9 410.9,227.9 411.1,227.9 411.4,227.9 411.6,227.9 411.9,227.9 412.1,227.9 412.4,227.9 412.6,227.9 412.9,227.9 413.1,227.9 413.4,227.9 413.6,227.9 413.9,227.9 414.1,227.9 414.4,227.9 414.6,227.9 414.9,227.9 415.1,227.9 415.4,227.9 415.6,227.9 415.9,227.9 416.1,227.9 416.4,227.9 416.6,227.9 416.9,211.1 417.1,227.9 417.4,227.9 417.6,227.9 417.9,227.9 418.1,227.9 418.4,227.9 418.6,227.9 418.9,227.9 419.1,227.9 419.4,223.2 419.6,227.9 419.9,223.3 420.1,227.9 420.4,227.9 420.6,227.9 420.9,227.9 421.1,227.9 421.4,227.9 421.6,227.9 421.9,227.9 422.1,223.6 422.4,227.9 422.6,227.9 422.9,227.9 423.1,227.9 423.4,227.9 423.6,227.9 423.9,227.9 424.1,223.7 424.4,227.9 424.6,217.1 424.9,227.9 425.1,227.9 425.4,227.9 425.6,217.6 425.9,227.9 426.1,227.9 426.4,227.9 426.6,223.1 426.9,222.8 427.1,227.9 427.4,227.9 427.6,227.9 427.9,227.9 428.1,227.9 428.4,227.9 428.6,217.1 428.9,227.9 429.1,227.9 429.4,227.9 429.6,227.9 429.9,199.4 430.1,227.9 430.4,227.9 430.6,227.9 430.9,227.9 431.1,227.9 431.4,227.9 431.6,222.0 431.9,227.9 432.1,227.9 432.4,227.9 432.6,227.9 432.9,227.9 433.1,227.9 433.4,227.9 433.6,227.9 433.9,227.9 434.1,227.9 434.4,227.9 434.6,227.9 434.9,227.9 435.1,227.9 435.4,227.9 435.6,227.9 435.9,227.9 436.1,227.9 436.4,227.9 436.6,227.9 436.9,227.9 437.1,216.4 437.4,227.9 437.6,227.9 437.9,227.9 438.1,227.9 438.4,227.9 438.6,227.9 438.9,227.9 439.1,227.9 439.4,227.9 439.6,223.9 439.9,227.9 440.1,227.9 440.4,227.9 440.6,227.9 440.9,227.9 441.1,227.9 441.4,227.9 441.6,227.9 441.9,227.9 442.1,227.9 442.4,227.9 442.6,227.9 442.9,227.9 443.1,222.2 443.4,227.9 443.6,227.9 443.9,227.9 444.1,227.9 444.4,213.7 444.6,227.9 444.9,227.9 445.1,227.9 445.4,227.9 445.6,227.9 445.9,227.9 446.1,227.9 446.4,227.9 446.6,227.9 446.9,227.9 447.1,227.9 447.4,227.9 447.6,227.9 447.9,224.3 448.1,227.9 448.4,227.9 448.6,224.4 448.9,227.9 449.1,227.9 449.4,227.9 449.6,227.9 449.9,227.9 450.1,227.9 450.4,227.9 450.6,227.9 450.9,227.9 451.1,227.9 451.4,227.9 451.6,227.9 451.9,227.9 452.1,227.9 452.4,227.9 452.6,227.9 452.9,227.9 453.1,227.9 453.4,220.0 453.6,227.9 453.9,227.9 454.1,227.9 454.4,227.9 454.6,220.0 454.9,227.9 455.1,227.9 455.4,227.9 455.6,227.9 455.9,227.9 456.1,227.9 456.4,223.5 456.6,227.9 456.9,227.9 457.1,227.9 457.4,227.9 457.6,222.0 457.9,227.9 458.1,227.9 458.4,227.9 458.6,227.9 458.9,227.9 459.1,227.9 459.4,227.9 459.6,227.9 459.9,227.9 460.1,227.9 460.4,227.9 460.6,221.9 460.9,227.9 461.1,227.9 461.4,227.9 461.6,227.9 461.9,220.8 462.1,227.9 462.4,227.9 462.6,227.9 462.9,227.9 463.1,227.9 463.4,227.9 463.6,227.9 463.9,227.9 464.1,227.9 464.4,227.9 464.6,227.9 464.9,227.9 465.1,227.9 465.4,227.9 465.6,223.2 465.9,227.9 466.1,227.9 466.4,227.9 466.6,227.9 466.9,227.9 467.1,227.9 467.4,227.9 467.6,227.9 467.9,227.9 468.1,227.9 468.4,227.9 468.6,227.9 468.9,227.9 469.1,227.9 469.4,213.0 469.6,227.9 469.8,227.9 470.1,227.9 470.3,227.9 470.6,227.9 470.8,227.9 471.1,227.9 471.3,227.9 471.6,227.9 471.8,227.9 472.1,227.9 472.3,227.9 472.6,227.9 472.8,227.9 473.1,227.9 473.3,227.9 473.6,227.9 473.8,227.9 474.1,222.0 474.3,227.9 474.6,227.9 474.8,227.9 475.1,227.9 475.3,227.9 475.6,227.9 475.8,227.9 476.1,227.9 476.3,227.9 476.6,227.9 476.8,227.9 477.1,227.9 477.3,227.9 477.6,215.2 477.8,227.9 478.1,227.9 478.3,227.9 478.6,227.9 478.8,215.2 479.1,227.9 479.3,227.9 479.6,227.9 479.8,227.9 480.1,227.9 480.3,227.9 480.6,227.9 480.8,211.1 481.1,227.9 481.3,227.9 481.6,227.9 481.8,227.9 482.1,227.9 482.3,227.9 482.6,227.9 482.8,227.9 483.1,227.9 483.3,227.9 483.6,227.9 483.8,227.9 484.1,227.9 484.3,227.9 484.6,227.9 484.8,227.9 485.1,227.9 485.3,227.9 485.6,227.9 485.8,227.9 486.1,222.0 486.3,227.9 486.6,227.9 486.8,227.9 487.1,227.9 487.3,227.9 487.6,227.9 487.8,227.9 488.1,227.9 488.3,227.9 488.6,227.9 488.8,224.7 489.1,227.9 489.3,227.9 489.6,227.9 489.8,227.9 490.1,227.9 490.3,227.9 490.6,227.9 490.8,227.9 491.1,223.2 491.3,227.9 491.6,227.9 491.8,227.9 492.1,227.9 492.3,227.9 492.6,227.9 492.8,227.9 493.1,223.5 493.3,223.2 493.6,227.9 493.8,227.9 494.1,227.9 494.3,227.9 494.6,227.9 494.8,227.9 495.1,227.9 495.3,227.9 495.6,227.9 495.8,227.9 496.1,227.9 496.3,227.9 496.6,227.9 496.8,227.9 497.1,227.9 497.3,227.9 497.6,227.9 497.8,227.9 498.1,227.9 498.3,227.9 498.6,227.9 498.8,227.9 499.1,227.9 499.3,227.9 499.6,227.9 499.8,227.9 500.1,219.1 500.3,227.9 500.6,227.9 500.8,227.9 501.1,227.9 501.3,227.9 501.6,227.9 501.8,222.0 502.1,227.9 502.3,227.9 502.6,227.9 502.8,223.9 503.1,227.9 503.3,227.9 503.6,227.9 503.8,227.9 504.1,227.9 504.3,227.9 504.6,227.9 504.8,227.9 505.1,227.9 505.3,227.9 505.6,227.9 505.8,227.9 506.1,227.9 506.3,227.9 506.6,227.9 506.8,227.9 507.1,227.9 507.3,224.0 507.6,227.9 507.8,227.9 508.1,227.9 508.3,227.9 508.6,227.9 508.8,227.9 509.1,227.9 509.3,227.9 509.6,227.9 509.8,227.9 510.1,227.9 510.3,227.9 510.6,222.1 510.8,227.9 511.1,227.9 511.3,227.9 511.6,227.9 511.8,227.9 512.1,224.8 512.3,223.7 512.6,227.9 512.8,227.9 513.1,227.9 513.3,217.9 513.6,227.9 513.8,227.9 514.1,227.9 514.3,227.9 514.6,227.9 514.8,227.9 515.1,227.9 515.3,222.1 515.6,227.9 515.8,227.9 516.1,227.9 516.3,227.9 516.6,227.9 516.8,227.9 517.1,227.9 517.3,227.9 517.6,227.9 517.8,227.9 518.1,227.9 518.3,227.9 518.6,227.9 518.8,227.9 519.1,227.9 519.3,227.9 519.6,227.9 519.8,227.9 520.1,227.9 520.3,227.9 520.6,227.9 520.8,227.9 521.1,227.9 521.3,224.4 521.6,227.9 521.8,227.9 522.1,227.9 522.3,227.9 522.6,227.9 522.8,227.9 523.1,227.9 523.3,227.9 523.6,227.9 523.8,227.9 524.1,227.9 524.3,227.9 524.6,227.9 524.8,227.9 525.1,227.9 525.3,227.9 525.6,227.9 525.8,227.9 526.1,227.9 526.3,227.9 526.6,227.9 526.8,227.9 527.1,227.9 527.3,227.9 527.6,224.7 527.8,227.9 528.1,224.7 528.3,227.9 528.6,227.9 528.8,222.1 529.1,219.1 529.3,227.9 529.6,227.9 529.8,227.9 530.1,227.9 530.3,227.9 530.6,227.9 530.8,227.9 531.1,227.9 531.3,227.9 531.6,227.9 531.8,227.9 532.1,227.9 532.3,227.9 532.6,227.9 532.8,227.9 533.1,223.2 533.3,227.9 533.6,227.9 533.8,227.9 534.1,227.9 534.3,225.1 534.6,227.9 534.8,227.9 535.1,227.9 535.3,227.9 535.6,227.9 535.8,227.9 536.1,227.9 536.3,227.9 536.6,224.4 536.8,227.9 537.1,227.9 537.3,227.9 537.6,222.6 537.8,227.9 538.1,227.9 538.3,227.9 538.6,227.9 538.8,227.9 539.1,227.9 539.3,227.9 539.6,227.9 539.8,227.9 540.1,227.9 540.3,227.9 540.6,227.9 540.8,227.9 541.1,227.9 541.3,227.9 541.6,220.0 541.8,227.9 542.1,227.9 542.3,227.9 542.6,227.9 542.8,227.9 543.1,227.9 543.3,227.9 543.6,227.9 543.8,227.9 544.1,227.9 544.3,227.9 544.6,227.9 544.8,227.9 545.1,222.5 545.3,227.9 545.6,227.9 545.8,227.9 546.1,220.8 546.3,227.9 546.6,227.9 546.8,227.9 547.1,227.9 547.3,227.9 547.6,227.9 547.8,227.9 548.1,227.9 548.3,227.9 548.6,227.9 548.8,227.9 549.1,227.9 549.3,227.9 549.6,227.9 549.8,227.9 550.1,227.9 550.3,225.6 550.6,227.9 550.8,227.9 551.1,227.9 551.3,227.9 551.6,227.9 551.8,227.9 552.1,223.9 552.3,227.9 552.6,227.9 552.8,227.9 553.1,227.9 553.3,227.9 553.6,227.9 553.8,227.9 554.1,227.9 554.3,227.9 554.6,227.9 554.8,227.9 555.1,227.9 555.3,227.9 555.6,227.9 555.8,227.9 556.1,227.9 556.3,227.9 556.6,227.9 556.8,227.9 557.1,227.9 557.3,227.9 557.6,227.9 557.8,227.9 558.1,227.9 558.3,227.9 558.6,227.9 558.8,227.9 559.1,227.9 559.3,227.9 559.6,227.9 559.8,227.9 560.1,223.2 560.3,227.9 560.6,227.9 560.8,227.9 561.1,227.9 561.3,227.9 561.6,227.9 561.8,227.9 562.1,227.9 562.3,227.9 562.6,227.9 562.8,227.9 563.1,227.9 563.3,227.9 563.6,227.9 563.8,227.9 564.1,223.0 564.3,227.9 564.6,227.9 564.8,227.9 565.1,223.8 565.3,227.9 565.6,227.9 565.8,227.9 566.1,227.9 566.3,227.9 566.6,227.9 566.8,227.9 567.1,227.9 567.3,227.9 567.6,227.9 567.8,227.9 568.1,227.9 568.3,227.9 568.6,227.9 568.8,227.9 569.1,227.9 569.3,227.9 569.6,227.9 569.8,227.9 570.1,227.9 570.3,227.9 570.6,227.9 570.8,227.9 571.1,222.0 571.3,227.9 571.6,227.9 571.8,227.9 572.1,227.9 572.3,227.9 572.6,227.9 572.8,227.9 573.1,227.9 573.3,223.9 573.6,227.9 573.8,227.9 574.1,227.9 574.3,227.9 574.6,227.9 574.8,227.9 575.1,227.9 575.3,227.9 575.6,227.9 575.8,220.8 576.1,227.9 576.3,227.9 576.6,227.9 576.8,222.6 577.1,227.9 577.3,223.7 577.6,227.9 577.8,227.9 578.1,227.9 578.3,227.9 578.6,227.9 578.8,227.9 579.1,227.9 579.3,227.9 579.6,227.9 579.8,227.9 580.1,227.9 580.3,223.2 580.6,227.9 580.8,227.9 581.1,227.9 581.3,227.9 581.6,227.9 581.8,227.9 582.1,227.9 582.3,227.9 582.6,227.9 582.8,227.9 583.1,227.9 583.3,227.9 583.6,227.9 583.8,227.9 584.1,223.0 584.3,227.9 584.6,227.9 584.8,227.9 585.1,227.9 585.3,227.9 585.6,227.9 585.8,227.9 586.1,223.2 586.3,227.9 586.6,227.9 586.8,227.9 587.1,227.9 587.3,227.9 587.6,227.9 587.8,227.9 588.1,227.9 588.3,227.9 588.6,227.9 588.8,227.9 589.1,227.9 589.3,227.9 589.6,227.9 589.8,227.9 590.1,227.9 590.3,227.9 590.6,227.9 590.8,227.9 591.1,227.9 591.3,219.6 591.6,227.9 591.8,227.9 592.1,227.9 592.3,227.9 592.6,223.3 592.8,227.9 593.1,227.9 593.3,227.9 593.6,224.8 593.8,227.9 594.1,227.9 594.3,227.9 594.6,227.9 594.8,227.9 595.1,227.9 595.3,227.9 595.6,227.9 595.8,227.9 596.1,227.9 596.3,227.9 596.6,223.2 596.8,227.9 597.1,227.9 597.3,222.2 597.6,227.9 597.8,227.9 598.1,227.9 598.3,227.9 598.6,227.9 598.8,227.9 599.1,223.2 599.3,227.9 599.6,227.9 599.8,227.9 600.1,227.9 600.3,227.9"/>
<rect x="325.90" y="189.60" width="288.60" height="46.40" fill="none" stroke="#444444" stroke-width="0.60"/>
<line x1="324.30" y1="227.90" x2="325.90" y2="227.90" stroke="#444444" stroke-width="0.60"/>
<text x="321.80" y="230.12" text-anchor="end" class="tk" textLength="8.67" lengthAdjust="spacingAndGlyphs">0.0</text>
<line x1="324.30" y1="210.65" x2="325.90" y2="210.65" stroke="#444444" stroke-width="0.60"/>
<text x="321.80" y="212.87" text-anchor="end" class="tk" textLength="8.67" lengthAdjust="spacingAndGlyphs">0.5</text>
<line x1="324.30" y1="193.40" x2="325.90" y2="193.40" stroke="#444444" stroke-width="0.60"/>
<text x="321.80" y="195.62" text-anchor="end" class="tk" textLength="8.67" lengthAdjust="spacingAndGlyphs">1.0</text>
<line x1="339.40" y1="236.00" x2="339.40" y2="238.40" stroke="#444444" stroke-width="0.60"/>
<text x="339.40" y="244.70" text-anchor="middle" class="tk" textLength="3.47" lengthAdjust="spacingAndGlyphs">0</text>
<line x1="391.58" y1="236.00" x2="391.58" y2="238.40" stroke="#444444" stroke-width="0.60"/>
<text x="391.58" y="244.70" text-anchor="middle" class="tk" textLength="13.86" lengthAdjust="spacingAndGlyphs">5000</text>
<line x1="443.76" y1="236.00" x2="443.76" y2="238.40" stroke="#444444" stroke-width="0.60"/>
<text x="443.76" y="244.70" text-anchor="middle" class="tk" textLength="17.33" lengthAdjust="spacingAndGlyphs">10000</text>
<line x1="495.94" y1="236.00" x2="495.94" y2="238.40" stroke="#444444" stroke-width="0.60"/>
<text x="495.94" y="244.70" text-anchor="middle" class="tk" textLength="17.33" lengthAdjust="spacingAndGlyphs">15000</text>
<line x1="548.12" y1="236.00" x2="548.12" y2="238.40" stroke="#444444" stroke-width="0.60"/>
<text x="548.12" y="244.70" text-anchor="middle" class="tk" textLength="17.33" lengthAdjust="spacingAndGlyphs">20000</text>
<line x1="600.30" y1="236.00" x2="600.30" y2="238.40" stroke="#444444" stroke-width="0.60"/>
<text x="600.30" y="244.70" text-anchor="middle" class="tk" textLength="17.33" lengthAdjust="spacingAndGlyphs">25000</text>
<line x1="490.60" y1="200.20" x2="507.30" y2="200.20" stroke="#0000ff" stroke-width="0.9"/>
<text x="513.33" y="203.60" class="lg" style="font-size:7.90px" textLength="93.71" lengthAdjust="spacingAndGlyphs">DnCNN denoised signal</text>
<clipPath id="cR5"><rect x="325.90" y="251.40" width="288.60" height="46.60"/></clipPath>
<polyline clip-path="url(#cR5)" fill="none" stroke="#008000" stroke-width="0.95" stroke-linejoin="round" points="339.4,289.1 339.6,288.4 339.9,289.0 340.1,288.9 340.4,288.3 340.6,289.3 340.9,289.1 341.1,289.3 341.4,289.0 341.6,288.7 341.9,289.4 342.1,289.2 342.4,288.7 342.6,289.0 342.9,289.2 343.1,288.6 343.4,288.8 343.6,289.3 343.9,289.3 344.1,288.9 344.4,289.0 344.6,288.9 344.9,288.8 345.1,289.3 345.4,288.9 345.6,288.8 345.9,289.4 346.1,288.5 346.4,286.4 346.6,288.7 346.9,289.1 347.1,288.7 347.4,288.8 347.6,289.1 347.9,288.9 348.1,288.9 348.4,289.2 348.6,289.1 348.9,288.9 349.1,288.8 349.4,289.0 349.6,289.3 349.9,289.2 350.1,288.9 350.4,267.5 350.6,289.2 350.9,289.2 351.1,275.5 351.4,288.8 351.6,276.7 351.9,288.8 352.1,275.5 352.4,289.1 352.6,279.1 352.9,288.5 353.1,289.3 353.4,289.4 353.6,289.4 353.9,289.0 354.1,289.2 354.4,289.2 354.6,252.0 354.9,288.6 355.1,288.7 355.4,289.2 355.6,289.1 355.9,289.1 356.1,288.9 356.4,288.5 356.6,288.9 356.9,288.8 357.1,289.1 357.4,265.8 357.6,289.1 357.9,289.0 358.1,289.8 358.4,288.8 358.6,289.1 358.9,289.3 359.1,288.6 359.4,282.8 359.6,289.2 359.9,289.2 360.1,289.0 360.4,289.1 360.6,288.9 360.9,289.2 361.1,289.4 361.4,289.0 361.6,289.1 361.9,289.2 362.1,288.8 362.4,289.2 362.6,288.9 362.9,288.7 363.1,288.6 363.4,288.9 363.6,288.7 363.9,289.2 364.1,288.8 364.4,282.8 364.6,289.2 364.9,288.9 365.1,289.1 365.4,289.1 365.6,289.0 365.9,289.1 366.1,289.2 366.4,289.0 366.6,288.8 366.9,288.4 367.1,289.3 367.4,288.8 367.6,288.8 367.9,289.1 368.1,289.1 368.4,288.9 368.6,288.3 368.9,289.4 369.1,289.2 369.4,288.7 369.6,286.9 369.9,289.4 370.1,288.8 370.4,289.1 370.6,289.0 370.9,288.4 371.1,288.6 371.4,288.5 371.6,289.4 371.9,288.9 372.1,288.5 372.4,289.0 372.6,289.1 372.9,288.7 373.1,289.2 373.4,289.0 373.6,289.4 373.9,289.2 374.1,289.4 374.4,289.2 374.6,288.8 374.9,288.9 375.1,288.8 375.4,289.2 375.6,286.9 375.9,289.3 376.1,289.2 376.4,289.3 376.6,289.2 376.9,289.1 377.1,288.7 377.4,289.2 377.6,288.7 377.9,289.3 378.1,289.3 378.4,289.3 378.6,281.1 378.9,289.1 379.1,289.6 379.4,289.3 379.6,288.8 379.9,289.5 380.1,289.1 380.4,289.2 380.6,289.6 380.9,288.6 381.1,289.2 381.4,288.7 381.6,288.9 381.9,289.4 382.1,288.9 382.4,288.9 382.6,288.9 382.9,289.1 383.1,288.9 383.4,288.9 383.6,288.8 383.9,289.3 384.1,288.9 384.4,288.3 384.6,289.0 384.9,289.3 385.1,288.8 385.4,288.7 385.6,289.2 385.9,289.1 386.1,288.9 386.4,289.4 386.6,289.3 386.9,288.9 387.1,284.5 387.4,289.2 387.6,288.5 387.9,288.7 388.1,289.1 388.4,289.5 388.6,289.2 388.9,288.6 389.1,289.4 389.4,288.9 389.6,288.9 389.9,289.0 390.1,289.7 390.4,285.9 390.6,289.1 390.9,288.9 391.1,289.1 391.4,288.6 391.6,285.9 391.9,289.0 392.1,288.7 392.4,288.8 392.6,289.5 392.9,289.2 393.1,289.2 393.4,288.7 393.6,289.1 393.9,288.9 394.1,288.7 394.4,288.8 394.6,289.4 394.9,289.1 395.1,285.9 395.4,289.3 395.6,288.4 395.9,288.9 396.1,288.8 396.4,288.9 396.6,288.6 396.9,288.8 397.1,288.9 397.4,288.9 397.6,288.7 397.9,289.0 398.1,288.9 398.4,289.1 398.6,289.0 398.9,289.3 399.1,289.2 399.4,278.7 399.6,288.8 399.9,289.6 400.1,288.8 400.4,288.6 400.6,288.9 400.9,289.5 401.1,288.9 401.4,288.9 401.6,289.1 401.9,289.2 402.1,288.9 402.4,289.3 402.6,288.8 402.9,289.2 403.1,288.9 403.4,289.1 403.6,288.5 403.9,289.4 404.1,289.1 404.4,289.0 404.6,289.1 404.9,288.8 405.1,289.1 405.4,288.8 405.6,289.0 405.9,288.5 406.1,289.0 406.4,288.4 406.6,279.1 406.9,288.8 407.1,288.8 407.4,289.0 407.6,288.9 407.9,288.8 408.1,289.1 408.4,285.9 408.6,288.8 408.9,289.2 409.1,289.1 409.4,288.9 409.6,289.3 409.9,289.2 410.1,289.5 410.4,288.6 410.6,288.8 410.9,289.1 411.1,289.3 411.4,288.9 411.6,289.1 411.9,288.8 412.1,288.9 412.4,288.9 412.6,289.0 412.9,288.9 413.1,288.7 413.4,289.0 413.6,289.1 413.9,289.0 414.1,289.0 414.4,289.3 414.6,288.5 414.9,289.0 415.1,289.4 415.4,288.9 415.6,288.8 415.9,289.0 416.1,288.9 416.4,288.9 416.6,289.3 416.9,274.3 417.1,288.8 417.4,288.9 417.6,289.7 417.9,288.9 418.1,288.6 418.4,288.9 418.6,289.2 418.9,288.9 419.1,289.3 419.4,289.2 419.6,289.5 419.9,288.6 420.1,288.7 420.4,289.2 420.6,289.3 420.9,289.1 421.1,288.8 421.4,288.7 421.6,289.0 421.9,289.5 422.1,289.0 422.4,289.3 422.6,288.8 422.9,289.5 423.1,289.5 423.4,288.9 423.6,289.0 423.9,289.3 424.1,289.0 424.4,278.7 424.6,288.8 424.9,288.9 425.1,289.2 425.4,289.3 425.6,289.2 425.9,289.3 426.1,289.1 426.4,289.7 426.6,288.7 426.9,289.0 427.1,288.8 427.4,289.1 427.6,289.0 427.9,289.2 428.1,289.0 428.4,288.8 428.6,279.1 428.9,289.2 429.1,288.9 429.4,288.9 429.6,289.1 429.9,262.9 430.1,288.5 430.4,288.8 430.6,289.0 430.9,289.2 431.1,289.0 431.4,288.8 431.6,288.9 431.9,289.2 432.1,289.1 432.4,289.0 432.6,288.5 432.9,289.2 433.1,289.1 433.4,289.5 433.6,288.7 433.9,289.2 434.1,289.0 434.4,289.4 434.6,289.2 434.9,289.0 435.1,288.4 435.4,289.1 435.6,289.2 435.9,288.9 436.1,289.4 436.4,289.3 436.6,288.9 436.9,288.9 437.1,280.3 437.4,288.9 437.6,288.7 437.9,288.5 438.1,288.9 438.4,288.7 438.6,289.0 438.9,289.1 439.1,288.6 439.4,289.4 439.6,289.4 439.9,289.3 440.1,289.1 440.4,288.9 440.6,289.1 440.9,288.7 441.1,289.1 441.4,289.3 441.6,288.8 441.9,289.3 442.1,288.5 442.4,284.5 442.6,289.0 442.9,289.5 443.1,289.2 443.4,288.8 443.6,289.1 443.9,288.3 444.1,289.1 444.4,276.2 444.6,288.7 444.9,288.5 445.1,289.1 445.4,288.9 445.6,289.3 445.9,289.3 446.1,288.5 446.4,289.3 446.6,288.7 446.9,289.1 447.1,289.1 447.4,289.0 447.6,288.8 447.9,289.0 448.1,288.7 448.4,288.5 448.6,288.6 448.9,289.6 449.1,288.8 449.4,288.7 449.6,288.8 449.9,288.6 450.1,289.0 450.4,288.8 450.6,289.2 450.9,289.1 451.1,289.2 451.4,288.8 451.6,288.9 451.9,289.0 452.1,286.9 452.4,289.6 452.6,289.2 452.9,289.0 453.1,289.2 453.4,289.1 453.6,288.9 453.9,289.2 454.1,289.5 454.4,289.2 454.6,288.7 454.9,289.1 455.1,288.7 455.4,288.4 455.6,289.3 455.9,289.1 456.1,288.9 456.4,289.1 456.6,288.4 456.9,289.4 457.1,287.6 457.4,289.5 457.6,289.1 457.9,289.1 458.1,288.8 458.4,289.4 458.6,288.9 458.9,288.7 459.1,288.6 459.4,288.8 459.6,288.9 459.9,288.1 460.1,289.2 460.4,289.8 460.6,289.3 460.9,289.0 461.1,289.2 461.4,288.9 461.6,289.0 461.9,289.1 462.1,289.1 462.4,288.8 462.6,289.1 462.9,288.9 463.1,289.1 463.4,288.9 463.6,289.1 463.9,289.6 464.1,288.9 464.4,289.0 464.6,289.1 464.9,288.7 465.1,288.8 465.4,288.8 465.6,288.9 465.9,288.6 466.1,289.1 466.4,277.9 466.6,288.9 466.9,288.6 467.1,289.0 467.4,288.5 467.6,288.9 467.9,288.8 468.1,288.9 468.4,288.8 468.6,289.1 468.9,289.3 469.1,288.7 469.4,274.3 469.6,288.8 469.8,289.2 470.1,289.3 470.3,289.2 470.6,288.6 470.8,289.0 471.1,288.7 471.3,288.8 471.6,288.7 471.8,289.1 472.1,288.9 472.3,288.8 472.6,289.2 472.8,289.0 473.1,288.4 473.3,288.9 473.6,289.1 473.8,289.4 474.1,288.8 474.3,289.1 474.6,288.7 474.8,288.5 475.1,288.8 475.3,288.7 475.6,289.2 475.8,288.8 476.1,289.0 476.3,289.1 476.6,288.1 476.8,289.2 477.1,289.3 477.3,288.4 477.6,288.6 477.8,288.9 478.1,289.0 478.3,288.9 478.6,288.5 478.8,288.9 479.1,289.0 479.3,282.8 479.6,289.0 479.8,288.9 480.1,289.1 480.3,288.9 480.6,288.6 480.8,275.7 481.1,289.2 481.3,288.8 481.6,289.3 481.8,289.0 482.1,288.4 482.3,288.8 482.6,289.2 482.8,289.2 483.1,279.1 483.3,289.3 483.6,288.8 483.8,288.7 484.1,288.9 484.3,289.2 484.6,289.0 484.8,288.9 485.1,288.9 485.3,289.0 485.6,288.9 485.8,289.2 486.1,286.4 486.3,288.5 486.6,288.9 486.8,289.3 487.1,288.9 487.3,288.9 487.6,288.6 487.8,289.4 488.1,289.1 488.3,289.3 488.6,289.1 488.8,288.9 489.1,288.9 489.3,289.5 489.6,289.2 489.8,289.0 490.1,288.5 490.3,289.1 490.6,288.9 490.8,289.1 491.1,288.9 491.3,289.2 491.6,289.1 491.8,289.1 492.1,288.3 492.3,288.8 492.6,289.2 492.8,286.9 493.1,288.9 493.3,289.1 493.6,289.2 493.8,288.7 494.1,289.3 494.3,289.4 494.6,288.7 494.8,289.0 495.1,289.1 495.3,288.8 495.6,288.9 495.8,288.6 496.1,288.3 496.3,289.2 496.6,289.2 496.8,289.0 497.1,289.3 497.3,289.4 497.6,284.0 497.8,288.3 498.1,289.1 498.3,289.0 498.6,288.9 498.8,289.2 499.1,289.2 499.3,289.1 499.6,288.6 499.8,289.5 500.1,288.7 500.3,289.4 500.6,289.1 500.8,288.9 501.1,288.9 501.3,288.5 501.6,289.2 501.8,288.8 502.1,288.8 502.3,288.9 502.6,288.9 502.8,289.3 503.1,288.9 503.3,289.1 503.6,288.7 503.8,289.1 504.1,289.2 504.3,289.0 504.6,289.3 504.8,288.7 505.1,288.8 505.3,289.3 505.6,289.2 505.8,289.3 506.1,288.8 506.3,289.3 506.6,288.8 506.8,289.0 507.1,289.1 507.3,288.3 507.6,289.1 507.8,288.9 508.1,288.8 508.3,288.5 508.6,288.9 508.8,289.0 509.1,289.3 509.3,289.3 509.6,282.3 509.8,289.1 510.1,288.6 510.3,289.0 510.6,289.3 510.8,289.3 511.1,289.1 511.3,289.0 511.6,289.0 511.8,289.1 512.1,289.5 512.3,289.1 512.6,288.9 512.8,289.1 513.1,288.9 513.3,288.7 513.6,288.9 513.8,288.8 514.1,289.3 514.3,289.0 514.6,288.9 514.8,289.4 515.1,289.0 515.3,289.2 515.6,289.2 515.8,288.9 516.1,288.7 516.3,289.1 516.6,289.3 516.8,289.6 517.1,288.8 517.3,288.7 517.6,289.3 517.8,289.1 518.1,288.8 518.3,289.1 518.6,288.9 518.8,289.2 519.1,289.0 519.3,289.0 519.6,289.1 519.8,289.0 520.1,289.2 520.3,289.0 520.6,288.8 520.8,288.9 521.1,288.7 521.3,289.1 521.6,289.2 521.8,288.8 522.1,289.1 522.3,289.0 522.6,288.8 522.8,289.1 523.1,289.1 523.3,289.3 523.6,288.9 523.8,289.5 524.1,288.9 524.3,288.7 524.6,288.8 524.8,288.8 525.1,289.1 525.3,289.2 525.6,289.5 525.8,289.1 526.1,289.0 526.3,288.6 526.6,289.3 526.8,288.8 527.1,288.6 527.3,288.9 527.6,289.1 527.8,289.2 528.1,288.8 528.3,289.0 528.6,288.4 528.8,289.3 529.1,289.2 529.3,288.6 529.6,289.2 529.8,289.2 530.1,289.1 530.3,288.5 530.6,289.3 530.8,288.6 531.1,288.7 531.3,289.3 531.6,288.6 531.8,288.8 532.1,288.7 532.3,288.7 532.6,289.3 532.8,288.5 533.1,288.9 533.3,288.7 533.6,288.9 533.8,288.7 534.1,288.7 534.3,289.0 534.6,289.0 534.8,288.6 535.1,289.4 535.3,289.3 535.6,289.0 535.8,289.1 536.1,288.5 536.3,285.2 536.6,288.6 536.8,289.2 537.1,289.0 537.3,288.7 537.6,289.1 537.8,288.7 538.1,289.2 538.3,289.2 538.6,288.9 538.8,289.1 539.1,289.1 539.3,289.1 539.6,289.3 539.8,288.8 540.1,289.0 540.3,289.6 540.6,288.9 540.8,288.6 541.1,289.0 541.3,289.7 541.6,288.9 541.8,288.8 542.1,289.4 542.3,289.4 542.6,288.7 542.8,288.8 543.1,288.9 543.3,289.0 543.6,289.2 543.8,289.1 544.1,289.4 544.3,288.8 544.6,289.0 544.8,289.4 545.1,289.3 545.3,289.5 545.6,289.4 545.8,288.9 546.1,288.7 546.3,289.0 546.6,289.1 546.8,288.9 547.1,289.3 547.3,289.1 547.6,289.8 547.8,288.7 548.1,289.1 548.3,288.6 548.6,289.1 548.8,288.8 549.1,289.0 549.3,289.1 549.6,288.8 549.8,289.1 550.1,288.9 550.3,289.4 550.6,289.1 550.8,288.8 551.1,289.4 551.3,289.0 551.6,289.5 551.8,288.9 552.1,289.1 552.3,289.2 552.6,288.7 552.8,289.1 553.1,289.3 553.3,281.6 553.6,288.7 553.8,288.9 554.1,289.0 554.3,289.3 554.6,288.9 554.8,289.2 555.1,289.2 555.3,289.0 555.6,288.6 555.8,288.7 556.1,289.2 556.3,288.4 556.6,289.8 556.8,289.0 557.1,288.6 557.3,289.2 557.6,288.8 557.8,288.9 558.1,289.1 558.3,289.4 558.6,289.2 558.8,289.0 559.1,289.4 559.3,288.9 559.6,288.8 559.8,289.1 560.1,288.7 560.3,288.7 560.6,288.9 560.8,288.8 561.1,288.4 561.3,289.0 561.6,289.0 561.8,289.4 562.1,289.3 562.3,289.3 562.6,286.9 562.8,289.0 563.1,289.1 563.3,288.8 563.6,289.1 563.8,289.1 564.1,289.4 564.3,289.3 564.6,288.7 564.8,288.9 565.1,289.1 565.3,289.1 565.6,288.9 565.8,289.0 566.1,288.3 566.3,289.1 566.6,288.7 566.8,288.9 567.1,289.1 567.3,286.9 567.6,288.7 567.8,289.1 568.1,289.3 568.3,289.4 568.6,289.3 568.8,288.9 569.1,288.9 569.3,289.2 569.6,288.3 569.8,289.1 570.1,288.5 570.3,289.2 570.6,289.0 570.8,288.7 571.1,288.6 571.3,288.8 571.6,289.2 571.8,288.8 572.1,288.8 572.3,289.0 572.6,288.6 572.8,288.9 573.1,289.4 573.3,288.9 573.6,289.1 573.8,289.2 574.1,288.9 574.3,289.2 574.6,289.2 574.8,289.0 575.1,288.1 575.3,289.1 575.6,289.0 575.8,289.2 576.1,288.8 576.3,288.5 576.6,288.9 576.8,289.2 577.1,288.9 577.3,289.1 577.6,288.5 577.8,289.3 578.1,289.4 578.3,289.1 578.6,288.6 578.8,289.2 579.1,289.1 579.3,289.3 579.6,289.0 579.8,289.2 580.1,289.1 580.3,289.4 580.6,289.0 580.8,289.2 581.1,289.4 581.3,289.2 581.6,289.0 581.8,289.0 582.1,289.6 582.3,288.9 582.6,288.3 582.8,289.2 583.1,289.7 583.3,288.9 583.6,289.6 583.8,288.7 584.1,288.9 584.3,288.8 584.6,288.8 584.8,289.1 585.1,289.1 585.3,288.6 585.6,289.6 585.8,288.9 586.1,289.0 586.3,288.7 586.6,288.9 586.8,288.9 587.1,288.8 587.3,289.4 587.6,288.8 587.8,289.6 588.1,288.4 588.3,288.6 588.6,289.1 588.8,288.6 589.1,289.0 589.3,286.9 589.6,289.1 589.8,289.5 590.1,288.4 590.3,288.6 590.6,289.0 590.8,289.1 591.1,288.9 591.3,288.8 591.6,289.0 591.8,288.8 592.1,289.0 592.3,289.1 592.6,288.9 592.8,289.0 593.1,288.9 593.3,289.1 593.6,288.8 593.8,289.2 594.1,287.6 594.3,289.1 594.6,289.0 594.8,288.9 595.1,288.8 595.3,288.9 595.6,289.1 595.8,289.1 596.1,288.8 596.3,289.3 596.6,288.5 596.8,289.4 597.1,288.4 597.3,289.2 597.6,289.2 597.8,289.1 598.1,288.6 598.3,289.0 598.6,288.9 598.8,289.2 599.1,289.0 599.3,289.1 599.6,289.5 599.8,288.8 600.1,288.3 600.3,288.5"/>
<rect x="325.90" y="251.40" width="288.60" height="46.60" fill="none" stroke="#444444" stroke-width="0.60"/>
<line x1="324.30" y1="289.50" x2="325.90" y2="289.50" stroke="#444444" stroke-width="0.60"/>
<text x="321.80" y="291.72" text-anchor="end" class="tk" textLength="8.67" lengthAdjust="spacingAndGlyphs">0.0</text>
<line x1="324.30" y1="272.45" x2="325.90" y2="272.45" stroke="#444444" stroke-width="0.60"/>
<text x="321.80" y="274.67" text-anchor="end" class="tk" textLength="8.67" lengthAdjust="spacingAndGlyphs">0.5</text>
<line x1="324.30" y1="255.40" x2="325.90" y2="255.40" stroke="#444444" stroke-width="0.60"/>
<text x="321.80" y="257.62" text-anchor="end" class="tk" textLength="8.67" lengthAdjust="spacingAndGlyphs">1.0</text>
<line x1="339.40" y1="298.00" x2="339.40" y2="300.40" stroke="#444444" stroke-width="0.60"/>
<text x="339.40" y="306.70" text-anchor="middle" class="tk" textLength="3.47" lengthAdjust="spacingAndGlyphs">0</text>
<line x1="391.58" y1="298.00" x2="391.58" y2="300.40" stroke="#444444" stroke-width="0.60"/>
<text x="391.58" y="306.70" text-anchor="middle" class="tk" textLength="13.86" lengthAdjust="spacingAndGlyphs">5000</text>
<line x1="443.76" y1="298.00" x2="443.76" y2="300.40" stroke="#444444" stroke-width="0.60"/>
<text x="443.76" y="306.70" text-anchor="middle" class="tk" textLength="17.33" lengthAdjust="spacingAndGlyphs">10000</text>
<line x1="495.94" y1="298.00" x2="495.94" y2="300.40" stroke="#444444" stroke-width="0.60"/>
<text x="495.94" y="306.70" text-anchor="middle" class="tk" textLength="17.33" lengthAdjust="spacingAndGlyphs">15000</text>
<line x1="548.12" y1="298.00" x2="548.12" y2="300.40" stroke="#444444" stroke-width="0.60"/>
<text x="548.12" y="306.70" text-anchor="middle" class="tk" textLength="17.33" lengthAdjust="spacingAndGlyphs">20000</text>
<line x1="600.30" y1="298.00" x2="600.30" y2="300.40" stroke="#444444" stroke-width="0.60"/>
<text x="600.30" y="306.70" text-anchor="middle" class="tk" textLength="17.33" lengthAdjust="spacingAndGlyphs">25000</text>
<line x1="503.20" y1="262.20" x2="519.70" y2="262.20" stroke="#008000" stroke-width="0.9"/>
<text x="525.86" y="265.90" class="lg" style="font-size:7.90px" textLength="81.18" lengthAdjust="spacingAndGlyphs">CAE denoised signal</text>
<text x="120.2" y="317.0" class="xl" textLength="81.5" lengthAdjust="spacingAndGlyphs">Wavelength (AA)</text>
<text x="429.9" y="317.0" class="xl" textLength="81.1" lengthAdjust="spacingAndGlyphs">Wavelength (AA)</text>
<text x="38.60" y="344.2" class="cap" textLength="18.20" lengthAdjust="spacingAndGlyphs">(a)</text>
<text x="63.40" y="344.2" class="cap" textLength="64.40" lengthAdjust="spacingAndGlyphs">Denoising</text>
<text x="132.40" y="344.2" class="cap" textLength="81.30" lengthAdjust="spacingAndGlyphs">comparisons</text>
<text x="219.00" y="344.2" class="cap" textLength="18.30" lengthAdjust="spacingAndGlyphs">for</text>
<text x="242.50" y="344.2" class="cap" textLength="23.40" lengthAdjust="spacingAndGlyphs">W2</text>
<text x="348.60" y="344.2" class="cap" textLength="18.60" lengthAdjust="spacingAndGlyphs">(b)</text>
<text x="373.70" y="344.2" class="cap" textLength="64.40" lengthAdjust="spacingAndGlyphs">Denoising</text>
<text x="443.60" y="344.2" class="cap" textLength="80.90" lengthAdjust="spacingAndGlyphs">comparisons</text>
<text x="529.80" y="344.2" class="cap" textLength="18.60" lengthAdjust="spacingAndGlyphs">for</text>
<text x="553.00" y="344.2" class="cap" textLength="19.70" lengthAdjust="spacingAndGlyphs">N0</text>
</svg>
</body></html>
